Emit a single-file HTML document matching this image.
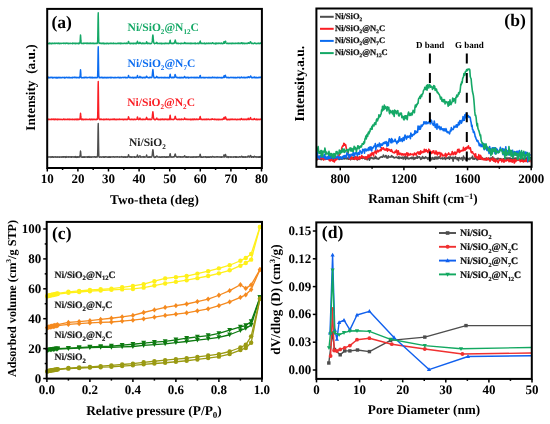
<!DOCTYPE html>
<html><head><meta charset="utf-8"><style>
html,body{margin:0;padding:0;background:#fff;}
svg{display:block;filter:blur(0.3px);}
text{font-family:'Liberation Serif','Times New Roman',serif;font-weight:bold;text-rendering:geometricPrecision}
</style></head><body>
<svg width="550" height="424" viewBox="0 0 550 424">
<rect width="550" height="424" fill="#fff"/>
<path d="M47.3 156.94 L47.45 156.87 L47.61 156.95 L47.76 157.21 L47.91 156.86 L48.07 156.93 L48.22 157.09 L48.37 156.91 L48.52 156.94 L48.68 156.95 L48.83 157 L48.98 156.91 L49.14 157.12 L49.29 157.03 L49.44 157.08 L49.6 156.9 L49.75 156.99 L49.9 157.05 L50.05 157.13 L50.21 157.04 L50.36 157 L50.51 157.04 L50.67 156.79 L50.82 156.84 L50.97 157.43 L51.13 157.3 L51.28 157.03 L51.43 157.07 L51.58 156.97 L51.74 156.97 L51.89 156.66 L52.04 157.18 L52.2 157.06 L52.35 156.67 L52.5 156.9 L52.66 156.89 L52.81 157.08 L52.96 157.26 L53.11 156.97 L53.27 156.98 L53.42 157.2 L53.57 157.11 L53.73 157.01 L53.88 157.15 L54.03 157.02 L54.19 156.98 L54.34 156.99 L54.49 157.08 L54.64 156.91 L54.8 156.86 L54.95 156.95 L55.1 157.13 L55.26 156.88 L55.41 157.08 L55.56 156.86 L55.72 157.17 L55.87 156.85 L56.02 157 L56.17 157.2 L56.33 157.05 L56.48 156.99 L56.63 156.96 L56.79 157.16 L56.94 157.18 L57.09 156.97 L57.25 157.07 L57.4 156.96 L57.55 156.88 L57.7 157.26 L57.86 156.96 L58.01 156.8 L58.16 157.05 L58.32 157.13 L58.47 156.88 L58.62 156.96 L58.78 156.86 L58.93 157.06 L59.08 157.24 L59.23 157.02 L59.39 157.07 L59.54 156.88 L59.69 156.97 L59.85 157.26 L60 157.19 L60.15 156.86 L60.31 156.89 L60.46 157.1 L60.61 157 L60.76 156.93 L60.92 156.93 L61.07 156.86 L61.22 156.96 L61.38 157.02 L61.53 157.04 L61.68 156.83 L61.84 157.36 L61.99 157.02 L62.14 156.99 L62.29 157.23 L62.45 156.95 L62.6 157.1 L62.75 156.86 L62.91 157.02 L63.06 156.89 L63.21 156.8 L63.37 156.94 L63.52 157.14 L63.67 157.24 L63.82 156.72 L63.98 157.02 L64.13 157.11 L64.28 156.98 L64.44 157.03 L64.59 156.86 L64.74 156.99 L64.9 157 L65.05 157.11 L65.2 156.92 L65.35 157.17 L65.51 156.89 L65.66 156.76 L65.81 157.24 L65.97 157.39 L66.12 156.9 L66.27 156.59 L66.43 157.16 L66.58 157.2 L66.73 156.91 L66.88 157.13 L67.04 157.08 L67.19 157.06 L67.34 156.91 L67.5 157.06 L67.65 156.96 L67.8 157.03 L67.96 157.14 L68.11 157.05 L68.26 157.15 L68.41 157 L68.57 157.18 L68.72 157.17 L68.87 156.77 L69.03 157.01 L69.18 157.01 L69.33 156.92 L69.49 157.07 L69.64 157.04 L69.79 156.93 L69.94 156.95 L70.1 157.19 L70.25 156.87 L70.4 157.09 L70.56 157.17 L70.71 157.14 L70.86 157.06 L71.02 156.74 L71.17 157.19 L71.32 156.97 L71.47 157.34 L71.63 157 L71.78 156.86 L71.93 157.04 L72.09 157.1 L72.24 156.96 L72.39 156.89 L72.55 156.89 L72.7 156.68 L72.85 156.97 L73 157.09 L73.16 157.02 L73.31 157.01 L73.46 156.98 L73.62 157 L73.77 156.97 L73.92 157.27 L74.08 156.87 L74.23 157.09 L74.38 157.19 L74.53 156.9 L74.69 156.79 L74.84 156.92 L74.99 156.97 L75.15 157.15 L75.3 156.54 L75.45 156.86 L75.61 157.18 L75.76 157.12 L75.91 156.99 L76.06 157.25 L76.22 156.97 L76.37 157.07 L76.52 156.8 L76.68 156.85 L76.83 157.43 L76.98 156.99 L77.14 157.26 L77.29 156.82 L77.44 156.97 L77.59 156.91 L77.75 157.17 L77.9 156.71 L78.05 156.68 L78.21 157.17 L78.36 156.94 L78.51 157.11 L78.67 157 L78.82 157.2 L78.97 156.7 L79.12 157.16 L79.28 157.05 L79.43 156.92 L79.58 157.1 L79.74 156.98 L79.89 156.81 L80.04 156 L80.2 154.59 L80.35 152.39 L80.5 151.07 L80.65 151.68 L80.81 153.57 L80.96 155.5 L81.11 156.39 L81.27 156.94 L81.42 157 L81.57 157.1 L81.73 157.08 L81.88 157.2 L82.03 156.92 L82.18 157.18 L82.34 157.12 L82.49 156.94 L82.64 156.94 L82.8 157.06 L82.95 157.32 L83.1 156.93 L83.26 156.96 L83.41 157.23 L83.56 156.88 L83.71 157.11 L83.87 157.18 L84.02 156.98 L84.17 157.03 L84.33 156.97 L84.48 157.26 L84.63 156.71 L84.79 157.1 L84.94 157.25 L85.09 156.9 L85.24 157.06 L85.4 156.95 L85.55 157.05 L85.7 157.01 L85.86 156.96 L86.01 157.12 L86.16 156.89 L86.32 157.08 L86.47 157.14 L86.62 156.99 L86.77 156.93 L86.93 157.04 L87.08 157.14 L87.23 156.9 L87.39 157.28 L87.54 157.16 L87.69 156.99 L87.85 157.22 L88 157 L88.15 157.01 L88.3 156.86 L88.46 157.15 L88.61 157.1 L88.76 156.95 L88.92 157.39 L89.07 156.5 L89.22 157.11 L89.38 157.12 L89.53 156.86 L89.68 157.01 L89.83 157.28 L89.99 156.9 L90.14 156.86 L90.29 157.07 L90.45 157.05 L90.6 156.92 L90.75 157.15 L90.91 156.93 L91.06 156.97 L91.21 157.11 L91.36 157.22 L91.52 157.04 L91.67 157.14 L91.82 156.84 L91.98 156.98 L92.13 156.87 L92.28 156.98 L92.44 156.96 L92.59 157.13 L92.74 156.89 L92.89 156.71 L93.05 157.05 L93.2 157.09 L93.35 157.03 L93.51 157.08 L93.66 157.11 L93.81 156.98 L93.97 157.05 L94.12 156.77 L94.27 157 L94.42 156.95 L94.58 156.85 L94.73 157.05 L94.88 156.77 L95.04 157.1 L95.19 157.13 L95.34 157.06 L95.5 157.02 L95.65 157.22 L95.8 157.01 L95.95 157.27 L96.11 156.78 L96.26 157.01 L96.41 157.1 L96.57 157.15 L96.72 157.06 L96.87 157.04 L97.03 157.17 L97.18 157.14 L97.33 156.93 L97.48 156.45 L97.64 154.05 L97.79 148.06 L97.94 137.59 L98.1 126.49 L98.25 123.45 L98.4 130.4 L98.56 142.29 L98.71 151.14 L98.86 155.14 L99.01 157.05 L99.17 156.91 L99.32 157.17 L99.47 156.9 L99.63 157.21 L99.78 157.08 L99.93 156.97 L100.09 156.9 L100.24 156.99 L100.39 157.13 L100.54 157.09 L100.7 156.86 L100.85 157 L101 157.27 L101.16 156.87 L101.31 156.93 L101.46 156.86 L101.62 157.05 L101.77 156.87 L101.92 157.17 L102.07 156.91 L102.23 157.08 L102.38 156.89 L102.53 156.84 L102.69 157.12 L102.84 157.01 L102.99 156.99 L103.15 156.81 L103.3 156.89 L103.45 157.2 L103.6 156.93 L103.76 156.88 L103.91 156.66 L104.06 157.27 L104.22 157.09 L104.37 156.79 L104.52 157.22 L104.68 157.19 L104.83 156.92 L104.98 156.84 L105.13 157.11 L105.29 156.91 L105.44 156.98 L105.59 156.76 L105.75 157 L105.9 156.84 L106.05 157.14 L106.21 157.03 L106.36 157.02 L106.51 156.82 L106.66 156.91 L106.82 157.12 L106.97 156.89 L107.12 156.88 L107.28 157.02 L107.43 157.04 L107.58 157.03 L107.74 157.27 L107.89 156.97 L108.04 156.96 L108.19 157.14 L108.35 156.88 L108.5 157.22 L108.65 157.09 L108.81 157.08 L108.96 156.68 L109.11 157.26 L109.27 156.91 L109.42 156.85 L109.57 156.94 L109.72 156.81 L109.88 157.16 L110.03 157.36 L110.18 156.88 L110.34 157.19 L110.49 157.05 L110.64 157.19 L110.8 156.83 L110.95 156.86 L111.1 157.12 L111.25 156.86 L111.41 156.98 L111.56 157.02 L111.71 156.99 L111.87 157.03 L112.02 156.9 L112.17 156.95 L112.33 157.06 L112.48 156.84 L112.63 157.1 L112.78 156.95 L112.94 156.93 L113.09 156.76 L113.24 157.08 L113.4 156.72 L113.55 156.97 L113.7 157.03 L113.86 157.11 L114.01 156.91 L114.16 156.99 L114.31 157.18 L114.47 157.18 L114.62 157.09 L114.77 157.11 L114.93 156.83 L115.08 156.78 L115.23 156.86 L115.39 156.94 L115.54 157.07 L115.69 156.99 L115.84 156.86 L116 156.66 L116.15 156.85 L116.3 157.04 L116.46 156.99 L116.61 157.08 L116.76 157.13 L116.92 157.03 L117.07 156.97 L117.22 156.71 L117.37 156.99 L117.53 156.78 L117.68 156.72 L117.83 156.99 L117.99 156.74 L118.14 156.89 L118.29 157.07 L118.45 156.96 L118.6 157 L118.75 157.04 L118.9 157.03 L119.06 156.98 L119.21 156.93 L119.36 157.14 L119.52 157 L119.67 157.24 L119.82 156.96 L119.98 156.9 L120.13 156.97 L120.28 156.95 L120.43 156.91 L120.59 157.11 L120.74 157.04 L120.89 156.92 L121.05 156.84 L121.2 156.94 L121.35 156.59 L121.51 157.01 L121.66 156.84 L121.81 156.8 L121.96 157.02 L122.12 157.13 L122.27 157.19 L122.42 156.97 L122.58 156.82 L122.73 156.96 L122.88 156.97 L123.04 157.06 L123.19 156.91 L123.34 157.34 L123.49 156.96 L123.65 157 L123.8 157.22 L123.95 156.65 L124.11 157.22 L124.26 157.17 L124.41 157.19 L124.57 156.82 L124.72 157.14 L124.87 156.89 L125.02 156.91 L125.18 156.96 L125.33 157.21 L125.48 157.1 L125.64 156.73 L125.79 157.21 L125.94 157.13 L126.1 157.03 L126.25 156.87 L126.4 156.96 L126.55 156.88 L126.71 157.17 L126.86 156.85 L127.01 156.91 L127.17 157.26 L127.32 156.75 L127.47 156.63 L127.63 157.12 L127.78 156.95 L127.93 156.58 L128.08 156.61 L128.24 155.92 L128.39 155.02 L128.54 154.66 L128.7 155.18 L128.85 155.84 L129 156.54 L129.16 157.08 L129.31 156.89 L129.46 156.7 L129.61 156.81 L129.77 156.84 L129.92 157 L130.07 156.84 L130.23 157.15 L130.38 156.88 L130.53 157.01 L130.69 156.82 L130.84 156.93 L130.99 157.17 L131.14 156.98 L131.3 156.81 L131.45 157.18 L131.6 157.09 L131.76 157.12 L131.91 157.24 L132.06 156.85 L132.22 156.79 L132.37 156.87 L132.52 156.96 L132.67 157.01 L132.83 156.96 L132.98 157.12 L133.13 156.86 L133.29 156.83 L133.44 156.85 L133.59 157.08 L133.75 156.99 L133.9 157.03 L134.05 156.71 L134.2 156.97 L134.36 157.3 L134.51 156.94 L134.66 156.7 L134.82 156.89 L134.97 156.86 L135.12 156.99 L135.28 157.32 L135.43 157.29 L135.58 157.2 L135.73 157.02 L135.89 156.95 L136.04 156.89 L136.19 157.05 L136.35 156.85 L136.5 157.04 L136.65 157.1 L136.81 156.79 L136.96 156.86 L137.11 156.65 L137.26 155.64 L137.42 154.9 L137.57 155.48 L137.72 155.68 L137.88 156.39 L138.03 157 L138.18 157.18 L138.34 157.06 L138.49 157.09 L138.64 156.8 L138.79 156.94 L138.95 157.25 L139.1 157.13 L139.25 156.86 L139.41 156.6 L139.56 156.62 L139.71 156.25 L139.87 155.61 L140.02 155.79 L140.17 156.1 L140.32 156.7 L140.48 156.87 L140.63 156.59 L140.78 157.22 L140.94 157 L141.09 157.23 L141.24 156.98 L141.4 156.86 L141.55 157.04 L141.7 156.88 L141.85 156.88 L142.01 156.93 L142.16 156.73 L142.31 156.88 L142.47 157.05 L142.62 157.11 L142.77 157.14 L142.93 156.92 L143.08 157.05 L143.23 156.56 L143.38 156.71 L143.54 157.03 L143.69 157.05 L143.84 156.73 L144 157.3 L144.15 157.07 L144.3 156.85 L144.46 157.15 L144.61 157.08 L144.76 157.06 L144.91 156.89 L145.07 156.98 L145.22 156.94 L145.37 156.9 L145.53 156.99 L145.68 156.82 L145.83 157.09 L145.99 157.11 L146.14 156.9 L146.29 156.34 L146.44 155.54 L146.6 155 L146.75 155.43 L146.9 156.18 L147.06 156.78 L147.21 156.97 L147.36 157.04 L147.52 157.09 L147.67 157.23 L147.82 157.08 L147.97 156.84 L148.13 157.35 L148.28 157.04 L148.43 157.34 L148.59 156.97 L148.74 157.12 L148.89 157.33 L149.05 156.98 L149.2 156.71 L149.35 156.98 L149.5 156.81 L149.66 157.01 L149.81 157.35 L149.96 156.92 L150.12 157.07 L150.27 157.23 L150.42 156.87 L150.58 156.95 L150.73 157.08 L150.88 156.86 L151.03 157.14 L151.19 156.9 L151.34 157.15 L151.49 156.9 L151.65 157.11 L151.8 156.56 L151.95 156.44 L152.11 155.59 L152.26 154.83 L152.41 153.22 L152.56 151.29 L152.72 150.47 L152.87 149.67 L153.02 149.87 L153.18 151.35 L153.33 152.99 L153.48 154.75 L153.64 155.73 L153.79 156.59 L153.94 157.02 L154.09 157.21 L154.25 157.07 L154.4 157.08 L154.55 157.1 L154.71 157.57 L154.86 157.32 L155.01 157.09 L155.17 156.95 L155.32 157.09 L155.47 157.14 L155.62 157.37 L155.78 156.68 L155.93 157.17 L156.08 156.71 L156.24 156.65 L156.39 156.64 L156.54 156.39 L156.7 155.88 L156.85 155.97 L157 156 L157.15 156.47 L157.31 156.71 L157.46 156.79 L157.61 156.71 L157.77 157.06 L157.92 156.83 L158.07 157.13 L158.23 157.14 L158.38 157.1 L158.53 157.16 L158.68 156.84 L158.84 156.85 L158.99 156.8 L159.14 157 L159.3 156.96 L159.45 157.09 L159.6 157.18 L159.76 156.93 L159.91 156.96 L160.06 157.18 L160.21 156.91 L160.37 157.28 L160.52 157.03 L160.67 157.1 L160.83 157.08 L160.98 157.17 L161.13 156.85 L161.29 156.91 L161.44 156.81 L161.59 156.98 L161.74 157.21 L161.9 157.06 L162.05 157.19 L162.2 156.93 L162.36 156.81 L162.51 156.95 L162.66 157.1 L162.82 157.06 L162.97 156.97 L163.12 157.23 L163.27 156.98 L163.43 156.97 L163.58 157.09 L163.73 157.07 L163.89 156.98 L164.04 157.13 L164.19 157.13 L164.35 156.88 L164.5 156.97 L164.65 156.73 L164.8 157.16 L164.96 157.29 L165.11 156.85 L165.26 156.85 L165.42 157.12 L165.57 157.24 L165.72 157.01 L165.88 157.28 L166.03 157.06 L166.18 157.35 L166.33 157.04 L166.49 157.34 L166.64 157.04 L166.79 156.76 L166.95 157.05 L167.1 156.88 L167.25 157.11 L167.41 157.15 L167.56 157.25 L167.71 156.84 L167.86 157.02 L168.02 156.75 L168.17 157.2 L168.32 157.04 L168.48 156.99 L168.63 156.78 L168.78 156.72 L168.94 157.11 L169.09 157.19 L169.24 157.27 L169.39 156.73 L169.55 156.72 L169.7 156.17 L169.85 154.92 L170.01 154.13 L170.16 153.64 L170.31 154 L170.47 155.36 L170.62 156.36 L170.77 157 L170.92 156.88 L171.08 156.72 L171.23 157.2 L171.38 157.01 L171.54 157.08 L171.69 156.95 L171.84 157.01 L172 157.03 L172.15 157.15 L172.3 157.01 L172.45 157.11 L172.61 157.03 L172.76 157.02 L172.91 156.9 L173.07 157.1 L173.22 157.06 L173.37 156.84 L173.53 157.04 L173.68 157.05 L173.83 156.86 L173.98 156.94 L174.14 156.91 L174.29 156.76 L174.44 156.73 L174.6 156.02 L174.75 155.25 L174.9 154.68 L175.06 154.47 L175.21 153.96 L175.36 154.37 L175.51 154.81 L175.67 155.44 L175.82 156.28 L175.97 156.32 L176.13 156.81 L176.28 156.8 L176.43 156.88 L176.59 156.78 L176.74 156.81 L176.89 157.24 L177.04 157 L177.2 157.35 L177.35 157.08 L177.5 156.89 L177.66 156.86 L177.81 156.8 L177.96 157.07 L178.12 156.95 L178.27 156.99 L178.42 156.8 L178.57 156.75 L178.73 157.06 L178.88 156.4 L179.03 157.01 L179.19 157.06 L179.34 156.91 L179.49 156.88 L179.65 156.92 L179.8 157.11 L179.95 156.77 L180.1 157 L180.26 156.76 L180.41 156.78 L180.56 157.21 L180.72 157.16 L180.87 157.16 L181.02 156.96 L181.18 156.99 L181.33 156.96 L181.48 157.13 L181.63 156.93 L181.79 156.78 L181.94 157.22 L182.09 157.03 L182.25 156.96 L182.4 157.02 L182.55 157.03 L182.71 156.72 L182.86 156.8 L183.01 156.87 L183.16 157.12 L183.32 156.64 L183.47 156.94 L183.62 157.09 L183.78 157.05 L183.93 157.04 L184.08 156.5 L184.24 156.52 L184.39 156.12 L184.54 156.16 L184.69 155.73 L184.85 156.39 L185 156.8 L185.15 156.77 L185.31 157.11 L185.46 156.86 L185.61 156.82 L185.77 157.29 L185.92 157.02 L186.07 157.25 L186.22 157.01 L186.38 156.86 L186.53 157.22 L186.68 156.71 L186.84 157.05 L186.99 157.19 L187.14 157.02 L187.3 156.88 L187.45 157.22 L187.6 157 L187.75 157.22 L187.91 156.81 L188.06 156.98 L188.21 157.07 L188.37 156.84 L188.52 157.21 L188.67 157.07 L188.83 156.71 L188.98 157.02 L189.13 156.79 L189.28 156.97 L189.44 157.12 L189.59 157.04 L189.74 156.99 L189.9 157.07 L190.05 157.14 L190.2 157.13 L190.36 157.24 L190.51 156.99 L190.66 156.94 L190.81 156.88 L190.97 157.29 L191.12 156.87 L191.27 157.01 L191.43 157.23 L191.58 156.99 L191.73 156.87 L191.89 156.92 L192.04 156.89 L192.19 156.85 L192.34 156.86 L192.5 157.01 L192.65 157.34 L192.8 157.12 L192.96 156.95 L193.11 157.08 L193.26 156.89 L193.42 156.88 L193.57 157 L193.72 156.7 L193.87 157.16 L194.03 156.85 L194.18 157.08 L194.33 157.13 L194.49 156.91 L194.64 157.1 L194.79 156.87 L194.95 157.19 L195.1 157 L195.25 157.14 L195.4 157.04 L195.56 157.06 L195.71 157.18 L195.86 156.9 L196.02 157.2 L196.17 157.16 L196.32 156.86 L196.48 156.85 L196.63 156.9 L196.78 156.95 L196.93 156.64 L197.09 157.2 L197.24 157.12 L197.39 157.16 L197.55 156.86 L197.7 156.96 L197.85 156.82 L198.01 156.85 L198.16 157.04 L198.31 157.13 L198.46 157.16 L198.62 156.65 L198.77 156.85 L198.92 156.91 L199.08 157.06 L199.23 157.03 L199.38 157.03 L199.54 156.92 L199.69 156.92 L199.84 155.82 L199.99 154.92 L200.15 154.22 L200.3 154.5 L200.45 155.29 L200.61 156.3 L200.76 156.65 L200.91 157.36 L201.07 157.17 L201.22 156.73 L201.37 157.2 L201.52 157.05 L201.68 156.89 L201.83 157.14 L201.98 156.89 L202.14 157.23 L202.29 157.31 L202.44 157.21 L202.6 157.27 L202.75 157.01 L202.9 157.05 L203.05 156.95 L203.21 157.17 L203.36 156.6 L203.51 157.02 L203.67 157.01 L203.82 156.93 L203.97 157.04 L204.13 157.1 L204.28 156.99 L204.43 156.86 L204.58 156.9 L204.74 156.85 L204.89 157.09 L205.04 157.13 L205.2 156.68 L205.35 157.04 L205.5 156.93 L205.66 156.88 L205.81 156.77 L205.96 157.22 L206.11 157.08 L206.27 157.07 L206.42 157.05 L206.57 157.39 L206.73 157.02 L206.88 157.46 L207.03 156.95 L207.19 156.92 L207.34 156.91 L207.49 157.19 L207.64 156.85 L207.8 157.14 L207.95 157.2 L208.1 157.16 L208.26 157.14 L208.41 156.97 L208.56 156.87 L208.72 157.34 L208.87 157.09 L209.02 156.86 L209.17 156.97 L209.33 156.92 L209.48 157.24 L209.63 156.85 L209.79 157.25 L209.94 156.97 L210.09 156.78 L210.25 156.7 L210.4 156.92 L210.55 156.86 L210.7 157.1 L210.86 157.08 L211.01 156.81 L211.16 157 L211.32 157.02 L211.47 157.23 L211.62 156.97 L211.78 156.89 L211.93 157.08 L212.08 156.92 L212.23 156.4 L212.39 156.42 L212.54 156.44 L212.69 156.7 L212.85 156.83 L213 156.94 L213.15 156.75 L213.31 157.09 L213.46 156.71 L213.61 157.15 L213.76 157.06 L213.92 156.87 L214.07 157.04 L214.22 157.13 L214.38 157.02 L214.53 156.93 L214.68 157.27 L214.84 157.04 L214.99 157.02 L215.14 157.06 L215.29 156.88 L215.45 157.09 L215.6 157.06 L215.75 156.99 L215.91 156.88 L216.06 157.04 L216.21 156.76 L216.37 157.15 L216.52 156.79 L216.67 157.14 L216.82 157.03 L216.98 156.94 L217.13 156.67 L217.28 156.86 L217.44 157.06 L217.59 156.79 L217.74 157.03 L217.9 157.13 L218.05 156.93 L218.2 156.98 L218.35 156.85 L218.51 157.09 L218.66 156.94 L218.81 156.9 L218.97 156.96 L219.12 157 L219.27 157.11 L219.43 156.86 L219.58 156.98 L219.73 156.92 L219.88 157.06 L220.04 157 L220.19 157.17 L220.34 156.99 L220.5 156.88 L220.65 156.99 L220.8 156.86 L220.96 156.95 L221.11 156.78 L221.26 157.03 L221.41 157.26 L221.57 156.93 L221.72 157.03 L221.87 157.16 L222.03 156.9 L222.18 156.96 L222.33 156.93 L222.49 157.05 L222.64 156.97 L222.79 156.96 L222.94 156.72 L223.1 157.1 L223.25 156.97 L223.4 156.79 L223.56 156.8 L223.71 156.21 L223.86 155.01 L224.02 155.46 L224.17 155.48 L224.32 156.33 L224.47 156.77 L224.63 157.05 L224.78 156.57 L224.93 155.64 L225.09 155.23 L225.24 154.52 L225.39 154.62 L225.55 154.56 L225.7 155.19 L225.85 155.33 L226 155.96 L226.16 156.65 L226.31 157.14 L226.46 156.73 L226.62 157.21 L226.77 157.08 L226.92 156.86 L227.08 156.82 L227.23 157.14 L227.38 157.01 L227.53 157.04 L227.69 156.81 L227.84 156.6 L227.99 157.29 L228.15 156.85 L228.3 157.46 L228.45 157 L228.61 157.18 L228.76 156.68 L228.91 156.97 L229.06 157.12 L229.22 157.08 L229.37 157.09 L229.52 156.97 L229.68 157.03 L229.83 156.9 L229.98 156.75 L230.14 156.89 L230.29 157.2 L230.44 157.26 L230.59 157.12 L230.75 156.83 L230.9 157.05 L231.05 157.11 L231.21 156.98 L231.36 157.23 L231.51 157.18 L231.67 156.92 L231.82 157.05 L231.97 157.07 L232.12 156.95 L232.28 157.09 L232.43 157.11 L232.58 157.07 L232.74 156.9 L232.89 156.99 L233.04 157.19 L233.2 157.05 L233.35 156.9 L233.5 156.7 L233.65 157.18 L233.81 156.95 L233.96 157.04 L234.11 156.87 L234.27 156.93 L234.42 156.76 L234.57 156.92 L234.73 157.09 L234.88 157.09 L235.03 156.94 L235.18 156.94 L235.34 156.62 L235.49 156.73 L235.64 157.19 L235.8 156.94 L235.95 157.21 L236.1 157.26 L236.26 156.88 L236.41 156.91 L236.56 157.17 L236.71 156.74 L236.87 157.16 L237.02 157.19 L237.17 156.9 L237.33 156.96 L237.48 157.03 L237.63 157.01 L237.79 156.96 L237.94 157.02 L238.09 157.03 L238.24 157.3 L238.4 157.21 L238.55 156.9 L238.7 157.11 L238.86 156.91 L239.01 156.8 L239.16 157.06 L239.32 156.95 L239.47 156.67 L239.62 156.89 L239.77 156.71 L239.93 156.75 L240.08 156.88 L240.23 157.02 L240.39 157.13 L240.54 157.18 L240.69 156.92 L240.85 156.9 L241 156.95 L241.15 156.64 L241.3 156.66 L241.46 156.23 L241.61 156.42 L241.76 156.61 L241.92 156.81 L242.07 156.95 L242.22 156.59 L242.38 157.26 L242.53 156.97 L242.68 156.8 L242.83 156.89 L242.99 157.05 L243.14 156.72 L243.29 157.17 L243.45 157.21 L243.6 156.91 L243.75 157.23 L243.91 157.38 L244.06 156.86 L244.21 156.88 L244.36 156.88 L244.52 157.08 L244.67 156.97 L244.82 157.15 L244.98 156.72 L245.13 156.87 L245.28 156.88 L245.44 157.31 L245.59 156.87 L245.74 156.76 L245.89 156.81 L246.05 156.87 L246.2 157 L246.35 157.05 L246.51 156.9 L246.66 156.94 L246.81 156.96 L246.97 157.05 L247.12 156.73 L247.27 157.19 L247.42 157 L247.58 157.05 L247.73 156.68 L247.88 156.37 L248.04 156.09 L248.19 155.97 L248.34 156.4 L248.5 156.14 L248.65 156.68 L248.8 156.94 L248.95 156.98 L249.11 157.05 L249.26 156.92 L249.41 156.91 L249.57 156.95 L249.72 157.18 L249.87 156.55 L250.03 156.15 L250.18 155.8 L250.33 155.63 L250.48 155.43 L250.64 155.44 L250.79 155.96 L250.94 155.99 L251.1 156.85 L251.25 156.97 L251.4 157.04 L251.56 157.35 L251.71 157.15 L251.86 156.8 L252.01 156.8 L252.17 156.98 L252.32 156.72 L252.47 156.96 L252.63 157.08 L252.78 156.96 L252.93 157.02 L253.09 156.88 L253.24 157.24 L253.39 156.84 L253.54 157.07 L253.7 156.84 L253.85 157.16 L254 156.84 L254.16 156.55 L254.31 156.26 L254.46 156.62 L254.62 156.34 L254.77 156.73 L254.92 157.02 L255.07 156.79 L255.23 156.98 L255.38 156.81 L255.53 156.63 L255.69 156.88 L255.84 157.08 L255.99 157.07 L256.15 156.91 L256.3 156.95 L256.45 157.13 L256.6 157.11 L256.76 156.89 L256.91 156.62 L257.06 157.42 L257.22 156.88 L257.37 157.03 L257.52 156.88 L257.68 156.86 L257.83 156.99 L257.98 157.16 L258.13 157.22 L258.29 157.3 L258.44 156.8 L258.59 157.03 L258.75 157.09 L258.9 157.04 L259.05 157.21 L259.21 156.95 L259.36 156.79 L259.51 156.82 L259.66 157.25 L259.82 156.78 L259.97 157.12 L260.12 157.31 L260.28 157.19 L260.43 157.14 L260.58 156.94 L260.74 156.98 L260.89 156.85 L261.04 156.47 L261.19 156.1 L261.35 156.68 L261.5 156.7" fill="none" stroke="#4e4e4e" stroke-width="1.4" stroke-linejoin="round" />
<path d="M47.3 119.37 L47.45 119.48 L47.61 119.47 L47.76 119.79 L47.91 119.11 L48.07 119.22 L48.22 119.45 L48.37 119.28 L48.52 119.36 L48.68 119.49 L48.83 119.24 L48.98 119.45 L49.14 119.45 L49.29 119.53 L49.44 119.33 L49.6 119.42 L49.75 119.31 L49.9 119.5 L50.05 119.38 L50.21 119.54 L50.36 119.27 L50.51 119.37 L50.67 119.35 L50.82 119.33 L50.97 119.56 L51.13 119.27 L51.28 119.07 L51.43 119.66 L51.58 119.68 L51.74 119.64 L51.89 119.27 L52.04 119.38 L52.2 119.23 L52.35 119.28 L52.5 119.37 L52.66 119.35 L52.81 119.43 L52.96 119.26 L53.11 119.58 L53.27 119.47 L53.42 119.36 L53.57 119.11 L53.73 119.52 L53.88 119.57 L54.03 119.49 L54.19 119.24 L54.34 119.44 L54.49 119.19 L54.64 119.7 L54.8 119.22 L54.95 119.23 L55.1 119.63 L55.26 119.38 L55.41 119.21 L55.56 119.39 L55.72 119.24 L55.87 119.02 L56.02 119.36 L56.17 119.44 L56.33 119.52 L56.48 119.3 L56.63 119.43 L56.79 119.43 L56.94 119.42 L57.09 119.3 L57.25 119.57 L57.4 119.64 L57.55 119.79 L57.7 119.21 L57.86 119.39 L58.01 119.16 L58.16 119.4 L58.32 119.52 L58.47 119.32 L58.62 119.41 L58.78 119.6 L58.93 119.54 L59.08 119.12 L59.23 119.34 L59.39 119.33 L59.54 119.44 L59.69 119.51 L59.85 119.26 L60 119.42 L60.15 119.52 L60.31 119.42 L60.46 119.54 L60.61 119.37 L60.76 119.22 L60.92 119.53 L61.07 119.17 L61.22 119.51 L61.38 119.38 L61.53 119.53 L61.68 119.44 L61.84 119.39 L61.99 119.47 L62.14 119.51 L62.29 119.51 L62.45 119.53 L62.6 119.65 L62.75 119.44 L62.91 119.34 L63.06 119.25 L63.21 119.3 L63.37 119.01 L63.52 119.35 L63.67 119.47 L63.82 119.1 L63.98 119.57 L64.13 119.25 L64.28 119.55 L64.44 119.34 L64.59 119.71 L64.74 119.26 L64.9 119.43 L65.05 119.55 L65.2 119.13 L65.35 119.28 L65.51 119.39 L65.66 119.52 L65.81 119.41 L65.97 119.43 L66.12 119.28 L66.27 119.27 L66.43 119.51 L66.58 119.49 L66.73 119.49 L66.88 119.62 L67.04 119.49 L67.19 119.41 L67.34 119.29 L67.5 119.19 L67.65 119.53 L67.8 119.31 L67.96 119.47 L68.11 119.07 L68.26 119.41 L68.41 119.32 L68.57 119.55 L68.72 119.53 L68.87 119.37 L69.03 119.46 L69.18 119.34 L69.33 119.65 L69.49 119.29 L69.64 119.54 L69.79 119.12 L69.94 119.45 L70.1 119.22 L70.25 119.62 L70.4 119.33 L70.56 119.54 L70.71 119.48 L70.86 119.4 L71.02 119.45 L71.17 119.36 L71.32 119.28 L71.47 119.3 L71.63 119.41 L71.78 119.62 L71.93 119.53 L72.09 119.43 L72.24 119.74 L72.39 119.28 L72.55 119.44 L72.7 119.44 L72.85 119.25 L73 119.29 L73.16 119.36 L73.31 119.56 L73.46 119.35 L73.62 119.34 L73.77 119.54 L73.92 119.23 L74.08 119.32 L74.23 119.72 L74.38 119.38 L74.53 119.6 L74.69 119.22 L74.84 119.27 L74.99 119.58 L75.15 119.54 L75.3 119.38 L75.45 119.44 L75.61 119.16 L75.76 119.28 L75.91 119.45 L76.06 119.31 L76.22 119.73 L76.37 119.35 L76.52 119.26 L76.68 119.43 L76.83 119.51 L76.98 119.31 L77.14 119.09 L77.29 119.37 L77.44 119.58 L77.59 119.17 L77.75 119.7 L77.9 119.32 L78.05 119.49 L78.21 119.25 L78.36 119.54 L78.51 119.19 L78.67 119.35 L78.82 119.68 L78.97 119.72 L79.12 119.45 L79.28 119.19 L79.43 119.38 L79.58 119.38 L79.74 119.38 L79.89 119 L80.04 118.32 L80.2 116.76 L80.35 114.88 L80.5 113.25 L80.65 113.81 L80.81 116.18 L80.96 117.49 L81.11 118.79 L81.27 119.37 L81.42 119.69 L81.57 119.29 L81.73 119.31 L81.88 119.5 L82.03 119.69 L82.18 119.22 L82.34 119.49 L82.49 119.48 L82.64 118.94 L82.8 119.06 L82.95 119.25 L83.1 119.47 L83.26 119.3 L83.41 119.77 L83.56 119.38 L83.71 119.52 L83.87 119.61 L84.02 119.65 L84.17 119.32 L84.33 119.39 L84.48 119.37 L84.63 119.27 L84.79 119.54 L84.94 119.6 L85.09 119.68 L85.24 119.45 L85.4 119.28 L85.55 119.42 L85.7 119.3 L85.86 119.59 L86.01 119.48 L86.16 119.52 L86.32 119.6 L86.47 119.1 L86.62 119.26 L86.77 119.52 L86.93 119.52 L87.08 119.41 L87.23 119.63 L87.39 119.33 L87.54 119.61 L87.69 119.46 L87.85 119.56 L88 119.48 L88.15 119.61 L88.3 119.65 L88.46 119.55 L88.61 119.51 L88.76 119.45 L88.92 119.39 L89.07 119.16 L89.22 119.27 L89.38 119.44 L89.53 119.28 L89.68 119.51 L89.83 119.17 L89.99 119.31 L90.14 119.62 L90.29 119.28 L90.45 119.27 L90.6 119.83 L90.75 119.52 L90.91 119.48 L91.06 119.71 L91.21 119.57 L91.36 119.55 L91.52 119.32 L91.67 119.35 L91.82 118.98 L91.98 119.46 L92.13 119.22 L92.28 119.39 L92.44 119.36 L92.59 119.59 L92.74 119.71 L92.89 119.52 L93.05 119.28 L93.2 119.15 L93.35 119.3 L93.51 119.32 L93.66 119.53 L93.81 119.15 L93.97 119.18 L94.12 119.48 L94.27 119.41 L94.42 119.56 L94.58 119.17 L94.73 119.33 L94.88 119.42 L95.04 119.33 L95.19 119.33 L95.34 119.47 L95.5 119.6 L95.65 119.61 L95.8 119.68 L95.95 119.33 L96.11 119.05 L96.26 119.67 L96.41 119.38 L96.57 119.33 L96.72 119.56 L96.87 119.37 L97.03 119.57 L97.18 119.2 L97.33 119.38 L97.48 118.68 L97.64 116.17 L97.79 109.68 L97.94 97.99 L98.1 85.47 L98.25 81.54 L98.4 89.79 L98.56 102.92 L98.71 113.11 L98.86 117.58 L99.01 118.93 L99.17 119.35 L99.32 119.09 L99.47 119.43 L99.63 119.57 L99.78 119.66 L99.93 119.22 L100.09 119.41 L100.24 119.24 L100.39 119.33 L100.54 119.14 L100.7 119.2 L100.85 119.46 L101 119.36 L101.16 119.23 L101.31 119.6 L101.46 119.17 L101.62 119.21 L101.77 119.24 L101.92 119.43 L102.07 119.35 L102.23 119.58 L102.38 119.39 L102.53 119.49 L102.69 119.39 L102.84 119.48 L102.99 119.35 L103.15 119.21 L103.3 119.61 L103.45 119.25 L103.6 119.72 L103.76 119.75 L103.91 119.42 L104.06 119.4 L104.22 119.33 L104.37 119.66 L104.52 119.41 L104.68 119.38 L104.83 119.2 L104.98 119.42 L105.13 119.32 L105.29 119.56 L105.44 119.43 L105.59 119.47 L105.75 119.29 L105.9 119.56 L106.05 119.53 L106.21 119.31 L106.36 119.11 L106.51 119.34 L106.66 119.35 L106.82 119.46 L106.97 119.23 L107.12 119.31 L107.28 119.12 L107.43 119.35 L107.58 119.55 L107.74 119.49 L107.89 119.56 L108.04 119.6 L108.19 119.2 L108.35 119.27 L108.5 119.6 L108.65 119.11 L108.81 119.36 L108.96 119.55 L109.11 119.34 L109.27 119.41 L109.42 119.52 L109.57 119.71 L109.72 119.39 L109.88 119.35 L110.03 119.81 L110.18 119.31 L110.34 119.3 L110.49 119.48 L110.64 119.38 L110.8 119.44 L110.95 119.53 L111.1 119.46 L111.25 119.18 L111.41 119.63 L111.56 119.36 L111.71 119.37 L111.87 119.51 L112.02 119.47 L112.17 119.62 L112.33 119.54 L112.48 119.4 L112.63 119.35 L112.78 119.54 L112.94 118.91 L113.09 119.49 L113.24 119.38 L113.4 119.44 L113.55 119.46 L113.7 119.19 L113.86 119.48 L114.01 119.19 L114.16 119.22 L114.31 119.57 L114.47 119.23 L114.62 119.5 L114.77 118.96 L114.93 119.46 L115.08 119.55 L115.23 119.71 L115.39 119.61 L115.54 119.49 L115.69 119.56 L115.84 119.6 L116 119.51 L116.15 119.43 L116.3 119.17 L116.46 119.67 L116.61 119.49 L116.76 119.55 L116.92 119.64 L117.07 119.6 L117.22 119.54 L117.37 119.29 L117.53 119.43 L117.68 119.49 L117.83 119.3 L117.99 119.36 L118.14 119.44 L118.29 119.34 L118.45 119.53 L118.6 119.3 L118.75 119.33 L118.9 119.47 L119.06 119.6 L119.21 119.16 L119.36 119.38 L119.52 118.91 L119.67 119.5 L119.82 119.26 L119.98 119.47 L120.13 119.36 L120.28 119.27 L120.43 119.53 L120.59 119.42 L120.74 119.37 L120.89 119.38 L121.05 119.3 L121.2 119.24 L121.35 119.27 L121.51 119.36 L121.66 119.46 L121.81 119.58 L121.96 119.52 L122.12 119.48 L122.27 119.29 L122.42 119.46 L122.58 119.6 L122.73 119.3 L122.88 119.53 L123.04 119.52 L123.19 119.44 L123.34 119.32 L123.49 119.79 L123.65 119.58 L123.8 119.37 L123.95 119.46 L124.11 119.54 L124.26 119.49 L124.41 119.18 L124.57 119.47 L124.72 119.29 L124.87 119.27 L125.02 119.47 L125.18 119.33 L125.33 119.47 L125.48 119.5 L125.64 119.58 L125.79 119.26 L125.94 119.46 L126.1 119.49 L126.25 119.58 L126.4 119.11 L126.55 119.28 L126.71 119.42 L126.86 119.51 L127.01 119.64 L127.17 119.35 L127.32 119.35 L127.47 119.62 L127.63 119.21 L127.78 119.23 L127.93 119.33 L128.08 118.78 L128.24 117.91 L128.39 116.93 L128.54 116.71 L128.7 117.53 L128.85 117.98 L129 118.88 L129.16 119.07 L129.31 119.17 L129.46 119.43 L129.61 119.34 L129.77 119.28 L129.92 119.28 L130.07 119.43 L130.23 119.5 L130.38 119.39 L130.53 119.53 L130.69 119.49 L130.84 119.72 L130.99 119.39 L131.14 119.56 L131.3 119.49 L131.45 119.41 L131.6 119.35 L131.76 119.1 L131.91 119.37 L132.06 119.63 L132.22 119.38 L132.37 119.5 L132.52 119.34 L132.67 119.51 L132.83 119.51 L132.98 119.48 L133.13 119.5 L133.29 119.69 L133.44 119.51 L133.59 119.4 L133.75 119.21 L133.9 119.45 L134.05 119.46 L134.2 119.31 L134.36 119.31 L134.51 119.14 L134.66 119.31 L134.82 119.4 L134.97 119.19 L135.12 119.16 L135.28 119.48 L135.43 119.37 L135.58 119.67 L135.73 119.46 L135.89 119.54 L136.04 119.43 L136.19 119.48 L136.35 119.43 L136.5 119.41 L136.65 119.31 L136.81 119.28 L136.96 119.17 L137.11 118.72 L137.26 117.5 L137.42 116.84 L137.57 117.22 L137.72 117.77 L137.88 118.9 L138.03 119.4 L138.18 119.38 L138.34 119.15 L138.49 119.57 L138.64 119.53 L138.79 119.14 L138.95 119.7 L139.1 119.29 L139.25 119.3 L139.41 119.32 L139.56 119.02 L139.71 118.2 L139.87 118.36 L140.02 118.09 L140.17 118.37 L140.32 118.92 L140.48 119.38 L140.63 119.08 L140.78 119.35 L140.94 119.68 L141.09 119.51 L141.24 119.34 L141.4 119.34 L141.55 119.63 L141.7 119.41 L141.85 119.36 L142.01 119.34 L142.16 119.34 L142.31 119.69 L142.47 119.1 L142.62 119.37 L142.77 119.11 L142.93 118.94 L143.08 119.43 L143.23 119.6 L143.38 119.26 L143.54 119.43 L143.69 119.47 L143.84 119.57 L144 119.13 L144.15 119.47 L144.3 119.62 L144.46 119.47 L144.61 119.59 L144.76 119.37 L144.91 119.47 L145.07 119.57 L145.22 119.3 L145.37 119.5 L145.53 119.28 L145.68 119.19 L145.83 119.43 L145.99 119.37 L146.14 118.94 L146.29 118.23 L146.44 117.67 L146.6 117.33 L146.75 117.68 L146.9 118.32 L147.06 118.87 L147.21 119.38 L147.36 119.45 L147.52 119.39 L147.67 119.51 L147.82 119.38 L147.97 119.31 L148.13 119.4 L148.28 119.5 L148.43 119.52 L148.59 119.12 L148.74 119.26 L148.89 119.58 L149.05 119.53 L149.2 119.1 L149.35 119.16 L149.5 119.38 L149.66 119.21 L149.81 119.64 L149.96 119.4 L150.12 119.28 L150.27 119.7 L150.42 119.53 L150.58 119.27 L150.73 119.22 L150.88 119.49 L151.03 119.35 L151.19 119.14 L151.34 119.46 L151.49 119.59 L151.65 119.34 L151.8 119.26 L151.95 118.67 L152.11 118.19 L152.26 117.23 L152.41 115.16 L152.56 113.9 L152.72 112.36 L152.87 111.79 L153.02 112.31 L153.18 113.79 L153.33 115.45 L153.48 117.11 L153.64 118.45 L153.79 118.91 L153.94 119.23 L154.09 119.36 L154.25 119.36 L154.4 119.5 L154.55 119.19 L154.71 119.15 L154.86 119.75 L155.01 119.4 L155.17 119.51 L155.32 119.82 L155.47 119.33 L155.62 119.5 L155.78 119.46 L155.93 119.5 L156.08 119.2 L156.24 119.09 L156.39 119 L156.54 118.51 L156.7 118.19 L156.85 118.02 L157 118.45 L157.15 118.8 L157.31 119.28 L157.46 119.28 L157.61 119.25 L157.77 119.35 L157.92 119.21 L158.07 118.97 L158.23 119.74 L158.38 119.4 L158.53 119.49 L158.68 119.47 L158.84 119.62 L158.99 119.39 L159.14 119.44 L159.3 119.5 L159.45 119.44 L159.6 119.49 L159.76 119.77 L159.91 119.23 L160.06 119.45 L160.21 119.55 L160.37 119.35 L160.52 119.51 L160.67 119.75 L160.83 119.26 L160.98 119.67 L161.13 119.43 L161.29 119.38 L161.44 119.18 L161.59 119.21 L161.74 119.37 L161.9 119.52 L162.05 119.47 L162.2 119.23 L162.36 119.11 L162.51 119.31 L162.66 119.5 L162.82 119.24 L162.97 119.46 L163.12 119.47 L163.27 119.44 L163.43 119.31 L163.58 119.36 L163.73 119.24 L163.89 119.19 L164.04 119.32 L164.19 119.77 L164.35 119.67 L164.5 119.37 L164.65 119.41 L164.8 119.05 L164.96 119.4 L165.11 119.42 L165.26 119.25 L165.42 119.23 L165.57 119.44 L165.72 119.32 L165.88 119.58 L166.03 119.55 L166.18 119.2 L166.33 119.63 L166.49 119.25 L166.64 119.29 L166.79 119.28 L166.95 119.25 L167.1 119.31 L167.25 119.74 L167.41 119.56 L167.56 119.5 L167.71 119.25 L167.86 119.58 L168.02 119.51 L168.17 119.46 L168.32 119.19 L168.48 119.63 L168.63 119.62 L168.78 119.3 L168.94 119.74 L169.09 119.35 L169.24 119.46 L169.39 119.58 L169.55 119.13 L169.7 118.5 L169.85 117.03 L170.01 115.67 L170.16 115.09 L170.31 116.2 L170.47 117.61 L170.62 118.79 L170.77 119.21 L170.92 119.19 L171.08 119.7 L171.23 119.29 L171.38 119.49 L171.54 119.39 L171.69 119.35 L171.84 119.26 L172 119.36 L172.15 119.46 L172.3 119.35 L172.45 119.4 L172.61 119.43 L172.76 119.37 L172.91 119.26 L173.07 119.38 L173.22 119.38 L173.37 119.61 L173.53 119.42 L173.68 119.7 L173.83 119.28 L173.98 119.52 L174.14 119.11 L174.29 118.71 L174.44 118.99 L174.6 118.27 L174.75 117.79 L174.9 117.26 L175.06 116.75 L175.21 116.31 L175.36 116.39 L175.51 117.11 L175.67 118.1 L175.82 118.65 L175.97 118.96 L176.13 118.97 L176.28 119.27 L176.43 119.32 L176.59 119.2 L176.74 119.43 L176.89 119.41 L177.04 119.43 L177.2 119.68 L177.35 119.33 L177.5 119.33 L177.66 119.24 L177.81 119.59 L177.96 119.53 L178.12 119.25 L178.27 119.35 L178.42 119.18 L178.57 119.54 L178.73 119.37 L178.88 119.51 L179.03 119.35 L179.19 119.48 L179.34 119.31 L179.49 119.23 L179.65 119.29 L179.8 119.69 L179.95 119.25 L180.1 119.33 L180.26 119.57 L180.41 119.54 L180.56 119.4 L180.72 119.31 L180.87 119.47 L181.02 119.66 L181.18 119.35 L181.33 119.37 L181.48 119.01 L181.63 119.61 L181.79 119 L181.94 119.12 L182.09 119.35 L182.25 119.13 L182.4 119.38 L182.55 119.24 L182.71 119.52 L182.86 119.39 L183.01 119.56 L183.16 119.65 L183.32 119.44 L183.47 119.51 L183.62 119.31 L183.78 119.19 L183.93 119.38 L184.08 119.21 L184.24 118.86 L184.39 118.69 L184.54 118.03 L184.69 118.11 L184.85 118.53 L185 119.15 L185.15 119.57 L185.31 119.4 L185.46 119.34 L185.61 119.18 L185.77 119.22 L185.92 119.17 L186.07 119.34 L186.22 119.22 L186.38 119.43 L186.53 119.3 L186.68 119.25 L186.84 118.97 L186.99 119.36 L187.14 119.6 L187.3 119.18 L187.45 119.53 L187.6 119.41 L187.75 119.45 L187.91 119.55 L188.06 119.19 L188.21 119.3 L188.37 119.5 L188.52 119.39 L188.67 119.47 L188.83 119.3 L188.98 119.46 L189.13 119.52 L189.28 119.5 L189.44 119.47 L189.59 119.35 L189.74 119.55 L189.9 119.41 L190.05 119.33 L190.2 119.03 L190.36 119.26 L190.51 119.88 L190.66 119.48 L190.81 119.46 L190.97 119.35 L191.12 119.15 L191.27 119.28 L191.43 119.77 L191.58 119.35 L191.73 119.38 L191.89 119.33 L192.04 119.18 L192.19 119.57 L192.34 119.22 L192.5 119.66 L192.65 119.39 L192.8 119.34 L192.96 119.03 L193.11 119.51 L193.26 119.67 L193.42 119.29 L193.57 119.51 L193.72 119.15 L193.87 119.51 L194.03 119.54 L194.18 119.2 L194.33 119.39 L194.49 119.24 L194.64 119.63 L194.79 119.14 L194.95 119.49 L195.1 119.27 L195.25 119.56 L195.4 119.65 L195.56 119.44 L195.71 119.37 L195.86 119.15 L196.02 119.34 L196.17 119.29 L196.32 119.29 L196.48 118.9 L196.63 119.53 L196.78 119.2 L196.93 119.42 L197.09 119.36 L197.24 119.49 L197.39 119.21 L197.55 119.6 L197.7 119.61 L197.85 119.43 L198.01 119.59 L198.16 119.29 L198.31 119.25 L198.46 119.52 L198.62 119.27 L198.77 119.51 L198.92 119.41 L199.08 119.4 L199.23 119.1 L199.38 119.37 L199.54 119.4 L199.69 119.02 L199.84 117.88 L199.99 117.27 L200.15 116.42 L200.3 116.71 L200.45 118.03 L200.61 118.68 L200.76 118.99 L200.91 119.31 L201.07 119.53 L201.22 119.29 L201.37 119.32 L201.52 119.08 L201.68 119.52 L201.83 119.46 L201.98 119.39 L202.14 119.42 L202.29 119.39 L202.44 119.42 L202.6 119.51 L202.75 119.66 L202.9 119.49 L203.05 119.62 L203.21 119.57 L203.36 119.49 L203.51 119.32 L203.67 119.26 L203.82 119.57 L203.97 119.35 L204.13 119.27 L204.28 119.41 L204.43 119.66 L204.58 119.75 L204.74 119.28 L204.89 119.26 L205.04 119.36 L205.2 119.57 L205.35 119.17 L205.5 119.21 L205.66 119.41 L205.81 119.44 L205.96 119.72 L206.11 119.28 L206.27 119.66 L206.42 119.3 L206.57 119.29 L206.73 119.39 L206.88 119.15 L207.03 119.46 L207.19 119.31 L207.34 119.28 L207.49 119.36 L207.64 119.47 L207.8 119.21 L207.95 119.34 L208.1 119.43 L208.26 119.43 L208.41 119.38 L208.56 119.04 L208.72 119.39 L208.87 119.44 L209.02 119.57 L209.17 119.6 L209.33 119.71 L209.48 119.37 L209.63 119.4 L209.79 119.57 L209.94 119.64 L210.09 119.46 L210.25 119.49 L210.4 119.62 L210.55 119.36 L210.7 119.38 L210.86 119.41 L211.01 119.28 L211.16 119.51 L211.32 119.19 L211.47 119.57 L211.62 119.32 L211.78 119.29 L211.93 119.39 L212.08 119.17 L212.23 119.22 L212.39 119.03 L212.54 118.76 L212.69 118.99 L212.85 119.01 L213 119.28 L213.15 119.27 L213.31 119.35 L213.46 119.37 L213.61 119.39 L213.76 119.46 L213.92 119.48 L214.07 119.08 L214.22 119.69 L214.38 119.44 L214.53 119.24 L214.68 119.34 L214.84 119.18 L214.99 119.32 L215.14 119.61 L215.29 119.46 L215.45 119.63 L215.6 119.25 L215.75 119.17 L215.91 119.48 L216.06 119.32 L216.21 119.47 L216.37 119.64 L216.52 119.48 L216.67 119.66 L216.82 119.5 L216.98 119.37 L217.13 119.29 L217.28 119.2 L217.44 119.46 L217.59 119.37 L217.74 119.34 L217.9 119.32 L218.05 119.86 L218.2 119.53 L218.35 119.28 L218.51 119.59 L218.66 119.37 L218.81 119.27 L218.97 119.71 L219.12 119.44 L219.27 119.37 L219.43 119.41 L219.58 119.65 L219.73 119.35 L219.88 119.5 L220.04 119.28 L220.19 119.34 L220.34 119.5 L220.5 119.38 L220.65 119.52 L220.8 119.52 L220.96 119.66 L221.11 119.45 L221.26 119.28 L221.41 119.39 L221.57 119.42 L221.72 119.51 L221.87 119.5 L222.03 119.29 L222.18 119.65 L222.33 119.08 L222.49 119.42 L222.64 119.07 L222.79 119.23 L222.94 119.48 L223.1 119.29 L223.25 119.34 L223.4 119.17 L223.56 118.76 L223.71 118.33 L223.86 117.68 L224.02 117.45 L224.17 118.04 L224.32 118.56 L224.47 118.99 L224.63 119.08 L224.78 118.75 L224.93 118.1 L225.09 117.07 L225.24 117.08 L225.39 116.88 L225.55 117.1 L225.7 117.17 L225.85 117.67 L226 118.29 L226.16 118.98 L226.31 119.13 L226.46 119.55 L226.62 119.41 L226.77 119.76 L226.92 119.15 L227.08 119.17 L227.23 119.52 L227.38 119.56 L227.53 119.76 L227.69 119.67 L227.84 119.4 L227.99 119.45 L228.15 119.66 L228.3 119.5 L228.45 119.53 L228.61 119.35 L228.76 119.31 L228.91 119.46 L229.06 119.41 L229.22 119.42 L229.37 119.76 L229.52 119.39 L229.68 119.43 L229.83 119.3 L229.98 119.72 L230.14 119.3 L230.29 119.53 L230.44 119.38 L230.59 119.23 L230.75 119.66 L230.9 119.63 L231.05 119.26 L231.21 119.61 L231.36 119.58 L231.51 119.33 L231.67 119.46 L231.82 119.3 L231.97 119.37 L232.12 119.43 L232.28 119.26 L232.43 119.07 L232.58 119.44 L232.74 119.19 L232.89 119.24 L233.04 119.4 L233.2 119.35 L233.35 119.57 L233.5 119.52 L233.65 119.38 L233.81 119.43 L233.96 119.21 L234.11 119.63 L234.27 119.47 L234.42 119.52 L234.57 119.45 L234.73 119.24 L234.88 119.61 L235.03 119.29 L235.18 119.52 L235.34 119.47 L235.49 119.26 L235.64 119.47 L235.8 119.31 L235.95 119.4 L236.1 119.45 L236.26 119.48 L236.41 119.7 L236.56 119.54 L236.71 119.39 L236.87 119.39 L237.02 119.66 L237.17 119.26 L237.33 119.33 L237.48 119.63 L237.63 119.59 L237.79 119.34 L237.94 119.7 L238.09 119.54 L238.24 119.43 L238.4 119.44 L238.55 119.43 L238.7 119.36 L238.86 119.55 L239.01 119.5 L239.16 119.09 L239.32 119.64 L239.47 119.49 L239.62 119.4 L239.77 119.52 L239.93 119.22 L240.08 119.41 L240.23 119.3 L240.39 119.84 L240.54 119.23 L240.69 119.23 L240.85 119.51 L241 119.12 L241.15 119.12 L241.3 118.78 L241.46 118.46 L241.61 118.76 L241.76 119.14 L241.92 119.21 L242.07 119.55 L242.22 119.53 L242.38 119.53 L242.53 119.53 L242.68 119.23 L242.83 119.28 L242.99 119.56 L243.14 119.23 L243.29 119.68 L243.45 119.52 L243.6 119.44 L243.75 119.22 L243.91 119.3 L244.06 119.34 L244.21 119.2 L244.36 119.3 L244.52 119.19 L244.67 119.54 L244.82 119.68 L244.98 119.48 L245.13 119.28 L245.28 119.37 L245.44 119.27 L245.59 119.3 L245.74 119.33 L245.89 119.28 L246.05 119.53 L246.2 119.24 L246.35 119.57 L246.51 119.43 L246.66 119.64 L246.81 119.33 L246.97 119.66 L247.12 119.19 L247.27 119.62 L247.42 119.36 L247.58 119.38 L247.73 119.38 L247.88 118.77 L248.04 118.68 L248.19 118.16 L248.34 118.66 L248.5 118.95 L248.65 119.47 L248.8 119.24 L248.95 119.24 L249.11 119.37 L249.26 119.42 L249.41 119.52 L249.57 118.93 L249.72 119.05 L249.87 119.25 L250.03 118.69 L250.18 118.71 L250.33 117.76 L250.48 117.59 L250.64 117.78 L250.79 118.3 L250.94 118.73 L251.1 119.18 L251.25 119.09 L251.4 119.42 L251.56 119.43 L251.71 119.5 L251.86 119.46 L252.01 119.26 L252.17 119.14 L252.32 119.38 L252.47 119.41 L252.63 119.59 L252.78 119.61 L252.93 119.58 L253.09 119.27 L253.24 119.37 L253.39 119.25 L253.54 119.34 L253.7 119.45 L253.85 119.52 L254 119.21 L254.16 119.15 L254.31 118.42 L254.46 118.72 L254.62 119.03 L254.77 118.88 L254.92 119.4 L255.07 119.3 L255.23 119.43 L255.38 119.35 L255.53 119.47 L255.69 119.33 L255.84 119.18 L255.99 119.61 L256.15 119.77 L256.3 119.19 L256.45 119.38 L256.6 119.27 L256.76 119.45 L256.91 119.16 L257.06 119.11 L257.22 119.6 L257.37 119.3 L257.52 119.51 L257.68 119.67 L257.83 119.46 L257.98 119.32 L258.13 119.63 L258.29 119.62 L258.44 119.21 L258.59 119.4 L258.75 119.34 L258.9 119.59 L259.05 119.52 L259.21 119.39 L259.36 119.38 L259.51 119.39 L259.66 119.16 L259.82 119.39 L259.97 119.66 L260.12 119.55 L260.28 119.42 L260.43 119.19 L260.58 119.45 L260.74 119.27 L260.89 118.98 L261.04 118.89 L261.19 118.89 L261.35 118.97 L261.5 119.01" fill="none" stroke="#fa1e24" stroke-width="1.4" stroke-linejoin="round" />
<path d="M47.3 77.27 L47.45 78.01 L47.61 77.53 L47.76 77.69 L47.91 77.67 L48.07 77.63 L48.22 77.92 L48.37 77.64 L48.52 77.74 L48.68 77.07 L48.83 77.56 L48.98 77.66 L49.14 77.65 L49.29 77.71 L49.44 77.77 L49.6 77.66 L49.75 77.52 L49.9 77.64 L50.05 77.45 L50.21 77.63 L50.36 77.6 L50.51 77.35 L50.67 77.51 L50.82 77.68 L50.97 77.63 L51.13 77.51 L51.28 77.29 L51.43 77.64 L51.58 77.64 L51.74 77.44 L51.89 77.74 L52.04 77.65 L52.2 77.46 L52.35 77.51 L52.5 77.59 L52.66 77.49 L52.81 78.05 L52.96 77.44 L53.11 77.75 L53.27 77.87 L53.42 77.56 L53.57 77.49 L53.73 77.67 L53.88 77.77 L54.03 77.6 L54.19 77.61 L54.34 77.38 L54.49 77.48 L54.64 77.57 L54.8 77.42 L54.95 77.63 L55.1 77.75 L55.26 77.51 L55.41 77.51 L55.56 77.63 L55.72 77.73 L55.87 77.56 L56.02 78 L56.17 77.49 L56.33 77.52 L56.48 77.86 L56.63 77.59 L56.79 77.75 L56.94 77.48 L57.09 77.93 L57.25 77.75 L57.4 77.49 L57.55 77.41 L57.7 77.95 L57.86 77.68 L58.01 77.55 L58.16 77.7 L58.32 77.35 L58.47 77.79 L58.62 77.54 L58.78 77.77 L58.93 77.38 L59.08 77.6 L59.23 77.66 L59.39 77.87 L59.54 77.33 L59.69 77.48 L59.85 77.48 L60 77.42 L60.15 77.54 L60.31 77.7 L60.46 77.73 L60.61 77.73 L60.76 77.38 L60.92 77.83 L61.07 77.7 L61.22 77.65 L61.38 77.56 L61.53 77.51 L61.68 77.8 L61.84 77.88 L61.99 77.6 L62.14 77.41 L62.29 77.48 L62.45 77.57 L62.6 77.65 L62.75 77.55 L62.91 77.64 L63.06 77.47 L63.21 77.73 L63.37 77.58 L63.52 77.62 L63.67 77.51 L63.82 77.56 L63.98 77.19 L64.13 77.36 L64.28 77.36 L64.44 77.93 L64.59 77.65 L64.74 77.7 L64.9 77.51 L65.05 77.96 L65.2 77.41 L65.35 77.43 L65.51 77.81 L65.66 77.76 L65.81 77.73 L65.97 77.59 L66.12 77.5 L66.27 77.27 L66.43 77.63 L66.58 77.48 L66.73 77.58 L66.88 77.32 L67.04 77.48 L67.19 77.38 L67.34 77.77 L67.5 77.63 L67.65 77.73 L67.8 77.36 L67.96 77.49 L68.11 77.65 L68.26 77.67 L68.41 77.52 L68.57 77.71 L68.72 77.75 L68.87 77.52 L69.03 77.21 L69.18 77.64 L69.33 77.69 L69.49 77.79 L69.64 77.81 L69.79 77.52 L69.94 77.46 L70.1 77.6 L70.25 77.55 L70.4 77.58 L70.56 77.58 L70.71 77.84 L70.86 77.67 L71.02 77.58 L71.17 77.73 L71.32 77.68 L71.47 77.73 L71.63 77.65 L71.78 77.46 L71.93 77.67 L72.09 77.62 L72.24 77.47 L72.39 77.5 L72.55 77.33 L72.7 77.93 L72.85 77.46 L73 77.68 L73.16 77.58 L73.31 77.47 L73.46 77.43 L73.62 77.43 L73.77 77.58 L73.92 77.34 L74.08 77.65 L74.23 77.62 L74.38 77.47 L74.53 77.69 L74.69 77.25 L74.84 77.44 L74.99 77.25 L75.15 77.6 L75.3 77.66 L75.45 77.57 L75.61 77.48 L75.76 77.69 L75.91 77.54 L76.06 77.6 L76.22 77.34 L76.37 77.71 L76.52 77.43 L76.68 77.7 L76.83 77.75 L76.98 77.71 L77.14 77.79 L77.29 77.58 L77.44 77.43 L77.59 77.57 L77.75 77.5 L77.9 77.34 L78.05 77.56 L78.21 77.57 L78.36 77.64 L78.51 77.86 L78.67 77.48 L78.82 77.88 L78.97 77.5 L79.12 77.6 L79.28 77.42 L79.43 77.61 L79.58 77.72 L79.74 77.47 L79.89 77.31 L80.04 76.27 L80.2 74.13 L80.35 71.39 L80.5 69.69 L80.65 70.57 L80.81 73.06 L80.96 75.88 L81.11 76.97 L81.27 77.64 L81.42 77.4 L81.57 77.39 L81.73 77.91 L81.88 77.58 L82.03 77.62 L82.18 77.77 L82.34 77.51 L82.49 77.67 L82.64 77.88 L82.8 77.64 L82.95 77.62 L83.1 77.58 L83.26 77.8 L83.41 77.5 L83.56 77.48 L83.71 77.78 L83.87 77.71 L84.02 77.61 L84.17 77.69 L84.33 77.32 L84.48 77.57 L84.63 77.76 L84.79 77.73 L84.94 77.61 L85.09 77.23 L85.24 77.63 L85.4 77.58 L85.55 77.52 L85.7 77.61 L85.86 77.24 L86.01 77.69 L86.16 77.48 L86.32 77.57 L86.47 77.5 L86.62 77.79 L86.77 77.32 L86.93 77.62 L87.08 77.59 L87.23 77.75 L87.39 77.72 L87.54 77.51 L87.69 77.44 L87.85 77.48 L88 77.41 L88.15 77.49 L88.3 77.6 L88.46 77.47 L88.61 77.51 L88.76 77.62 L88.92 77.48 L89.07 77.39 L89.22 77.56 L89.38 77.66 L89.53 77.49 L89.68 77.3 L89.83 77.63 L89.99 77.61 L90.14 77.62 L90.29 77.4 L90.45 77.89 L90.6 77.54 L90.75 77.41 L90.91 77.73 L91.06 77.36 L91.21 77.51 L91.36 77.69 L91.52 77.57 L91.67 77.85 L91.82 77.69 L91.98 77.31 L92.13 77.74 L92.28 77.3 L92.44 77.61 L92.59 77.44 L92.74 77.59 L92.89 77.96 L93.05 77.69 L93.2 77.57 L93.35 77.78 L93.51 77.82 L93.66 77.54 L93.81 77.7 L93.97 77.87 L94.12 77.71 L94.27 77.46 L94.42 77.68 L94.58 77.45 L94.73 77.36 L94.88 77.59 L95.04 77.78 L95.19 77.81 L95.34 77.6 L95.5 77.46 L95.65 77.56 L95.8 77.51 L95.95 77.67 L96.11 77.55 L96.26 77.68 L96.41 77.65 L96.57 77.81 L96.72 77.85 L96.87 77.68 L97.03 77.78 L97.18 77.74 L97.33 77.4 L97.48 77.04 L97.64 74.58 L97.79 69.47 L97.94 60 L98.1 49.72 L98.25 46.76 L98.4 53.55 L98.56 64.01 L98.71 72.45 L98.86 76.62 L99.01 77.18 L99.17 77.66 L99.32 77.36 L99.47 77.7 L99.63 77.79 L99.78 77.35 L99.93 77.77 L100.09 77.57 L100.24 77.37 L100.39 77.58 L100.54 77.61 L100.7 77.58 L100.85 77.47 L101 77.73 L101.16 77.5 L101.31 77.51 L101.46 77.23 L101.62 77.65 L101.77 77.75 L101.92 77.48 L102.07 77.66 L102.23 77.55 L102.38 77.58 L102.53 77.41 L102.69 77.71 L102.84 77.61 L102.99 78.01 L103.15 77.74 L103.3 77.35 L103.45 77.71 L103.6 77.71 L103.76 77.79 L103.91 77.51 L104.06 77.57 L104.22 77.79 L104.37 77.49 L104.52 77.56 L104.68 77.48 L104.83 77.7 L104.98 77.32 L105.13 77.53 L105.29 77.62 L105.44 77.68 L105.59 77.64 L105.75 77.46 L105.9 77.64 L106.05 77.43 L106.21 77.51 L106.36 77.38 L106.51 77.47 L106.66 77.61 L106.82 77.91 L106.97 77.55 L107.12 77.47 L107.28 77.57 L107.43 77.51 L107.58 77.68 L107.74 77.66 L107.89 77.75 L108.04 77.38 L108.19 77.57 L108.35 77.68 L108.5 77.81 L108.65 77.62 L108.81 77.37 L108.96 77.53 L109.11 77.72 L109.27 77.37 L109.42 77.37 L109.57 77.44 L109.72 77.47 L109.88 77.42 L110.03 77.51 L110.18 77.48 L110.34 77.72 L110.49 77.36 L110.64 77.56 L110.8 77.28 L110.95 77.93 L111.1 77.49 L111.25 77.44 L111.41 77.65 L111.56 77.53 L111.71 77.48 L111.87 77.51 L112.02 77.69 L112.17 77.62 L112.33 77.44 L112.48 77.4 L112.63 77.58 L112.78 77.59 L112.94 77.57 L113.09 77.43 L113.24 77.77 L113.4 77.81 L113.55 77.58 L113.7 77.78 L113.86 77.69 L114.01 77.59 L114.16 77.52 L114.31 77.77 L114.47 77.47 L114.62 77.88 L114.77 77.51 L114.93 77.85 L115.08 77.8 L115.23 77.5 L115.39 77.67 L115.54 77.73 L115.69 77.67 L115.84 77.53 L116 77.61 L116.15 77.6 L116.3 77.43 L116.46 77.71 L116.61 77.68 L116.76 77.68 L116.92 77.41 L117.07 77.44 L117.22 77.39 L117.37 77.61 L117.53 77.63 L117.68 77.46 L117.83 77.66 L117.99 77.47 L118.14 77.48 L118.29 77.71 L118.45 77.61 L118.6 77.62 L118.75 77.32 L118.9 77.19 L119.06 77.62 L119.21 77.6 L119.36 77.97 L119.52 77.57 L119.67 77.6 L119.82 77.77 L119.98 77.47 L120.13 77.85 L120.28 77.63 L120.43 77.58 L120.59 77.8 L120.74 77.46 L120.89 77.43 L121.05 77.82 L121.2 77.83 L121.35 77.5 L121.51 77.6 L121.66 77.79 L121.81 77.65 L121.96 77.62 L122.12 77.62 L122.27 77.47 L122.42 77.54 L122.58 77.32 L122.73 77.38 L122.88 77.49 L123.04 77.43 L123.19 77.39 L123.34 77.49 L123.49 77.8 L123.65 77.46 L123.8 77.59 L123.95 77.34 L124.11 77.59 L124.26 77.52 L124.41 77.55 L124.57 77.33 L124.72 77.57 L124.87 77.64 L125.02 77.55 L125.18 77.67 L125.33 77.57 L125.48 77.6 L125.64 77.56 L125.79 77.29 L125.94 77.66 L126.1 77.59 L126.25 77.63 L126.4 77.49 L126.55 77.79 L126.71 77.71 L126.86 77.61 L127.01 77.51 L127.17 77.61 L127.32 77.68 L127.47 77.74 L127.63 77.51 L127.78 77.33 L127.93 77.36 L128.08 76.99 L128.24 76.25 L128.39 75.75 L128.54 75.43 L128.7 75.9 L128.85 76.59 L129 77.23 L129.16 77.69 L129.31 77.4 L129.46 77.33 L129.61 77.64 L129.77 77.54 L129.92 77.56 L130.07 77.47 L130.23 77.84 L130.38 77.34 L130.53 77.67 L130.69 77.4 L130.84 77.59 L130.99 77.66 L131.14 77.62 L131.3 77.46 L131.45 77.74 L131.6 77.66 L131.76 77.68 L131.91 77.87 L132.06 77.39 L132.22 77.51 L132.37 77.6 L132.52 77.41 L132.67 77.75 L132.83 77.61 L132.98 77.32 L133.13 77.44 L133.29 77.96 L133.44 78.13 L133.59 77.77 L133.75 77.43 L133.9 77.68 L134.05 77.63 L134.2 77.5 L134.36 77.74 L134.51 77.57 L134.66 77.47 L134.82 77.53 L134.97 77.54 L135.12 77.7 L135.28 77.52 L135.43 77.67 L135.58 77.39 L135.73 77.19 L135.89 77.72 L136.04 77.95 L136.19 77.67 L136.35 77.54 L136.5 77.43 L136.65 77.41 L136.81 77.66 L136.96 77.46 L137.11 76.68 L137.26 76.38 L137.42 75.53 L137.57 75.8 L137.72 76.22 L137.88 76.88 L138.03 77.27 L138.18 77.42 L138.34 77.75 L138.49 77.55 L138.64 77.6 L138.79 77.55 L138.95 77.4 L139.1 77.64 L139.25 77.69 L139.41 77.62 L139.56 77.36 L139.71 76.84 L139.87 76.73 L140.02 76.31 L140.17 76.68 L140.32 77.15 L140.48 77.62 L140.63 77.51 L140.78 77.48 L140.94 77.88 L141.09 77.41 L141.24 77.34 L141.4 77.55 L141.55 77.52 L141.7 77.21 L141.85 77.4 L142.01 77.74 L142.16 77.6 L142.31 77.63 L142.47 77.62 L142.62 77.98 L142.77 77.48 L142.93 77.7 L143.08 77.57 L143.23 77.62 L143.38 77.46 L143.54 77.65 L143.69 77.73 L143.84 77.51 L144 77.38 L144.15 77.65 L144.3 77.38 L144.46 77.56 L144.61 77.69 L144.76 77.36 L144.91 77.73 L145.07 77.44 L145.22 77.68 L145.37 77.53 L145.53 77.8 L145.68 77.73 L145.83 77.41 L145.99 77.46 L146.14 77.24 L146.29 76.83 L146.44 76.12 L146.6 76.15 L146.75 76.37 L146.9 76.79 L147.06 77.38 L147.21 77.61 L147.36 77.59 L147.52 77.62 L147.67 77.64 L147.82 77.33 L147.97 77.44 L148.13 77.4 L148.28 77.6 L148.43 77.68 L148.59 77.83 L148.74 77.66 L148.89 77.93 L149.05 77.69 L149.2 77.48 L149.35 77.34 L149.5 77.45 L149.66 77.74 L149.81 77.52 L149.96 77.73 L150.12 77.47 L150.27 77.62 L150.42 77.46 L150.58 77.19 L150.73 77.45 L150.88 77.23 L151.03 77.57 L151.19 77.65 L151.34 77.38 L151.49 77.3 L151.65 77.62 L151.8 77.37 L151.95 77.27 L152.11 76.37 L152.26 75.01 L152.41 73.5 L152.56 71.74 L152.72 70.4 L152.87 69.54 L153.02 70.04 L153.18 71.55 L153.33 73.45 L153.48 75.35 L153.64 76.06 L153.79 77.05 L153.94 77.41 L154.09 77.41 L154.25 77.93 L154.4 77.61 L154.55 77.62 L154.71 77.54 L154.86 77.38 L155.01 77.52 L155.17 77.89 L155.32 77.65 L155.47 77.57 L155.62 77.58 L155.78 77.8 L155.93 77.86 L156.08 77.49 L156.24 77.45 L156.39 77.32 L156.54 77.24 L156.7 76.32 L156.85 76.96 L157 76.79 L157.15 76.78 L157.31 77.44 L157.46 77.51 L157.61 77.78 L157.77 77.38 L157.92 77.81 L158.07 77.56 L158.23 77.58 L158.38 77.77 L158.53 77.46 L158.68 77.83 L158.84 77.71 L158.99 77.6 L159.14 77.67 L159.3 77.53 L159.45 77.45 L159.6 77.65 L159.76 77.69 L159.91 77.68 L160.06 77.66 L160.21 77.47 L160.37 77.63 L160.52 77.53 L160.67 77.61 L160.83 77.74 L160.98 77.46 L161.13 77.77 L161.29 77.6 L161.44 77.36 L161.59 77.77 L161.74 77.61 L161.9 77.85 L162.05 77.68 L162.2 77.84 L162.36 77.66 L162.51 77.69 L162.66 77.58 L162.82 77.35 L162.97 77.55 L163.12 77.49 L163.27 77.61 L163.43 77.64 L163.58 77.73 L163.73 77.89 L163.89 77.59 L164.04 77.34 L164.19 77.52 L164.35 77.69 L164.5 77.34 L164.65 77.67 L164.8 77.7 L164.96 77.79 L165.11 77.75 L165.26 77.64 L165.42 77.28 L165.57 77.63 L165.72 77.77 L165.88 77.7 L166.03 77.64 L166.18 77.87 L166.33 77.58 L166.49 77.49 L166.64 77.55 L166.79 77.5 L166.95 77.81 L167.1 77.87 L167.25 77.39 L167.41 77.42 L167.56 77.85 L167.71 77.57 L167.86 77.6 L168.02 77.51 L168.17 77.57 L168.32 77.68 L168.48 77.57 L168.63 77.57 L168.78 77.61 L168.94 77.9 L169.09 78.08 L169.24 77.72 L169.39 77.8 L169.55 77.28 L169.7 76.62 L169.85 75.65 L170.01 74.66 L170.16 74.26 L170.31 74.8 L170.47 76.27 L170.62 76.88 L170.77 77.33 L170.92 77.53 L171.08 77.36 L171.23 77.71 L171.38 77.45 L171.54 77.75 L171.69 77.72 L171.84 77.77 L172 77.53 L172.15 77.75 L172.3 77.59 L172.45 77.78 L172.61 77.43 L172.76 77.31 L172.91 77.56 L173.07 77.34 L173.22 77.51 L173.37 77.25 L173.53 77.58 L173.68 77.85 L173.83 77.35 L173.98 77.59 L174.14 77.68 L174.29 77.48 L174.44 77.36 L174.6 76.65 L174.75 76.13 L174.9 74.98 L175.06 74.52 L175.21 74.67 L175.36 74.87 L175.51 75.31 L175.67 76.26 L175.82 76.64 L175.97 77.1 L176.13 77.5 L176.28 77.6 L176.43 77.49 L176.59 77.36 L176.74 77.36 L176.89 77.59 L177.04 77.46 L177.2 77.72 L177.35 77.53 L177.5 77.75 L177.66 77.48 L177.81 77.8 L177.96 77.75 L178.12 77.6 L178.27 77.51 L178.42 77.83 L178.57 77.69 L178.73 77.58 L178.88 77.56 L179.03 77.73 L179.19 77.58 L179.34 77.64 L179.49 77.38 L179.65 77.51 L179.8 77.81 L179.95 77.95 L180.1 77.58 L180.26 77.41 L180.41 77.57 L180.56 77.46 L180.72 77.68 L180.87 77.82 L181.02 77.48 L181.18 77.58 L181.33 77.49 L181.48 77.82 L181.63 77.57 L181.79 77.7 L181.94 77.47 L182.09 77.69 L182.25 77.7 L182.4 77.69 L182.55 77.4 L182.71 77.6 L182.86 77.72 L183.01 77.76 L183.16 77.77 L183.32 77.37 L183.47 77.89 L183.62 77.74 L183.78 77.49 L183.93 77.37 L184.08 77.47 L184.24 77.06 L184.39 76.68 L184.54 76.36 L184.69 76.54 L184.85 76.62 L185 77.22 L185.15 77.23 L185.31 77.74 L185.46 77.44 L185.61 77.8 L185.77 77.84 L185.92 77.52 L186.07 77.73 L186.22 77.52 L186.38 77.77 L186.53 77.34 L186.68 77.59 L186.84 77.78 L186.99 77.57 L187.14 77.45 L187.3 77.72 L187.45 77.51 L187.6 77.27 L187.75 77.45 L187.91 77.59 L188.06 77.68 L188.21 77.5 L188.37 77.83 L188.52 78.08 L188.67 77.7 L188.83 77.76 L188.98 77.31 L189.13 77.57 L189.28 77.75 L189.44 77.78 L189.59 77.51 L189.74 77.72 L189.9 77.68 L190.05 77.6 L190.2 77.58 L190.36 77.57 L190.51 77.57 L190.66 77.38 L190.81 77.32 L190.97 77.85 L191.12 77.18 L191.27 77.57 L191.43 77.39 L191.58 77.71 L191.73 77.54 L191.89 77.55 L192.04 77.57 L192.19 77.45 L192.34 77.49 L192.5 77.75 L192.65 77.61 L192.8 77.47 L192.96 77.48 L193.11 77.64 L193.26 77.63 L193.42 77.61 L193.57 77.76 L193.72 77.79 L193.87 77.34 L194.03 77.65 L194.18 77.57 L194.33 77.71 L194.49 77.38 L194.64 77.31 L194.79 77.62 L194.95 77.51 L195.1 77.71 L195.25 77.31 L195.4 77.44 L195.56 77.72 L195.71 77.39 L195.86 77.53 L196.02 77.52 L196.17 77.53 L196.32 77.7 L196.48 77.67 L196.63 77.49 L196.78 77.6 L196.93 77.74 L197.09 77.26 L197.24 77.62 L197.39 77.68 L197.55 77.7 L197.7 77.48 L197.85 77.43 L198.01 77.55 L198.16 77.45 L198.31 77.83 L198.46 77.65 L198.62 77.66 L198.77 77.59 L198.92 77.51 L199.08 77.92 L199.23 77.09 L199.38 77.71 L199.54 77.42 L199.69 77.03 L199.84 76.37 L199.99 75.59 L200.15 75.56 L200.3 75.52 L200.45 76.04 L200.61 77.09 L200.76 77.55 L200.91 77.92 L201.07 77.39 L201.22 77.51 L201.37 77.74 L201.52 77.61 L201.68 77.61 L201.83 77.77 L201.98 77.64 L202.14 77.55 L202.29 77.51 L202.44 77.39 L202.6 77.59 L202.75 77.67 L202.9 77.53 L203.05 77.7 L203.21 77.8 L203.36 77.41 L203.51 77.66 L203.67 77.58 L203.82 77.49 L203.97 77.77 L204.13 77.49 L204.28 77.52 L204.43 77.61 L204.58 77.53 L204.74 77.72 L204.89 77.95 L205.04 77.64 L205.2 77.74 L205.35 77.46 L205.5 77.55 L205.66 77.68 L205.81 77.59 L205.96 77.38 L206.11 77.42 L206.27 77.54 L206.42 77.53 L206.57 77.64 L206.73 77.62 L206.88 77.5 L207.03 77.62 L207.19 77.55 L207.34 77.78 L207.49 77.86 L207.64 77.87 L207.8 77.67 L207.95 77.38 L208.1 77.41 L208.26 77.76 L208.41 77.85 L208.56 77.47 L208.72 77.52 L208.87 77.82 L209.02 77.43 L209.17 77.57 L209.33 77.39 L209.48 77.54 L209.63 77.46 L209.79 77.55 L209.94 77.75 L210.09 77.63 L210.25 77.71 L210.4 77.46 L210.55 77.76 L210.7 77.84 L210.86 77.49 L211.01 77.41 L211.16 77.37 L211.32 77.42 L211.47 77.84 L211.62 77.71 L211.78 77.68 L211.93 77.56 L212.08 77.8 L212.23 77.28 L212.39 77.05 L212.54 77.2 L212.69 77.14 L212.85 77.17 L213 77.5 L213.15 77.4 L213.31 77.43 L213.46 77.53 L213.61 77.54 L213.76 77.66 L213.92 77.4 L214.07 77.67 L214.22 77.71 L214.38 77.49 L214.53 77.71 L214.68 77.53 L214.84 77.43 L214.99 77.59 L215.14 77.58 L215.29 77.45 L215.45 77.48 L215.6 77.84 L215.75 77.81 L215.91 77.38 L216.06 77.54 L216.21 77.93 L216.37 77.81 L216.52 77.59 L216.67 77.75 L216.82 77.52 L216.98 77.58 L217.13 77.52 L217.28 77.78 L217.44 77.5 L217.59 77.28 L217.74 77.72 L217.9 77.39 L218.05 77.44 L218.2 77.49 L218.35 77.61 L218.51 77.78 L218.66 77.74 L218.81 77.47 L218.97 77.44 L219.12 77.4 L219.27 77.44 L219.43 77.45 L219.58 77.67 L219.73 77.79 L219.88 77.56 L220.04 77.52 L220.19 77.58 L220.34 77.84 L220.5 77.68 L220.65 77.83 L220.8 77.57 L220.96 77.76 L221.11 77.62 L221.26 77.54 L221.41 77.57 L221.57 77.38 L221.72 77.77 L221.87 77.95 L222.03 77.44 L222.18 77.37 L222.33 77.37 L222.49 77.55 L222.64 77.51 L222.79 77.58 L222.94 77.8 L223.1 77.68 L223.25 77.48 L223.4 77.55 L223.56 76.86 L223.71 76.89 L223.86 76.17 L224.02 75.76 L224.17 76.39 L224.32 77.05 L224.47 77.49 L224.63 77.47 L224.78 76.83 L224.93 76.4 L225.09 75.7 L225.24 75.5 L225.39 75.33 L225.55 75.65 L225.7 76.02 L225.85 76.33 L226 76.75 L226.16 77.05 L226.31 77.49 L226.46 77.49 L226.62 77.27 L226.77 77.72 L226.92 77.79 L227.08 77.44 L227.23 77.52 L227.38 77.61 L227.53 77.55 L227.69 77.65 L227.84 77.51 L227.99 77.65 L228.15 77.47 L228.3 77.78 L228.45 77.73 L228.61 77.58 L228.76 77.67 L228.91 77.48 L229.06 77.6 L229.22 77.68 L229.37 77.56 L229.52 77.68 L229.68 77.84 L229.83 77.78 L229.98 77.72 L230.14 77.67 L230.29 77.58 L230.44 77.45 L230.59 77.51 L230.75 77.31 L230.9 77.39 L231.05 77.62 L231.21 77.33 L231.36 77.4 L231.51 77.67 L231.67 77.54 L231.82 77.42 L231.97 77.55 L232.12 77.43 L232.28 77.53 L232.43 77.48 L232.58 77.64 L232.74 77.53 L232.89 77.65 L233.04 77.48 L233.2 77.86 L233.35 77.54 L233.5 77.39 L233.65 77.5 L233.81 77.6 L233.96 77.51 L234.11 77.73 L234.27 77.73 L234.42 77.65 L234.57 77.62 L234.73 77.44 L234.88 77.74 L235.03 77.43 L235.18 77.84 L235.34 77.72 L235.49 77.6 L235.64 77.41 L235.8 77.69 L235.95 77.94 L236.1 77.53 L236.26 77.6 L236.41 77.77 L236.56 77.76 L236.71 77.7 L236.87 77.58 L237.02 77.49 L237.17 77.83 L237.33 77.23 L237.48 77.6 L237.63 77.65 L237.79 77.49 L237.94 77.58 L238.09 77.22 L238.24 77.42 L238.4 77.65 L238.55 77.66 L238.7 77.67 L238.86 77.65 L239.01 77.49 L239.16 77.7 L239.32 77.33 L239.47 77.61 L239.62 77.62 L239.77 77.44 L239.93 77.91 L240.08 77.74 L240.23 77.5 L240.39 77.59 L240.54 77.59 L240.69 77.53 L240.85 77.67 L241 77.55 L241.15 77.61 L241.3 77.5 L241.46 76.85 L241.61 77.22 L241.76 77.35 L241.92 77.2 L242.07 77.36 L242.22 77.66 L242.38 77.68 L242.53 77.61 L242.68 77.75 L242.83 77.51 L242.99 77.57 L243.14 77.57 L243.29 77.47 L243.45 77.48 L243.6 77.3 L243.75 77.35 L243.91 77.87 L244.06 77.45 L244.21 77.77 L244.36 77.82 L244.52 77.48 L244.67 77.71 L244.82 77.64 L244.98 77.42 L245.13 77.7 L245.28 77.74 L245.44 77.54 L245.59 77.4 L245.74 77.51 L245.89 77.84 L246.05 77.7 L246.2 77.62 L246.35 77.29 L246.51 77.45 L246.66 77.46 L246.81 77.4 L246.97 77.64 L247.12 77.52 L247.27 77.51 L247.42 77.74 L247.58 77.56 L247.73 77.36 L247.88 77.4 L248.04 76.81 L248.19 76.64 L248.34 76.68 L248.5 77.24 L248.65 77.36 L248.8 77.29 L248.95 77.45 L249.11 77.71 L249.26 77.54 L249.41 77.32 L249.57 77.49 L249.72 77.28 L249.87 76.69 L250.03 76.78 L250.18 76.42 L250.33 76.27 L250.48 76.1 L250.64 75.87 L250.79 76.43 L250.94 76.96 L251.1 77.25 L251.25 77.34 L251.4 77.36 L251.56 77.67 L251.71 77.47 L251.86 77.67 L252.01 77.54 L252.17 77.51 L252.32 77.5 L252.47 77.67 L252.63 77.62 L252.78 77.52 L252.93 77.8 L253.09 77.57 L253.24 77.52 L253.39 77.43 L253.54 77.6 L253.7 77.61 L253.85 77.5 L254 77.51 L254.16 77.23 L254.31 76.99 L254.46 77.03 L254.62 77.41 L254.77 77.48 L254.92 77.88 L255.07 77.46 L255.23 77.68 L255.38 77.56 L255.53 77.78 L255.69 77.61 L255.84 77.53 L255.99 77.44 L256.15 77.82 L256.3 77.47 L256.45 77.63 L256.6 77.73 L256.76 77.53 L256.91 77.65 L257.06 77.65 L257.22 77.72 L257.37 77.57 L257.52 77.6 L257.68 77.63 L257.83 77.76 L257.98 77.68 L258.13 77.54 L258.29 77.4 L258.44 77.61 L258.59 77.38 L258.75 77.6 L258.9 77.78 L259.05 77.5 L259.21 77.76 L259.36 77.54 L259.51 77.43 L259.66 77.65 L259.82 77.62 L259.97 77.21 L260.12 77.56 L260.28 77.56 L260.43 77.46 L260.58 77.56 L260.74 77.44 L260.89 77.18 L261.04 77.46 L261.19 76.83 L261.35 77.38 L261.5 77.57" fill="none" stroke="#0b6cf0" stroke-width="1.4" stroke-linejoin="round" />
<path d="M47.3 43.5 L47.45 43.43 L47.61 43.13 L47.76 43.29 L47.91 43.66 L48.07 43.4 L48.22 43.5 L48.37 43.38 L48.52 43.66 L48.68 43.36 L48.83 43.36 L48.98 43.15 L49.14 43.35 L49.29 43.32 L49.44 43.64 L49.6 43.04 L49.75 43.71 L49.9 43.22 L50.05 43.45 L50.21 43.54 L50.36 43.51 L50.51 43.51 L50.67 43.34 L50.82 43.42 L50.97 43.16 L51.13 43.69 L51.28 43.4 L51.43 43.54 L51.58 43.28 L51.74 43.74 L51.89 43.45 L52.04 43.37 L52.2 43.64 L52.35 43.24 L52.5 43.37 L52.66 43.24 L52.81 43.25 L52.96 43.56 L53.11 43.53 L53.27 43.43 L53.42 43.28 L53.57 43.26 L53.73 43.51 L53.88 43.5 L54.03 43.53 L54.19 43.49 L54.34 43.44 L54.49 43.42 L54.64 43.07 L54.8 43.48 L54.95 43.45 L55.1 43.33 L55.26 43.55 L55.41 43.46 L55.56 43.4 L55.72 43.28 L55.87 43.61 L56.02 43.18 L56.17 43.46 L56.33 43.37 L56.48 43.26 L56.63 43.29 L56.79 43.23 L56.94 43.37 L57.09 43.4 L57.25 43.35 L57.4 43.56 L57.55 43.21 L57.7 43.52 L57.86 43.6 L58.01 43.07 L58.16 43.42 L58.32 43.59 L58.47 43.1 L58.62 43.45 L58.78 43.23 L58.93 43.53 L59.08 43.44 L59.23 43.67 L59.39 43.71 L59.54 43.56 L59.69 43.41 L59.85 43.27 L60 43.01 L60.15 43.57 L60.31 43.24 L60.46 43.5 L60.61 43.42 L60.76 43.64 L60.92 43.64 L61.07 43.52 L61.22 43.59 L61.38 43.4 L61.53 43.51 L61.68 43.2 L61.84 43.38 L61.99 43.37 L62.14 43.22 L62.29 43.32 L62.45 43.41 L62.6 43.41 L62.75 43.42 L62.91 43.23 L63.06 43.27 L63.21 43.34 L63.37 43.27 L63.52 43.49 L63.67 43.32 L63.82 43.63 L63.98 43.18 L64.13 43.39 L64.28 43.37 L64.44 43.3 L64.59 43.4 L64.74 43.44 L64.9 43.21 L65.05 43.38 L65.2 43.55 L65.35 43.33 L65.51 43.67 L65.66 43.14 L65.81 43.43 L65.97 43.39 L66.12 43.04 L66.27 43.06 L66.43 43.38 L66.58 43.3 L66.73 43.23 L66.88 43.13 L67.04 43.42 L67.19 43.38 L67.34 43.2 L67.5 43.36 L67.65 43.28 L67.8 43.3 L67.96 43.58 L68.11 43.54 L68.26 43.82 L68.41 43.44 L68.57 43.19 L68.72 43.58 L68.87 43.2 L69.03 43.24 L69.18 43.41 L69.33 43.4 L69.49 43.39 L69.64 43.54 L69.79 43.45 L69.94 43.41 L70.1 43.3 L70.25 43.27 L70.4 43.52 L70.56 43.27 L70.71 43.52 L70.86 43.43 L71.02 43.34 L71.17 43.4 L71.32 43.42 L71.47 43.36 L71.63 43.49 L71.78 43.5 L71.93 43.43 L72.09 43.25 L72.24 43.42 L72.39 43.1 L72.55 43.37 L72.7 43.88 L72.85 43.47 L73 43.13 L73.16 43.4 L73.31 43.47 L73.46 43.54 L73.62 43.19 L73.77 43.24 L73.92 43.29 L74.08 43.33 L74.23 43.17 L74.38 43.27 L74.53 43.6 L74.69 43.28 L74.84 43.37 L74.99 43.42 L75.15 43.28 L75.3 43.4 L75.45 43.87 L75.61 43.15 L75.76 43.23 L75.91 43.42 L76.06 43.46 L76.22 43.36 L76.37 43.61 L76.52 43.35 L76.68 43.44 L76.83 43.46 L76.98 43.55 L77.14 43.51 L77.29 43.22 L77.44 43.19 L77.59 43.32 L77.75 43.41 L77.9 43.54 L78.05 43.29 L78.21 43.14 L78.36 43.66 L78.51 43.21 L78.67 43.75 L78.82 43.45 L78.97 43.34 L79.12 43.62 L79.28 43.64 L79.43 43.37 L79.58 43.25 L79.74 43.4 L79.89 42.78 L80.04 42.08 L80.2 39.44 L80.35 36.76 L80.5 34.92 L80.65 35.69 L80.81 38.5 L80.96 40.92 L81.11 42.35 L81.27 43.15 L81.42 43.4 L81.57 43.59 L81.73 43.52 L81.88 43.4 L82.03 43.42 L82.18 43.41 L82.34 43.4 L82.49 43.32 L82.64 43.62 L82.8 43.56 L82.95 43.22 L83.1 43.27 L83.26 43.49 L83.41 43.19 L83.56 43.51 L83.71 43.44 L83.87 43.69 L84.02 43.26 L84.17 43.4 L84.33 43.23 L84.48 43.29 L84.63 43.38 L84.79 43.37 L84.94 43.21 L85.09 43.42 L85.24 43.42 L85.4 43.39 L85.55 43.27 L85.7 43.25 L85.86 43.09 L86.01 43.41 L86.16 43.19 L86.32 43.5 L86.47 43.3 L86.62 43.37 L86.77 43.12 L86.93 43.3 L87.08 43.47 L87.23 43.3 L87.39 43.34 L87.54 43.44 L87.69 43.44 L87.85 43.54 L88 42.95 L88.15 43.37 L88.3 43.24 L88.46 43.58 L88.61 43.57 L88.76 43.42 L88.92 43.42 L89.07 43.26 L89.22 43.55 L89.38 43.31 L89.53 43.15 L89.68 43.54 L89.83 43.25 L89.99 43.55 L90.14 43.34 L90.29 43.33 L90.45 43.11 L90.6 43.5 L90.75 43.36 L90.91 43.22 L91.06 43.58 L91.21 43.39 L91.36 43.53 L91.52 43.5 L91.67 43.28 L91.82 43.28 L91.98 42.98 L92.13 43.17 L92.28 43.19 L92.44 43.42 L92.59 43.44 L92.74 43.37 L92.89 43.76 L93.05 43.13 L93.2 43.5 L93.35 43.56 L93.51 43.47 L93.66 43.25 L93.81 43.19 L93.97 43.45 L94.12 43.32 L94.27 43.4 L94.42 43.55 L94.58 43.37 L94.73 43.39 L94.88 43.64 L95.04 43.22 L95.19 43.65 L95.34 43.36 L95.5 43.56 L95.65 43.53 L95.8 43.51 L95.95 43.28 L96.11 43.6 L96.26 43.43 L96.41 43.15 L96.57 43.51 L96.72 43.4 L96.87 43.29 L97.03 43.49 L97.18 43.31 L97.33 43.41 L97.48 42.71 L97.64 40.84 L97.79 35.56 L97.94 25.47 L98.1 15.66 L98.25 12.66 L98.4 19.38 L98.56 30.05 L98.71 38.14 L98.86 41.9 L99.01 42.93 L99.17 43.57 L99.32 43.45 L99.47 43.21 L99.63 43.37 L99.78 43.33 L99.93 43.14 L100.09 43.34 L100.24 43.32 L100.39 43.4 L100.54 43.12 L100.7 43.23 L100.85 43.51 L101 43.31 L101.16 43.58 L101.31 43.22 L101.46 43.29 L101.62 43.42 L101.77 43.46 L101.92 43.69 L102.07 43.28 L102.23 43.42 L102.38 43.45 L102.53 43.28 L102.69 43.51 L102.84 43.49 L102.99 43.51 L103.15 43.62 L103.3 43.01 L103.45 43.43 L103.6 43.46 L103.76 43.26 L103.91 43.9 L104.06 43.41 L104.22 43.4 L104.37 43.56 L104.52 43.33 L104.68 43.73 L104.83 43.4 L104.98 43.26 L105.13 43.76 L105.29 43.64 L105.44 43.43 L105.59 43.41 L105.75 43.52 L105.9 43.36 L106.05 43.38 L106.21 43.63 L106.36 43.44 L106.51 43.63 L106.66 43.75 L106.82 43.81 L106.97 43.26 L107.12 43.45 L107.28 43.11 L107.43 43.66 L107.58 43.48 L107.74 43.37 L107.89 43.45 L108.04 43.35 L108.19 43.4 L108.35 43.53 L108.5 43.8 L108.65 43.58 L108.81 43.15 L108.96 43.3 L109.11 43.2 L109.27 43.52 L109.42 43.45 L109.57 43.56 L109.72 43.36 L109.88 43.41 L110.03 43.35 L110.18 43.14 L110.34 43.55 L110.49 43.3 L110.64 43.64 L110.8 43.24 L110.95 43.49 L111.1 43.43 L111.25 43.4 L111.41 43.16 L111.56 43.42 L111.71 43.5 L111.87 43.61 L112.02 43.38 L112.17 43.56 L112.33 43.5 L112.48 43.42 L112.63 43.31 L112.78 43.53 L112.94 43.31 L113.09 43.14 L113.24 43.66 L113.4 43.2 L113.55 43.07 L113.7 43.51 L113.86 43.32 L114.01 43.64 L114.16 43.36 L114.31 43.47 L114.47 43.37 L114.62 43.57 L114.77 43.55 L114.93 43.49 L115.08 43.53 L115.23 43.52 L115.39 43.45 L115.54 43.6 L115.69 43.45 L115.84 43.35 L116 43.79 L116.15 43.39 L116.3 43.54 L116.46 43.6 L116.61 43.64 L116.76 43.56 L116.92 43.54 L117.07 43.37 L117.22 43.63 L117.37 43.26 L117.53 43.56 L117.68 43.32 L117.83 43.25 L117.99 43.62 L118.14 43.25 L118.29 43.07 L118.45 43.49 L118.6 43.33 L118.75 43.44 L118.9 43.4 L119.06 43.44 L119.21 43.49 L119.36 43.3 L119.52 43.27 L119.67 43.41 L119.82 43.17 L119.98 43.23 L120.13 43.29 L120.28 43.52 L120.43 43.1 L120.59 43.19 L120.74 43.75 L120.89 43.58 L121.05 43.48 L121.2 43.25 L121.35 43.2 L121.51 43.45 L121.66 43.36 L121.81 43.29 L121.96 43.61 L122.12 43.31 L122.27 43.45 L122.42 43.37 L122.58 43.41 L122.73 43.59 L122.88 43.56 L123.04 43.39 L123.19 43.38 L123.34 43.44 L123.49 43.23 L123.65 43.46 L123.8 43.59 L123.95 43.46 L124.11 43.43 L124.26 43.42 L124.41 43.21 L124.57 43.32 L124.72 43.23 L124.87 43.3 L125.02 43.43 L125.18 43.23 L125.33 43.44 L125.48 43.36 L125.64 43.56 L125.79 43.38 L125.94 43.45 L126.1 43.34 L126.25 43.11 L126.4 43.02 L126.55 43.24 L126.71 43.4 L126.86 43.27 L127.01 43.36 L127.17 43.5 L127.32 43.41 L127.47 43.44 L127.63 43.49 L127.78 43.14 L127.93 43.3 L128.08 42.9 L128.24 42.01 L128.39 41.51 L128.54 41.37 L128.7 41.79 L128.85 42.36 L129 42.96 L129.16 43.24 L129.31 43.45 L129.46 43.54 L129.61 43.25 L129.77 43.63 L129.92 43.43 L130.07 43.61 L130.23 43.46 L130.38 43.42 L130.53 43.2 L130.69 43.86 L130.84 43.18 L130.99 43.54 L131.14 43.35 L131.3 43.27 L131.45 43.52 L131.6 43.41 L131.76 43.32 L131.91 43.42 L132.06 43.51 L132.22 43.37 L132.37 43.38 L132.52 43.64 L132.67 43.18 L132.83 43.36 L132.98 43.78 L133.13 43.53 L133.29 43.12 L133.44 43.14 L133.59 43.35 L133.75 43.66 L133.9 43.43 L134.05 43.22 L134.2 43.33 L134.36 43.45 L134.51 43.51 L134.66 43.26 L134.82 43.43 L134.97 43.34 L135.12 43.31 L135.28 43.13 L135.43 43.36 L135.58 43.35 L135.73 43.68 L135.89 43.22 L136.04 43.25 L136.19 43.4 L136.35 43.76 L136.5 43.48 L136.65 43.37 L136.81 42.99 L136.96 43.03 L137.11 42.55 L137.26 41.87 L137.42 41.28 L137.57 41.74 L137.72 42.28 L137.88 42.98 L138.03 43.23 L138.18 43.4 L138.34 43.37 L138.49 43.56 L138.64 43.38 L138.79 43.53 L138.95 43.06 L139.1 43.48 L139.25 42.97 L139.41 43.04 L139.56 43.3 L139.71 42.6 L139.87 42.3 L140.02 42.53 L140.17 42.43 L140.32 42.93 L140.48 43.15 L140.63 43.48 L140.78 43.39 L140.94 43.33 L141.09 43.42 L141.24 43.49 L141.4 43.42 L141.55 43.55 L141.7 43.34 L141.85 43.81 L142.01 43.15 L142.16 43.39 L142.31 43.32 L142.47 43.26 L142.62 43.59 L142.77 43.03 L142.93 43.58 L143.08 43.32 L143.23 43.34 L143.38 43.19 L143.54 43.4 L143.69 43.62 L143.84 43.34 L144 43.79 L144.15 43.43 L144.3 43.47 L144.46 43.15 L144.61 43.44 L144.76 43.47 L144.91 43.52 L145.07 43.53 L145.22 43.49 L145.37 43.3 L145.53 43.61 L145.68 43.43 L145.83 43.61 L145.99 43.32 L146.14 43.02 L146.29 42.76 L146.44 42.08 L146.6 41.71 L146.75 41.87 L146.9 42.41 L147.06 43.06 L147.21 43.45 L147.36 43.64 L147.52 43.27 L147.67 43.18 L147.82 43.34 L147.97 43.15 L148.13 43.47 L148.28 43.46 L148.43 43.15 L148.59 43.56 L148.74 43.3 L148.89 43.34 L149.05 43.38 L149.2 43.12 L149.35 43.54 L149.5 43.47 L149.66 43.74 L149.81 43.57 L149.96 43.48 L150.12 43.46 L150.27 43.43 L150.42 43.35 L150.58 43.51 L150.73 43.72 L150.88 43.38 L151.03 43.33 L151.19 43.59 L151.34 43.52 L151.49 43.1 L151.65 43.16 L151.8 43 L151.95 42.7 L152.11 42.04 L152.26 40.88 L152.41 38.94 L152.56 37.11 L152.72 35.58 L152.87 34.9 L153.02 35.52 L153.18 36.93 L153.33 39.19 L153.48 40.4 L153.64 42.22 L153.79 42.88 L153.94 43.02 L154.09 43.46 L154.25 43.46 L154.4 43.39 L154.55 43.88 L154.71 43.48 L154.86 43.56 L155.01 43.44 L155.17 43.32 L155.32 43.3 L155.47 43.16 L155.62 43.17 L155.78 43.23 L155.93 43.4 L156.08 43.21 L156.24 43.47 L156.39 43.13 L156.54 42.53 L156.7 42.27 L156.85 42.52 L157 42.63 L157.15 42.77 L157.31 43.11 L157.46 43.17 L157.61 43.67 L157.77 43.6 L157.92 43.44 L158.07 43.56 L158.23 43.4 L158.38 43.4 L158.53 43.34 L158.68 43.42 L158.84 43.31 L158.99 43.27 L159.14 43.37 L159.3 43.59 L159.45 43.19 L159.6 43.36 L159.76 43.33 L159.91 43.37 L160.06 43.66 L160.21 43.3 L160.37 43.5 L160.52 43.59 L160.67 43.19 L160.83 43.45 L160.98 43.35 L161.13 43.25 L161.29 43.14 L161.44 43.69 L161.59 43.52 L161.74 43.29 L161.9 43.5 L162.05 43.92 L162.2 43.37 L162.36 43.36 L162.51 43.27 L162.66 43.36 L162.82 43.47 L162.97 43.36 L163.12 43.4 L163.27 43.48 L163.43 43.36 L163.58 43.34 L163.73 43.56 L163.89 43.23 L164.04 43.26 L164.19 43.27 L164.35 43.84 L164.5 43.38 L164.65 43.42 L164.8 43.56 L164.96 43.3 L165.11 43.64 L165.26 43.2 L165.42 43.34 L165.57 43.48 L165.72 43.17 L165.88 43.32 L166.03 43.34 L166.18 43.61 L166.33 43.31 L166.49 43.17 L166.64 43.22 L166.79 43.61 L166.95 43.17 L167.1 43.14 L167.25 43.26 L167.41 43.46 L167.56 43.64 L167.71 43.55 L167.86 43.49 L168.02 43.36 L168.17 43.31 L168.32 43.52 L168.48 43.66 L168.63 43.47 L168.78 43.62 L168.94 43.19 L169.09 43.6 L169.24 43.32 L169.39 43.21 L169.55 43.29 L169.7 42.38 L169.85 41.52 L170.01 40.54 L170.16 40.23 L170.31 40.78 L170.47 41.78 L170.62 43.14 L170.77 43.15 L170.92 43.4 L171.08 43.53 L171.23 43.42 L171.38 43.41 L171.54 43.42 L171.69 43.28 L171.84 43.55 L172 43.09 L172.15 43.26 L172.3 43.5 L172.45 43.72 L172.61 43.41 L172.76 43.47 L172.91 43.29 L173.07 43.29 L173.22 43.1 L173.37 43.43 L173.53 43.28 L173.68 43.47 L173.83 43.46 L173.98 43.13 L174.14 43.33 L174.29 43.18 L174.44 42.92 L174.6 42.31 L174.75 41.56 L174.9 40.89 L175.06 40.43 L175.21 39.95 L175.36 40.38 L175.51 40.93 L175.67 41.62 L175.82 42.32 L175.97 43.24 L176.13 42.89 L176.28 43.18 L176.43 43.06 L176.59 42.98 L176.74 43.55 L176.89 43.49 L177.04 43.36 L177.2 43.25 L177.35 43.48 L177.5 43.45 L177.66 43.23 L177.81 43.55 L177.96 43.37 L178.12 43.23 L178.27 43.45 L178.42 43.28 L178.57 43.42 L178.73 43.66 L178.88 43.49 L179.03 43.44 L179.19 43.46 L179.34 43.4 L179.49 43.35 L179.65 43.36 L179.8 43.38 L179.95 43.48 L180.1 43.45 L180.26 43.47 L180.41 43.51 L180.56 43.19 L180.72 43.72 L180.87 43.38 L181.02 43.68 L181.18 43.51 L181.33 43.29 L181.48 43.47 L181.63 43.2 L181.79 43.57 L181.94 43.47 L182.09 43.52 L182.25 43.42 L182.4 43.48 L182.55 43.49 L182.71 43.41 L182.86 43.25 L183.01 43.4 L183.16 43.42 L183.32 43.48 L183.47 43.55 L183.62 43.66 L183.78 43.6 L183.93 43.39 L184.08 43.59 L184.24 42.92 L184.39 42.71 L184.54 42.5 L184.69 42.48 L184.85 42.62 L185 43.03 L185.15 43.28 L185.31 43.12 L185.46 43.05 L185.61 43.64 L185.77 43.29 L185.92 43.55 L186.07 43.65 L186.22 43.51 L186.38 43.26 L186.53 43.47 L186.68 43.49 L186.84 43.19 L186.99 43.33 L187.14 43.42 L187.3 43.12 L187.45 43.33 L187.6 43.52 L187.75 43.58 L187.91 43.47 L188.06 43.37 L188.21 43.25 L188.37 43.26 L188.52 43.38 L188.67 43.59 L188.83 43.25 L188.98 43.38 L189.13 43.57 L189.28 43.6 L189.44 43.36 L189.59 43.35 L189.74 43.27 L189.9 43.6 L190.05 43.09 L190.2 43.7 L190.36 43.41 L190.51 43.19 L190.66 43.24 L190.81 43.56 L190.97 43.31 L191.12 43.21 L191.27 43.29 L191.43 43.56 L191.58 43.14 L191.73 43.67 L191.89 43.4 L192.04 43.58 L192.19 43.48 L192.34 43.46 L192.5 43.33 L192.65 43.61 L192.8 43.37 L192.96 43.2 L193.11 43.4 L193.26 43.32 L193.42 43.34 L193.57 43.53 L193.72 43.47 L193.87 43.4 L194.03 43.33 L194.18 43.08 L194.33 43.15 L194.49 43.49 L194.64 43.48 L194.79 43.57 L194.95 43.78 L195.1 43.2 L195.25 43.33 L195.4 43.73 L195.56 43.41 L195.71 43.03 L195.86 43.33 L196.02 43.33 L196.17 43.38 L196.32 43.53 L196.48 43.6 L196.63 43.54 L196.78 43.39 L196.93 43.45 L197.09 43.3 L197.24 43.12 L197.39 43.31 L197.55 43.27 L197.7 43.46 L197.85 43.62 L198.01 43.06 L198.16 43.29 L198.31 43.21 L198.46 43.47 L198.62 43.68 L198.77 43.19 L198.92 43.75 L199.08 43.43 L199.23 43.49 L199.38 43.35 L199.54 43.16 L199.69 42.85 L199.84 42.66 L199.99 41.29 L200.15 41.22 L200.3 41.05 L200.45 42.04 L200.61 42.94 L200.76 43.29 L200.91 43.57 L201.07 43.4 L201.22 43.25 L201.37 43.28 L201.52 43.4 L201.68 43.23 L201.83 43.32 L201.98 43.05 L202.14 43.32 L202.29 43.5 L202.44 43.45 L202.6 43.53 L202.75 43.45 L202.9 43.43 L203.05 43.29 L203.21 43.28 L203.36 43.4 L203.51 43.34 L203.67 43.53 L203.82 43.49 L203.97 43.81 L204.13 43.53 L204.28 43.49 L204.43 42.99 L204.58 43.63 L204.74 43.39 L204.89 43.46 L205.04 43.66 L205.2 43.36 L205.35 43.4 L205.5 43.64 L205.66 43.78 L205.81 43.42 L205.96 43.64 L206.11 43.3 L206.27 43.45 L206.42 43.32 L206.57 43.45 L206.73 43.15 L206.88 43.29 L207.03 43.16 L207.19 43.38 L207.34 43.57 L207.49 43.63 L207.64 43.48 L207.8 43.35 L207.95 43.5 L208.1 43 L208.26 43.41 L208.41 43.33 L208.56 43.39 L208.72 43.6 L208.87 43.23 L209.02 43.29 L209.17 43.26 L209.33 43.55 L209.48 43.39 L209.63 43.4 L209.79 43.21 L209.94 43.62 L210.09 43.29 L210.25 43.19 L210.4 43.46 L210.55 43.53 L210.7 43.18 L210.86 43.35 L211.01 43.21 L211.16 43.27 L211.32 43.22 L211.47 43.42 L211.62 43.74 L211.78 43.28 L211.93 43.46 L212.08 43.15 L212.23 43.16 L212.39 42.63 L212.54 42.88 L212.69 42.82 L212.85 42.97 L213 43.31 L213.15 43.31 L213.31 43.39 L213.46 43.54 L213.61 43.15 L213.76 43.54 L213.92 43.65 L214.07 43.47 L214.22 43.37 L214.38 43.38 L214.53 43.45 L214.68 43.47 L214.84 43.74 L214.99 43.29 L215.14 43.11 L215.29 43.51 L215.45 43.69 L215.6 43.27 L215.75 43.42 L215.91 44.05 L216.06 43.52 L216.21 43.63 L216.37 43.59 L216.52 43.07 L216.67 43.23 L216.82 43.42 L216.98 43.39 L217.13 43.13 L217.28 43.57 L217.44 43.27 L217.59 43.5 L217.74 43.25 L217.9 43.35 L218.05 43.51 L218.2 43.22 L218.35 43.3 L218.51 43.09 L218.66 43.46 L218.81 43.37 L218.97 43.5 L219.12 43.19 L219.27 43.52 L219.43 43.39 L219.58 43.18 L219.73 43.3 L219.88 43.34 L220.04 43.35 L220.19 43.34 L220.34 43.28 L220.5 43.44 L220.65 43.72 L220.8 43.17 L220.96 43.57 L221.11 43.09 L221.26 43.34 L221.41 42.87 L221.57 43.2 L221.72 43.32 L221.87 43.24 L222.03 43.62 L222.18 43.36 L222.33 43.45 L222.49 43.39 L222.64 43.73 L222.79 43.76 L222.94 43.28 L223.1 43.38 L223.25 43.44 L223.4 43.27 L223.56 43.07 L223.71 42.52 L223.86 41.79 L224.02 41.77 L224.17 41.98 L224.32 42.79 L224.47 43.38 L224.63 43.27 L224.78 42.9 L224.93 42.46 L225.09 41.65 L225.24 41.31 L225.39 41.12 L225.55 41.33 L225.7 41.5 L225.85 42.19 L226 42.53 L226.16 42.83 L226.31 43.26 L226.46 43.39 L226.62 43.53 L226.77 43.26 L226.92 43.37 L227.08 43.24 L227.23 43.43 L227.38 43.06 L227.53 43.41 L227.69 43.61 L227.84 43.37 L227.99 43.32 L228.15 43.19 L228.3 43.48 L228.45 43.49 L228.61 43.45 L228.76 43.47 L228.91 43.75 L229.06 43.28 L229.22 43.19 L229.37 43.53 L229.52 43.57 L229.68 43.43 L229.83 43.54 L229.98 43.27 L230.14 43.5 L230.29 43.3 L230.44 43.61 L230.59 43.64 L230.75 43.66 L230.9 43.64 L231.05 43.33 L231.21 43.26 L231.36 43.38 L231.51 43.37 L231.67 43.77 L231.82 43.22 L231.97 43.6 L232.12 43.18 L232.28 43 L232.43 43.39 L232.58 43.3 L232.74 43.3 L232.89 43.62 L233.04 43.59 L233.2 43.51 L233.35 43.37 L233.5 43.26 L233.65 43.38 L233.81 43.22 L233.96 43.48 L234.11 43.63 L234.27 43.4 L234.42 43.41 L234.57 43.63 L234.73 43.23 L234.88 43.56 L235.03 43.52 L235.18 43.36 L235.34 43.58 L235.49 43.3 L235.64 43.34 L235.8 43.32 L235.95 43.4 L236.1 43.48 L236.26 43.52 L236.41 43.35 L236.56 43.17 L236.71 43.27 L236.87 43.34 L237.02 43.23 L237.17 43.18 L237.33 43.6 L237.48 43.4 L237.63 43.19 L237.79 43.5 L237.94 43.47 L238.09 43.29 L238.24 43.43 L238.4 43.2 L238.55 43.45 L238.7 43.3 L238.86 42.98 L239.01 43.2 L239.16 43.62 L239.32 43.56 L239.47 43.56 L239.62 43.4 L239.77 43.62 L239.93 43.3 L240.08 43.11 L240.23 43.14 L240.39 43.52 L240.54 43.44 L240.69 43.44 L240.85 43.51 L241 43.04 L241.15 43.3 L241.3 43.18 L241.46 42.79 L241.61 42.82 L241.76 42.79 L241.92 42.97 L242.07 43.37 L242.22 43.73 L242.38 43.28 L242.53 43.26 L242.68 43.1 L242.83 43.66 L242.99 43.59 L243.14 43.14 L243.29 43.13 L243.45 43.19 L243.6 43.4 L243.75 43.19 L243.91 43.49 L244.06 43.6 L244.21 43.41 L244.36 43.38 L244.52 43.27 L244.67 43.22 L244.82 43.69 L244.98 43.36 L245.13 43.32 L245.28 43.61 L245.44 43.45 L245.59 43.39 L245.74 43.33 L245.89 43.55 L246.05 43.5 L246.2 43.59 L246.35 43.35 L246.51 43.46 L246.66 43.5 L246.81 43.3 L246.97 43.43 L247.12 43.6 L247.27 43.22 L247.42 43.24 L247.58 43.29 L247.73 43.43 L247.88 42.86 L248.04 42.85 L248.19 42.88 L248.34 42.68 L248.5 42.63 L248.65 43.26 L248.8 43.24 L248.95 43.17 L249.11 43.37 L249.26 43.44 L249.41 43.36 L249.57 43.19 L249.72 43.22 L249.87 42.83 L250.03 42.44 L250.18 42.2 L250.33 41.71 L250.48 41.62 L250.64 41.88 L250.79 42.17 L250.94 42.51 L251.1 42.91 L251.25 43.17 L251.4 43.45 L251.56 43.34 L251.71 43.27 L251.86 43.3 L252.01 43.54 L252.17 43.32 L252.32 43.31 L252.47 43.55 L252.63 43.32 L252.78 43.43 L252.93 43.47 L253.09 43.37 L253.24 43.44 L253.39 43.76 L253.54 43.37 L253.7 43.57 L253.85 43.35 L254 43.09 L254.16 43.05 L254.31 42.94 L254.46 42.86 L254.62 42.97 L254.77 43.37 L254.92 43.45 L255.07 43.31 L255.23 43.15 L255.38 43.41 L255.53 43.27 L255.69 43.53 L255.84 43.41 L255.99 43.4 L256.15 43.61 L256.3 43.41 L256.45 43.44 L256.6 43.82 L256.76 43.42 L256.91 43.36 L257.06 43.37 L257.22 43.36 L257.37 43.59 L257.52 43.53 L257.68 43.44 L257.83 43.55 L257.98 43.49 L258.13 43.22 L258.29 43.55 L258.44 43.47 L258.59 43.12 L258.75 43.43 L258.9 43.57 L259.05 43.37 L259.21 43.38 L259.36 43.39 L259.51 43.67 L259.66 43.36 L259.82 43.35 L259.97 43.08 L260.12 43.3 L260.28 43.47 L260.43 43.34 L260.58 43.24 L260.74 43.25 L260.89 43.05 L261.04 42.66 L261.19 42.78 L261.35 42.92 L261.5 43.35" fill="none" stroke="#14a866" stroke-width="1.4" stroke-linejoin="round" />
<rect x="47.2" y="8.9" width="214.7" height="159.1" fill="none" stroke="#000" stroke-width="2"/>
<line x1="47.3" y1="168" x2="47.3" y2="171.5" stroke="#000" stroke-width="1.5" />
<line x1="62.6" y1="168" x2="62.6" y2="170" stroke="#000" stroke-width="1.5" />
<line x1="77.9" y1="168" x2="77.9" y2="171.5" stroke="#000" stroke-width="1.5" />
<line x1="93.2" y1="168" x2="93.2" y2="170" stroke="#000" stroke-width="1.5" />
<line x1="108.5" y1="168" x2="108.5" y2="171.5" stroke="#000" stroke-width="1.5" />
<line x1="123.8" y1="168" x2="123.8" y2="170" stroke="#000" stroke-width="1.5" />
<line x1="139.1" y1="168" x2="139.1" y2="171.5" stroke="#000" stroke-width="1.5" />
<line x1="154.4" y1="168" x2="154.4" y2="170" stroke="#000" stroke-width="1.5" />
<line x1="169.7" y1="168" x2="169.7" y2="171.5" stroke="#000" stroke-width="1.5" />
<line x1="185" y1="168" x2="185" y2="170" stroke="#000" stroke-width="1.5" />
<line x1="200.3" y1="168" x2="200.3" y2="171.5" stroke="#000" stroke-width="1.5" />
<line x1="215.6" y1="168" x2="215.6" y2="170" stroke="#000" stroke-width="1.5" />
<line x1="230.9" y1="168" x2="230.9" y2="171.5" stroke="#000" stroke-width="1.5" />
<line x1="246.2" y1="168" x2="246.2" y2="170" stroke="#000" stroke-width="1.5" />
<line x1="261.5" y1="168" x2="261.5" y2="171.5" stroke="#000" stroke-width="1.5" />
<text x="47.3" y="183.4" font-size="13" text-anchor="middle" fill="#000" >10</text>
<text x="77.9" y="183.4" font-size="13" text-anchor="middle" fill="#000" >20</text>
<text x="108.5" y="183.4" font-size="13" text-anchor="middle" fill="#000" >30</text>
<text x="139.1" y="183.4" font-size="13" text-anchor="middle" fill="#000" >40</text>
<text x="169.7" y="183.4" font-size="13" text-anchor="middle" fill="#000" >50</text>
<text x="200.3" y="183.4" font-size="13" text-anchor="middle" fill="#000" >60</text>
<text x="230.9" y="183.4" font-size="13" text-anchor="middle" fill="#000" >70</text>
<text x="261.5" y="183.4" font-size="13" text-anchor="middle" fill="#000" >80</text>
<text x="154.5" y="204" font-size="13.2" text-anchor="middle" fill="#000" >Two-theta (deg)</text>
<text transform="translate(34.6,87.5) rotate(-90)" font-size="13.3" text-anchor="middle" xml:space="preserve">Intensity  (a.u.)</text>
<text x="51.4" y="28.4" font-size="17.6" text-anchor="start" fill="#000" >(a)</text>
<text x="127.6" y="30.7" font-size="11.5" text-anchor="start" fill="#14a866" ><tspan>Ni/SiO</tspan><tspan dy="3.2" font-size="62%">2</tspan><tspan dy="-3.2">@N</tspan><tspan dy="3.2" font-size="62%">12</tspan><tspan dy="-3.2">C</tspan></text>
<text x="127.6" y="66.7" font-size="11.5" text-anchor="start" fill="#0b6cf0" ><tspan>Ni/SiO</tspan><tspan dy="3.2" font-size="62%">2</tspan><tspan dy="-3.2">@N</tspan><tspan dy="3.2" font-size="62%">7</tspan><tspan dy="-3.2">C</tspan></text>
<text x="127.3" y="105.7" font-size="11.5" text-anchor="start" fill="#fa1e24" ><tspan>Ni/SiO</tspan><tspan dy="3.2" font-size="62%">2</tspan><tspan dy="-3.2">@N</tspan><tspan dy="3.2" font-size="62%">2</tspan><tspan dy="-3.2">C</tspan></text>
<text x="129" y="146.2" font-size="11.5" text-anchor="start" fill="#222" ><tspan>Ni/SiO</tspan><tspan dy="3.2" font-size="62%">2</tspan></text>
<path d="M316.8 158.63 L317.25 159.69 L317.7 159.57 L318.15 158.18 L318.6 158.35 L319.05 158.16 L319.5 159.03 L319.95 158.53 L320.4 159.17 L320.85 157.09 L321.3 159.81 L321.75 158.48 L322.2 159.09 L322.65 158.44 L323.1 158.24 L323.55 158.91 L324 159.19 L324.45 158.37 L324.9 158.4 L325.35 159.07 L325.8 157.82 L326.25 157.3 L326.7 158.82 L327.15 157.97 L327.6 156.96 L328.05 157.84 L328.5 158.12 L328.95 157.53 L329.4 157.29 L329.85 158.51 L330.3 159.19 L330.75 158.28 L331.2 157.87 L331.65 158.77 L332.1 159.03 L332.55 158.21 L333 158.88 L333.45 159.28 L333.9 158.27 L334.35 157.78 L334.8 158.71 L335.25 158.62 L335.7 159.3 L336.15 157.39 L336.6 157.88 L337.05 157.74 L337.5 157.02 L337.95 158.5 L338.4 158.82 L338.85 157.8 L339.3 159.5 L339.75 159.04 L340.2 158.88 L340.65 158.7 L341.1 159.14 L341.55 157.3 L342 158.85 L342.45 158.84 L342.9 156.94 L343.35 158.63 L343.8 158.14 L344.25 158.97 L344.7 157.98 L345.15 158.32 L345.6 158.6 L346.05 157.62 L346.5 158.8 L346.95 158.23 L347.4 158.7 L347.85 157.89 L348.3 159.17 L348.75 158.78 L349.2 158.15 L349.65 158.79 L350.1 159.29 L350.55 159.71 L351 157.02 L351.45 158.98 L351.9 158.64 L352.35 158.19 L352.8 157.45 L353.25 159.26 L353.7 157.24 L354.15 158.7 L354.6 159.28 L355.05 156.96 L355.5 157.99 L355.95 157.18 L356.4 158.42 L356.85 159.43 L357.3 159.84 L357.75 156.79 L358.2 157.75 L358.65 158.77 L359.1 159.46 L359.55 158.53 L360 157.59 L360.45 158.42 L360.9 158.17 L361.35 158.01 L361.8 157.59 L362.25 158.48 L362.7 158.41 L363.15 158.09 L363.6 157.98 L364.05 157.12 L364.5 157.76 L364.95 159.11 L365.4 157.99 L365.85 156.98 L366.3 159.2 L366.75 158.55 L367.2 159.81 L367.65 158.17 L368.1 157.74 L368.55 156.95 L369 159.16 L369.45 160.16 L369.9 157.44 L370.35 157.57 L370.8 158.56 L371.25 157.42 L371.7 157.86 L372.15 157.79 L372.6 158.22 L373.05 158.94 L373.5 158.08 L373.95 158.79 L374.4 157.72 L374.85 158.31 L375.3 156.33 L375.75 156.88 L376.2 158.67 L376.65 157.56 L377.1 158.49 L377.55 158.46 L378 159.08 L378.45 158.66 L378.9 158.82 L379.35 157.92 L379.8 157.44 L380.25 157.31 L380.7 157.33 L381.15 156.64 L381.6 156.92 L382.05 157.11 L382.5 157.2 L382.95 156.55 L383.4 155.1 L383.85 156.4 L384.3 156.46 L384.75 156.97 L385.2 156.49 L385.65 155.57 L386.1 155.57 L386.55 157.82 L387 156.87 L387.45 157.79 L387.9 158.09 L388.35 155.79 L388.8 156.81 L389.25 156.93 L389.7 157.07 L390.15 157.12 L390.6 156.91 L391.05 156.95 L391.5 155.66 L391.95 156.79 L392.4 156.39 L392.85 157.15 L393.3 156.73 L393.75 157.66 L394.2 157.88 L394.65 157.53 L395.1 157.6 L395.55 157.48 L396 157.11 L396.45 157.4 L396.9 157.19 L397.35 157.96 L397.8 157.72 L398.25 158.23 L398.7 156.76 L399.15 158.6 L399.6 157.34 L400.05 157.41 L400.5 157.84 L400.95 157.55 L401.4 158.23 L401.85 157.54 L402.3 157.14 L402.75 157.32 L403.2 159.05 L403.65 158.04 L404.1 157.07 L404.55 158.01 L405 156.76 L405.45 159.43 L405.9 156.78 L406.35 158.38 L406.8 158.43 L407.25 156.84 L407.7 158.24 L408.15 158.8 L408.6 158.37 L409.05 158.21 L409.5 158.76 L409.95 158.13 L410.4 158.27 L410.85 157.9 L411.3 158.51 L411.75 157.25 L412.2 158.63 L412.65 157.6 L413.1 157.13 L413.55 158.29 L414 159.35 L414.45 158.77 L414.9 157.59 L415.35 158.56 L415.8 157.64 L416.25 157.9 L416.7 158.07 L417.15 156.15 L417.6 158.15 L418.05 157.18 L418.5 157.44 L418.95 156.82 L419.4 156.79 L419.85 157.25 L420.3 158.66 L420.75 159.33 L421.2 157.98 L421.65 158.87 L422.1 157.79 L422.55 156.47 L423 158.12 L423.45 158.36 L423.9 157.66 L424.35 158.24 L424.8 158.46 L425.25 157.31 L425.7 156.82 L426.15 157.82 L426.6 157.83 L427.05 157.72 L427.5 158.79 L427.95 159.38 L428.4 157.67 L428.85 158.56 L429.3 158.75 L429.75 158.57 L430.2 158.84 L430.65 157.7 L431.1 158.6 L431.55 159.64 L432 158.66 L432.45 157.53 L432.9 158.52 L433.35 159.04 L433.8 158.33 L434.25 157.59 L434.7 159.28 L435.15 157.05 L435.6 158.46 L436.05 158.05 L436.5 157.11 L436.95 159.05 L437.4 158.35 L437.85 157.15 L438.3 158.56 L438.75 157.74 L439.2 156.57 L439.65 157.55 L440.1 158.31 L440.55 158.61 L441 158.24 L441.45 158.15 L441.9 158.49 L442.35 157.95 L442.8 159.07 L443.25 158.25 L443.7 158.37 L444.15 158.57 L444.6 157.3 L445.05 157.58 L445.5 159.38 L445.95 158.43 L446.4 157.94 L446.85 158.44 L447.3 157.79 L447.75 158.4 L448.2 157.65 L448.65 158.41 L449.1 156.93 L449.55 159.26 L450 157.79 L450.45 156.94 L450.9 158.03 L451.35 157.92 L451.8 158.34 L452.25 157.31 L452.7 158.54 L453.15 161.13 L453.6 157.21 L454.05 158.51 L454.5 158 L454.95 158.4 L455.4 156.8 L455.85 157.34 L456.3 158.63 L456.75 158.24 L457.2 159.58 L457.65 157.71 L458.1 158.42 L458.55 160.62 L459 157.68 L459.45 157.57 L459.9 158.27 L460.35 158.27 L460.8 158.98 L461.25 158.42 L461.7 157.71 L462.15 158.49 L462.6 160.44 L463.05 159.35 L463.5 156.11 L463.95 158.23 L464.4 157.64 L464.85 158.85 L465.3 158.21 L465.75 159.9 L466.2 159.11 L466.65 159.08 L467.1 158.52 L467.55 158.34 L468 158.65 L468.45 159.42 L468.9 158.82 L469.35 158.11 L469.8 159.42 L470.25 158.56 L470.7 158.34 L471.15 157.78 L471.6 157.96 L472.05 157.91 L472.5 156.19 L472.95 159.24 L473.4 158.89 L473.85 158.27 L474.3 159.28 L474.75 158.8 L475.2 158.75 L475.65 156.48 L476.1 158.27 L476.55 158.89 L477 159.76 L477.45 159.95 L477.9 159.62 L478.35 157.55 L478.8 156.73 L479.25 158.95 L479.7 158.52 L480.15 159.27 L480.6 158.41 L481.05 158.7 L481.5 157.33 L481.95 158.9 L482.4 158.2 L482.85 158.84 L483.3 158.94 L483.75 158.49 L484.2 158.84 L484.65 158.59 L485.1 159.22 L485.55 159.02 L486 158.19 L486.45 158.17 L486.9 160.05 L487.35 158.58 L487.8 159.46 L488.25 158.99 L488.7 158.24 L489.15 158.1 L489.6 158.81 L490.05 158.92 L490.5 159.22 L490.95 157.72 L491.4 158.27 L491.85 158.68 L492.3 160.05 L492.75 156.89 L493.2 159.14 L493.65 158.37 L494.1 159.15 L494.55 158.42 L495 159.12 L495.45 160.09 L495.9 159.13 L496.35 159.2 L496.8 159.16 L497.25 158.28 L497.7 159.32 L498.15 158.73 L498.6 158.26 L499.05 158.88 L499.5 158.74 L499.95 159.54 L500.4 158.91 L500.85 158.53 L501.3 160.13 L501.75 159.76 L502.2 160 L502.65 159.48 L503.1 158.92 L503.55 158.68 L504 158.8 L504.45 159.79 L504.9 159.13 L505.35 157.87 L505.8 159.03 L506.25 157.94 L506.7 159.21 L507.15 158.13 L507.6 158.09 L508.05 159.21 L508.5 159.06 L508.95 157.8 L509.4 159.74 L509.85 160.88 L510.3 157.97 L510.75 160.63 L511.2 158.63 L511.65 158.79 L512.1 159.06 L512.55 158.05 L513 160.26 L513.45 159.62 L513.9 158.64 L514.35 159.03 L514.8 158.04 L515.25 158.99 L515.7 160.03 L516.15 157.92 L516.6 158.95 L517.05 159.42 L517.5 160.16 L517.95 160.41 L518.4 158.97 L518.85 158.75 L519.3 159.72 L519.75 159.08 L520.2 159.13 L520.65 160.25 L521.1 160.75 L521.55 159.62 L522 159.26 L522.45 159.88 L522.9 157.92 L523.35 159.43 L523.8 158.61 L524.25 161.38 L524.7 160.05 L525.15 159.6 L525.6 159.34 L526.05 157.49 L526.5 160.08 L526.95 160.83 L527.4 158.95 L527.85 160.09 L528.3 160.13 L528.75 158.32 L529.2 160.32 L529.65 160.67 L530.1 159.77 L530.55 159.55" fill="none" stroke="#4e4e4e" stroke-width="1.6" stroke-linejoin="round" />
<path d="M316.8 156.99 L317.25 158.09 L317.7 157.87 L318.15 157.94 L318.6 158.92 L319.05 156.18 L319.5 156.84 L319.95 156.23 L320.4 157.53 L320.85 158.72 L321.3 157.78 L321.75 158.39 L322.2 156.06 L322.65 158.21 L323.1 157.24 L323.55 160 L324 159.2 L324.45 159.35 L324.9 158.42 L325.35 159.22 L325.8 159.41 L326.25 158.55 L326.7 158.53 L327.15 159.06 L327.6 158.71 L328.05 158.86 L328.5 159.31 L328.95 159.01 L329.4 160.64 L329.85 158.42 L330.3 160.98 L330.75 159.67 L331.2 159.89 L331.65 159.23 L332.1 160.57 L332.55 160.61 L333 161.19 L333.45 160.2 L333.9 160.55 L334.35 162.01 L334.8 160.33 L335.25 159.08 L335.7 160.33 L336.15 158.98 L336.6 159.43 L337.05 159.18 L337.5 157.91 L337.95 156.1 L338.4 156.69 L338.85 156.51 L339.3 154.5 L339.75 154.24 L340.2 153.7 L340.65 150.86 L341.1 150.83 L341.55 149.42 L342 147.08 L342.45 146.39 L342.9 145.55 L343.35 145.94 L343.8 143.27 L344.25 143.86 L344.7 145.23 L345.15 144.49 L345.6 144.75 L346.05 146.77 L346.5 149.37 L346.95 150.82 L347.4 150.16 L347.85 151.52 L348.3 154.88 L348.75 156.81 L349.2 157.97 L349.65 158.72 L350.1 159.31 L350.55 158.34 L351 158.76 L351.45 157.08 L351.9 157.03 L352.35 158.48 L352.8 158.94 L353.25 159.03 L353.7 158.93 L354.15 159.15 L354.6 159.21 L355.05 156.68 L355.5 157.73 L355.95 158.95 L356.4 159.04 L356.85 156.87 L357.3 159.5 L357.75 157.82 L358.2 157.97 L358.65 158.41 L359.1 158.83 L359.55 156.58 L360 158.94 L360.45 157.97 L360.9 157.06 L361.35 157.5 L361.8 155.52 L362.25 157 L362.7 157.77 L363.15 156.82 L363.6 157.14 L364.05 157.26 L364.5 157.39 L364.95 158.3 L365.4 157.19 L365.85 156.9 L366.3 157.63 L366.75 159.11 L367.2 156.54 L367.65 157.15 L368.1 154.8 L368.55 157.47 L369 156.53 L369.45 156.95 L369.9 155.31 L370.35 154.07 L370.8 155.75 L371.25 155.36 L371.7 153.49 L372.15 152.63 L372.6 154.3 L373.05 153.43 L373.5 155.96 L373.95 152.48 L374.4 152.31 L374.85 152.47 L375.3 150.71 L375.75 151.3 L376.2 153.64 L376.65 151.68 L377.1 151.01 L377.55 150.16 L378 151.83 L378.45 151.72 L378.9 151.13 L379.35 150.29 L379.8 150.8 L380.25 150.69 L380.7 149.44 L381.15 150.55 L381.6 147.63 L382.05 148.27 L382.5 149.06 L382.95 149.07 L383.4 147.83 L383.85 149.13 L384.3 149.82 L384.75 149.37 L385.2 149.29 L385.65 150.04 L386.1 149.77 L386.55 148.37 L387 149.46 L387.45 151.11 L387.9 148.83 L388.35 150.18 L388.8 149.88 L389.25 149.52 L389.7 149.56 L390.15 150.82 L390.6 151.18 L391.05 151.32 L391.5 149.69 L391.95 150.97 L392.4 151.73 L392.85 152.45 L393.3 152.3 L393.75 152.59 L394.2 152.97 L394.65 152.82 L395.1 151.31 L395.55 152.3 L396 151.66 L396.45 150.11 L396.9 150.94 L397.35 154.83 L397.8 151.75 L398.25 150.74 L398.7 152.5 L399.15 154.71 L399.6 153.25 L400.05 153.8 L400.5 153.22 L400.95 153.51 L401.4 154.96 L401.85 154.59 L402.3 153.81 L402.75 154.89 L403.2 155.17 L403.65 153.98 L404.1 154.57 L404.55 154.65 L405 153.83 L405.45 155.64 L405.9 154.32 L406.35 153.86 L406.8 152.8 L407.25 153.2 L407.7 155.99 L408.15 153.32 L408.6 154.88 L409.05 154.08 L409.5 154.95 L409.95 155.04 L410.4 153.65 L410.85 154.13 L411.3 154.51 L411.75 154.52 L412.2 154.37 L412.65 154.02 L413.1 154.83 L413.55 155.39 L414 154.49 L414.45 153.08 L414.9 154.09 L415.35 153.63 L415.8 153.91 L416.25 155.16 L416.7 152.98 L417.15 153.05 L417.6 152.05 L418.05 152.52 L418.5 152.12 L418.95 154.17 L419.4 152.78 L419.85 151.81 L420.3 154.22 L420.75 150.87 L421.2 152.97 L421.65 153.03 L422.1 152.5 L422.55 151.57 L423 151.61 L423.45 151.31 L423.9 152.37 L424.35 149.21 L424.8 150.98 L425.25 151.6 L425.7 150.82 L426.15 149.54 L426.6 151.07 L427.05 150.52 L427.5 152.03 L427.95 152.58 L428.4 151.21 L428.85 149.16 L429.3 150.85 L429.75 150.08 L430.2 151.79 L430.65 152.93 L431.1 151.68 L431.55 153.52 L432 153.13 L432.45 152.43 L432.9 151 L433.35 152.19 L433.8 150.77 L434.25 153.39 L434.7 152.6 L435.15 153.98 L435.6 153.03 L436.05 150.93 L436.5 153.65 L436.95 154.06 L437.4 154.92 L437.85 152.4 L438.3 152.57 L438.75 153.68 L439.2 152.68 L439.65 152.47 L440.1 152.87 L440.55 156.68 L441 153.57 L441.45 153.3 L441.9 153.97 L442.35 154.54 L442.8 155.94 L443.25 155.72 L443.7 155.68 L444.15 155.05 L444.6 155.24 L445.05 154.35 L445.5 153.4 L445.95 156.85 L446.4 154.26 L446.85 155.64 L447.3 154.22 L447.75 154.36 L448.2 154.2 L448.65 152.89 L449.1 154.1 L449.55 154.47 L450 154.82 L450.45 154.4 L450.9 154.83 L451.35 154.02 L451.8 153.62 L452.25 151.54 L452.7 152.83 L453.15 154.78 L453.6 153.21 L454.05 153.74 L454.5 152.59 L454.95 151.99 L455.4 154.57 L455.85 152.74 L456.3 153.74 L456.75 152.63 L457.2 151.66 L457.65 149.57 L458.1 151.77 L458.55 149.97 L459 149.17 L459.45 152.5 L459.9 151.84 L460.35 151.58 L460.8 150.81 L461.25 150.54 L461.7 150.82 L462.15 150.38 L462.6 150.11 L463.05 150.6 L463.5 147.22 L463.95 150.39 L464.4 148.68 L464.85 149.99 L465.3 150.06 L465.75 147.75 L466.2 149.09 L466.65 148.79 L467.1 147 L467.55 146.94 L468 147.87 L468.45 145.81 L468.9 147.87 L469.35 148.79 L469.8 148.44 L470.25 147.76 L470.7 149.6 L471.15 152.14 L471.6 152.58 L472.05 151.76 L472.5 151.7 L472.95 153.12 L473.4 153.78 L473.85 153.72 L474.3 154.69 L474.75 156.28 L475.2 157.02 L475.65 153.82 L476.1 157.42 L476.55 156.76 L477 157.96 L477.45 156.96 L477.9 157.6 L478.35 158.99 L478.8 154.55 L479.25 159.3 L479.7 158.07 L480.15 156.21 L480.6 155.46 L481.05 158.54 L481.5 157.29 L481.95 159.42 L482.4 158.73 L482.85 158.48 L483.3 159.7 L483.75 159 L484.2 159.64 L484.65 159.83 L485.1 159.41 L485.55 159.98 L486 160.07 L486.45 158.01 L486.9 159.2 L487.35 159.45 L487.8 159.24 L488.25 158.07 L488.7 159.12 L489.15 160.06 L489.6 159.95 L490.05 161.31 L490.5 159.21 L490.95 159.42 L491.4 159.31 L491.85 159.6 L492.3 159.34 L492.75 158.11 L493.2 160.36 L493.65 161.03 L494.1 161.2 L494.55 159.02 L495 159.95 L495.45 162.02 L495.9 160.1 L496.35 160.59 L496.8 160.12 L497.25 161.31 L497.7 161.3 L498.15 162.7 L498.6 160.9 L499.05 160.88 L499.5 159.25 L499.95 160.09 L500.4 159.8 L500.85 160.19 L501.3 159.21 L501.75 161.75 L502.2 159.48 L502.65 160.82 L503.1 159.29 L503.55 160.91 L504 162.22 L504.45 159.75 L504.9 160.95 L505.35 160.52 L505.8 160.88 L506.25 161.02 L506.7 159.97 L507.15 160.44 L507.6 160.04 L508.05 159.81 L508.5 159.41 L508.95 161.61 L509.4 159.92 L509.85 161.33 L510.3 161.22 L510.75 159.68 L511.2 161.73 L511.65 159.83 L512.1 161.33 L512.55 162.16 L513 160 L513.45 159.79 L513.9 159.79 L514.35 163.03 L514.8 160.37 L515.25 159.48 L515.7 161.57 L516.15 160.59 L516.6 160.74 L517.05 159.78 L517.5 158.56 L517.95 160.06 L518.4 159.75 L518.85 159.18 L519.3 159.72 L519.75 159.87 L520.2 161.63 L520.65 161.53 L521.1 161.35 L521.55 160.31 L522 159.59 L522.45 161.15 L522.9 161.32 L523.35 161.87 L523.8 160.85 L524.25 160.76 L524.7 161.2 L525.15 159.97 L525.6 160.1 L526.05 161.56 L526.5 159.66 L526.95 160.85 L527.4 161.72 L527.85 161.18 L528.3 161.39 L528.75 159.86 L529.2 160.85 L529.65 160.71 L530.1 161.59 L530.55 161.42" fill="none" stroke="#fa1e24" stroke-width="1.6" stroke-linejoin="round" />
<path d="M316.8 158.37 L317.25 152.02 L317.7 157.3 L318.15 156.18 L318.6 157.84 L319.05 156.66 L319.5 158.57 L319.95 156.27 L320.4 155.59 L320.85 157.05 L321.3 156.89 L321.75 155.9 L322.2 156.08 L322.65 157.37 L323.1 157.38 L323.55 155.86 L324 156.06 L324.45 154.22 L324.9 158.79 L325.35 156.35 L325.8 158.42 L326.25 157.25 L326.7 159.27 L327.15 158.78 L327.6 157.23 L328.05 158.77 L328.5 155.65 L328.95 158.56 L329.4 155.03 L329.85 157.43 L330.3 158.38 L330.75 157.29 L331.2 156.52 L331.65 155.95 L332.1 156.55 L332.55 158.37 L333 158.16 L333.45 156.66 L333.9 155.38 L334.35 157.88 L334.8 155.12 L335.25 156.31 L335.7 156.04 L336.15 157.97 L336.6 157.31 L337.05 157.6 L337.5 157.35 L337.95 156.12 L338.4 157.7 L338.85 158.84 L339.3 156.95 L339.75 157.82 L340.2 156.84 L340.65 158.34 L341.1 157.85 L341.55 158.04 L342 157.28 L342.45 158.88 L342.9 156.19 L343.35 156.15 L343.8 155.74 L344.25 157.22 L344.7 155.54 L345.15 155.43 L345.6 157.13 L346.05 157.62 L346.5 156.77 L346.95 152.46 L347.4 154.63 L347.85 154.39 L348.3 154.14 L348.75 155.1 L349.2 157.91 L349.65 155.07 L350.1 154.43 L350.55 156.22 L351 155.32 L351.45 155.31 L351.9 154.18 L352.35 154.99 L352.8 155.48 L353.25 152.35 L353.7 152.66 L354.15 156.05 L354.6 155.56 L355.05 153.62 L355.5 152.77 L355.95 153.68 L356.4 152.19 L356.85 153.12 L357.3 155.53 L357.75 153.37 L358.2 154.54 L358.65 152.55 L359.1 153.14 L359.55 154.28 L360 150.56 L360.45 151.67 L360.9 151.74 L361.35 152.13 L361.8 153.6 L362.25 152.29 L362.7 149.27 L363.15 150.69 L363.6 149.7 L364.05 149.49 L364.5 153.13 L364.95 148.94 L365.4 150.45 L365.85 149.03 L366.3 150.9 L366.75 150.06 L367.2 149.59 L367.65 149.16 L368.1 150.57 L368.55 147.71 L369 147.8 L369.45 147.13 L369.9 150.15 L370.35 147.86 L370.8 146.73 L371.25 147.36 L371.7 150.99 L372.15 147.43 L372.6 148.51 L373.05 147.84 L373.5 147.05 L373.95 145.99 L374.4 146.29 L374.85 146.1 L375.3 143.52 L375.75 149.59 L376.2 147.25 L376.65 146.03 L377.1 145.45 L377.55 144.52 L378 146.61 L378.45 144.97 L378.9 145.67 L379.35 143.07 L379.8 145.2 L380.25 147.14 L380.7 143.99 L381.15 145.24 L381.6 144.08 L382.05 145.3 L382.5 145.09 L382.95 143.61 L383.4 142.63 L383.85 143.57 L384.3 143.11 L384.75 142.15 L385.2 143.44 L385.65 143.3 L386.1 141.48 L386.55 142.39 L387 146.23 L387.45 143.39 L387.9 142.35 L388.35 145.38 L388.8 141.42 L389.25 138.69 L389.7 139.32 L390.15 139.72 L390.6 141.93 L391.05 142.76 L391.5 138.58 L391.95 142.76 L392.4 139.62 L392.85 141.45 L393.3 141.63 L393.75 141.5 L394.2 140.85 L394.65 140.97 L395.1 139.18 L395.55 140.93 L396 141.75 L396.45 141.58 L396.9 143.68 L397.35 141.6 L397.8 141.05 L398.25 142.17 L398.7 140.22 L399.15 138.13 L399.6 136.8 L400.05 141.27 L400.5 140.25 L400.95 140.51 L401.4 138.87 L401.85 139.65 L402.3 141.55 L402.75 139.44 L403.2 137.45 L403.65 138.24 L404.1 140.5 L404.55 137.19 L405 135.15 L405.45 135.42 L405.9 136.56 L406.35 139.24 L406.8 138.22 L407.25 136.89 L407.7 135.98 L408.15 137.28 L408.6 136.99 L409.05 136.24 L409.5 136.43 L409.95 135.53 L410.4 138.64 L410.85 133 L411.3 136.01 L411.75 134.31 L412.2 136.32 L412.65 134.72 L413.1 135 L413.55 134.72 L414 133.8 L414.45 134.32 L414.9 130.73 L415.35 133.28 L415.8 131.26 L416.25 131.54 L416.7 132.57 L417.15 131.51 L417.6 132.13 L418.05 126.13 L418.5 127.4 L418.95 129.5 L419.4 126.37 L419.85 127.2 L420.3 129.26 L420.75 127.78 L421.2 124.99 L421.65 126.43 L422.1 126.28 L422.55 125.12 L423 124.51 L423.45 124.42 L423.9 121.88 L424.35 123.6 L424.8 121.98 L425.25 123.66 L425.7 123.61 L426.15 121.8 L426.6 123.66 L427.05 123.23 L427.5 122.62 L427.95 123.53 L428.4 122.08 L428.85 122.03 L429.3 122.4 L429.75 122.13 L430.2 123.9 L430.65 119.58 L431.1 122.51 L431.55 120.54 L432 122.72 L432.45 123.95 L432.9 123.87 L433.35 125.37 L433.8 124.76 L434.25 121.05 L434.7 123.46 L435.15 127.23 L435.6 127.53 L436.05 125.92 L436.5 124.07 L436.95 129.2 L437.4 123.94 L437.85 127.36 L438.3 127.19 L438.75 127.83 L439.2 126.24 L439.65 127.49 L440.1 129.66 L440.55 127.88 L441 126.97 L441.45 129 L441.9 129.39 L442.35 129.35 L442.8 128.75 L443.25 130.67 L443.7 129.96 L444.15 128.74 L444.6 130.71 L445.05 130.53 L445.5 130.91 L445.95 128.65 L446.4 130.02 L446.85 131.77 L447.3 132.54 L447.75 131.93 L448.2 131.84 L448.65 132.74 L449.1 133.12 L449.55 133.81 L450 131.79 L450.45 130.11 L450.9 131.14 L451.35 127.64 L451.8 129.93 L452.25 128.94 L452.7 129.16 L453.15 129.48 L453.6 128.52 L454.05 126.17 L454.5 127.21 L454.95 126.24 L455.4 126.87 L455.85 126.98 L456.3 124.87 L456.75 126.69 L457.2 127.04 L457.65 124.6 L458.1 125.51 L458.55 122.23 L459 123.03 L459.45 124.57 L459.9 120.6 L460.35 121.81 L460.8 120.89 L461.25 123.13 L461.7 122.7 L462.15 119.98 L462.6 120.53 L463.05 116.54 L463.5 120.57 L463.95 119.44 L464.4 120.22 L464.85 114.91 L465.3 117.99 L465.75 116.6 L466.2 113.18 L466.65 115.2 L467.1 115.51 L467.55 116.29 L468 116.01 L468.45 115.58 L468.9 117.34 L469.35 117.12 L469.8 116.92 L470.25 117.61 L470.7 120.83 L471.15 122.55 L471.6 126.44 L472.05 125.16 L472.5 129.54 L472.95 129.61 L473.4 132.39 L473.85 131.19 L474.3 132.36 L474.75 134.22 L475.2 136.91 L475.65 137.1 L476.1 138.98 L476.55 139.49 L477 141.14 L477.45 140.78 L477.9 140.56 L478.35 142.64 L478.8 142.81 L479.25 145.69 L479.7 143.93 L480.15 144.66 L480.6 144.39 L481.05 146.57 L481.5 146.47 L481.95 146.46 L482.4 143.64 L482.85 143.43 L483.3 146.91 L483.75 148.01 L484.2 149.65 L484.65 144.03 L485.1 147.23 L485.55 144.77 L486 146.36 L486.45 147.96 L486.9 150.37 L487.35 147.96 L487.8 147.74 L488.25 148.51 L488.7 151.41 L489.15 153.55 L489.6 146.48 L490.05 148.81 L490.5 148.59 L490.95 151.52 L491.4 150.25 L491.85 152.3 L492.3 147.75 L492.75 149.65 L493.2 148.86 L493.65 147.76 L494.1 149.51 L494.55 147.71 L495 153.81 L495.45 150.71 L495.9 148.18 L496.35 148.97 L496.8 153.23 L497.25 149.31 L497.7 151.47 L498.15 151.33 L498.6 152.3 L499.05 151.53 L499.5 150.06 L499.95 149.43 L500.4 147.35 L500.85 150.52 L501.3 150.91 L501.75 150.07 L502.2 150.52 L502.65 148.65 L503.1 154.8 L503.55 150.04 L504 149.14 L504.45 149.98 L504.9 150.81 L505.35 152.5 L505.8 146.86 L506.25 152.21 L506.7 150.23 L507.15 151.07 L507.6 153.28 L508.05 152.89 L508.5 150.34 L508.95 151.45 L509.4 155.05 L509.85 154.18 L510.3 153.35 L510.75 151.86 L511.2 153.64 L511.65 152.68 L512.1 151.03 L512.55 150.29 L513 153.11 L513.45 152.93 L513.9 154.49 L514.35 151.52 L514.8 154.99 L515.25 151.88 L515.7 154.87 L516.15 153.66 L516.6 151.72 L517.05 151.12 L517.5 152.68 L517.95 152.5 L518.4 154.74 L518.85 151.87 L519.3 150.53 L519.75 153.23 L520.2 156.8 L520.65 156.36 L521.1 152.36 L521.55 153.06 L522 154.2 L522.45 152.51 L522.9 153.33 L523.35 153.35 L523.8 152.03 L524.25 152.88 L524.7 153.19 L525.15 154.56 L525.6 152.08 L526.05 154.47 L526.5 152.59 L526.95 152.97 L527.4 152.48 L527.85 161.8 L528.3 156.91 L528.75 157.14 L529.2 156.26 L529.65 154.44 L530.1 155.06 L530.55 155.53" fill="none" stroke="#0b6cf0" stroke-width="1.6" stroke-linejoin="round" />
<path d="M316.8 152.11 L317.25 149.5 L317.7 148.66 L318.15 146.61 L318.6 150.83 L319.05 153.51 L319.5 151.68 L319.95 152.56 L320.4 153.49 L320.85 150.55 L321.3 156.21 L321.75 150.5 L322.2 152.45 L322.65 156.18 L323.1 151.55 L323.55 151.86 L324 150.81 L324.45 152.1 L324.9 148.11 L325.35 150.68 L325.8 154.71 L326.25 152.62 L326.7 152.18 L327.15 153.44 L327.6 153.79 L328.05 153.65 L328.5 154.61 L328.95 151.31 L329.4 155.15 L329.85 153.35 L330.3 155.91 L330.75 154.84 L331.2 153.5 L331.65 155.21 L332.1 153.94 L332.55 157.4 L333 155.95 L333.45 156.97 L333.9 153.43 L334.35 157.41 L334.8 153.94 L335.25 156.22 L335.7 155 L336.15 151.48 L336.6 153.37 L337.05 151.62 L337.5 153.03 L337.95 154.55 L338.4 153.25 L338.85 153.75 L339.3 150.05 L339.75 152.14 L340.2 152.27 L340.65 153.33 L341.1 150.5 L341.55 152.34 L342 152.06 L342.45 148.88 L342.9 149.6 L343.35 151.92 L343.8 149.27 L344.25 149.13 L344.7 152.47 L345.15 151.42 L345.6 150.47 L346.05 150.91 L346.5 149.98 L346.95 149.65 L347.4 149.66 L347.85 150.91 L348.3 152.29 L348.75 149.31 L349.2 149.87 L349.65 149.57 L350.1 147.85 L350.55 150.21 L351 151.14 L351.45 148.34 L351.9 150.97 L352.35 148.67 L352.8 151.37 L353.25 151.45 L353.7 148.89 L354.15 146.3 L354.6 148.94 L355.05 147.27 L355.5 147.4 L355.95 149.1 L356.4 151.68 L356.85 149.15 L357.3 148.69 L357.75 145.82 L358.2 147.56 L358.65 146.04 L359.1 148.85 L359.55 146.91 L360 147.43 L360.45 146.8 L360.9 145.85 L361.35 147 L361.8 145.58 L362.25 143.61 L362.7 143.7 L363.15 143.64 L363.6 144.22 L364.05 141.5 L364.5 142.88 L364.95 138.88 L365.4 138.73 L365.85 135.99 L366.3 138.95 L366.75 135.25 L367.2 134.43 L367.65 136.48 L368.1 133.33 L368.55 132.02 L369 133.8 L369.45 131.03 L369.9 131.85 L370.35 128.78 L370.8 129.64 L371.25 129.25 L371.7 126.92 L372.15 129.2 L372.6 125.21 L373.05 125.04 L373.5 125.03 L373.95 126.04 L374.4 123.5 L374.85 122.79 L375.3 123.43 L375.75 124.52 L376.2 121.17 L376.65 119.11 L377.1 120.26 L377.55 120.78 L378 118.23 L378.45 118.61 L378.9 114.73 L379.35 117.07 L379.8 116.52 L380.25 116.22 L380.7 114.47 L381.15 113.95 L381.6 109.87 L382.05 111.27 L382.5 106.32 L382.95 107.38 L383.4 110 L383.85 109.48 L384.3 105.05 L384.75 108.85 L385.2 107.11 L385.65 106.49 L386.1 108.41 L386.55 108.64 L387 111.01 L387.45 106.81 L387.9 108.78 L388.35 109.58 L388.8 107.21 L389.25 112.38 L389.7 113.66 L390.15 110.19 L390.6 112.15 L391.05 111.45 L391.5 112.49 L391.95 111.07 L392.4 113.57 L392.85 110.46 L393.3 114.6 L393.75 113.07 L394.2 116.47 L394.65 110.04 L395.1 112.62 L395.55 110.8 L396 112.72 L396.45 113.73 L396.9 111.65 L397.35 110.92 L397.8 110.53 L398.25 113.74 L398.7 115.74 L399.15 115.91 L399.6 114.43 L400.05 113.17 L400.5 114.47 L400.95 112.97 L401.4 113.2 L401.85 117.77 L402.3 115.95 L402.75 117.24 L403.2 116.64 L403.65 119.53 L404.1 119.8 L404.55 116.04 L405 116.47 L405.45 115.76 L405.9 118.73 L406.35 118.39 L406.8 115.71 L407.25 119.63 L407.7 115.78 L408.15 113.57 L408.6 112.04 L409.05 114.84 L409.5 115.36 L409.95 113.51 L410.4 114.58 L410.85 115.46 L411.3 113 L411.75 114 L412.2 114.86 L412.65 112.55 L413.1 110.37 L413.55 111.54 L414 111.07 L414.45 112.74 L414.9 107.74 L415.35 105.07 L415.8 107.15 L416.25 106.31 L416.7 104.23 L417.15 104.66 L417.6 103.13 L418.05 103.41 L418.5 99 L418.95 98.07 L419.4 98.02 L419.85 96.38 L420.3 98.45 L420.75 96.56 L421.2 94.82 L421.65 96.52 L422.1 94.1 L422.55 94.11 L423 93.02 L423.45 90.72 L423.9 89.95 L424.35 89.6 L424.8 87.32 L425.25 87.99 L425.7 89.38 L426.15 87.99 L426.6 85.46 L427.05 90.27 L427.5 84.7 L427.95 87.21 L428.4 87.23 L428.85 87.98 L429.3 84.42 L429.75 85.7 L430.2 85.22 L430.65 87.26 L431.1 86.26 L431.55 86.53 L432 86.94 L432.45 89.43 L432.9 87.59 L433.35 88.14 L433.8 85.46 L434.25 88.55 L434.7 86.17 L435.15 90.4 L435.6 89.85 L436.05 88.92 L436.5 89.22 L436.95 91.63 L437.4 92.69 L437.85 92.32 L438.3 93.41 L438.75 94.06 L439.2 94.3 L439.65 95.43 L440.1 96.76 L440.55 98.99 L441 98.53 L441.45 97.2 L441.9 101.28 L442.35 101.18 L442.8 99.47 L443.25 101.92 L443.7 99.7 L444.15 99.6 L444.6 99.91 L445.05 103.91 L445.5 101.81 L445.95 102.35 L446.4 102.21 L446.85 101.72 L447.3 103.39 L447.75 103.96 L448.2 106.27 L448.65 101.7 L449.1 105.33 L449.55 103.77 L450 99.76 L450.45 103.9 L450.9 104.74 L451.35 103.73 L451.8 102.19 L452.25 101.81 L452.7 98.09 L453.15 101.47 L453.6 100.95 L454.05 98.87 L454.5 100.37 L454.95 98.7 L455.4 103.06 L455.85 97.2 L456.3 97.4 L456.75 95.08 L457.2 96.81 L457.65 96.45 L458.1 95.1 L458.55 92.89 L459 94.14 L459.45 91.95 L459.9 92.29 L460.35 88.55 L460.8 84.12 L461.25 84.89 L461.7 81.7 L462.15 82.83 L462.6 78.74 L463.05 77.59 L463.5 76.9 L463.95 73.44 L464.4 74.19 L464.85 75.15 L465.3 71.79 L465.75 71.38 L466.2 71.18 L466.65 69.51 L467.1 69.8 L467.55 70.64 L468 69.01 L468.45 69.38 L468.9 69.11 L469.35 68.98 L469.8 69.91 L470.25 76.46 L470.7 77.83 L471.15 79.03 L471.6 84.34 L472.05 88.21 L472.5 91.78 L472.95 93.46 L473.4 95.55 L473.85 99.62 L474.3 105.05 L474.75 111.38 L475.2 115.52 L475.65 115.06 L476.1 117.32 L476.55 122.18 L477 125.96 L477.45 123.61 L477.9 128.25 L478.35 129.54 L478.8 130.44 L479.25 132.08 L479.7 133.69 L480.15 135.85 L480.6 135.04 L481.05 139.13 L481.5 141.62 L481.95 142.3 L482.4 143.67 L482.85 143.34 L483.3 143.76 L483.75 148.5 L484.2 144.36 L484.65 145.87 L485.1 149.01 L485.55 146.6 L486 143.91 L486.45 145.97 L486.9 146.6 L487.35 147.6 L487.8 147.28 L488.25 150.95 L488.7 150.66 L489.15 150.51 L489.6 148.84 L490.05 152.47 L490.5 152.75 L490.95 155.58 L491.4 149.25 L491.85 150.47 L492.3 153.96 L492.75 148.4 L493.2 151.56 L493.65 151.53 L494.1 151.23 L494.55 149.02 L495 151.35 L495.45 147.93 L495.9 154.14 L496.35 150.37 L496.8 151.92 L497.25 151.6 L497.7 152.13 L498.15 152.06 L498.6 152.82 L499.05 151.09 L499.5 152.06 L499.95 149.53 L500.4 149.73 L500.85 150.23 L501.3 149.91 L501.75 149.14 L502.2 150.89 L502.65 153.82 L503.1 153.38 L503.55 151.54 L504 153.27 L504.45 153.45 L504.9 158.78 L505.35 149.09 L505.8 153.35 L506.25 149.84 L506.7 155.77 L507.15 152.47 L507.6 154.03 L508.05 153.54 L508.5 154.73 L508.95 146.53 L509.4 150.62 L509.85 153.5 L510.3 150.34 L510.75 154.69 L511.2 156.3 L511.65 150.58 L512.1 152.62 L512.55 155.12 L513 157.9 L513.45 156.14 L513.9 155.57 L514.35 151.99 L514.8 154.13 L515.25 154.43 L515.7 152.83 L516.15 155.23 L516.6 153.65 L517.05 153.43 L517.5 159.37 L517.95 154.2 L518.4 158.94 L518.85 153.85 L519.3 154.63 L519.75 152.03 L520.2 153.63 L520.65 158.64 L521.1 155.12 L521.55 150.59 L522 158.48 L522.45 153.26 L522.9 154.4 L523.35 155.34 L523.8 151.2 L524.25 159.1 L524.7 158.59 L525.15 154.96 L525.6 156.6 L526.05 155.21 L526.5 154.57 L526.95 155.48 L527.4 152.79 L527.85 155.23 L528.3 154.95 L528.75 160.68 L529.2 153.03 L529.65 159.35 L530.1 158.17 L530.55 156.94" fill="none" stroke="#14a866" stroke-width="1.6" stroke-linejoin="round" />
<line x1="429.9" y1="53.5" x2="429.9" y2="166.8" stroke="#000" stroke-width="2" stroke-dasharray="10 9.6"/>
<line x1="466.8" y1="53.5" x2="466.8" y2="166.8" stroke="#000" stroke-width="2" stroke-dasharray="10 9.6"/>
<rect x="316.4" y="8.5" width="215.2" height="158.3" fill="none" stroke="#000" stroke-width="2"/>
<line x1="340.27" y1="166.8" x2="340.27" y2="170.3" stroke="#000" stroke-width="1.5" />
<line x1="372.09" y1="166.8" x2="372.09" y2="168.8" stroke="#000" stroke-width="1.5" />
<line x1="403.91" y1="166.8" x2="403.91" y2="170.3" stroke="#000" stroke-width="1.5" />
<line x1="435.73" y1="166.8" x2="435.73" y2="168.8" stroke="#000" stroke-width="1.5" />
<line x1="467.56" y1="166.8" x2="467.56" y2="170.3" stroke="#000" stroke-width="1.5" />
<line x1="499.38" y1="166.8" x2="499.38" y2="168.8" stroke="#000" stroke-width="1.5" />
<line x1="531.2" y1="166.8" x2="531.2" y2="170.3" stroke="#000" stroke-width="1.5" />
<text x="340.27" y="182.5" font-size="13" text-anchor="middle" fill="#000" >800</text>
<text x="403.91" y="182.5" font-size="13" text-anchor="middle" fill="#000" >1200</text>
<text x="467.56" y="182.5" font-size="13" text-anchor="middle" fill="#000" >1600</text>
<text x="531.2" y="182.5" font-size="13" text-anchor="middle" fill="#000" >2000</text>
<text x="423" y="202.6" font-size="13.2" text-anchor="middle" fill="#000" >Raman Shift (cm<tspan dy="-4" font-size="8.5">−1</tspan><tspan dy="4">)</tspan></text>
<text transform="translate(303.9,83.6) rotate(-90)" font-size="13.7" text-anchor="middle">Intensity.a.u.</text>
<text x="525.8" y="25.5" font-size="17.6" text-anchor="end" fill="#000" >(b)</text>
<text x="430.2" y="48.4" font-size="9" text-anchor="middle" fill="#000" >D band</text>
<text x="469.5" y="48.4" font-size="9" text-anchor="middle" fill="#000" >G band</text>
<line x1="320" y1="16.8" x2="333.7" y2="16.8" stroke="#4e4e4e" stroke-width="2" />
<text x="335" y="18.7" font-size="8.5" text-anchor="start" fill="#111" stroke="#111" stroke-width="0.25"><tspan>Ni/SiO</tspan><tspan dy="2.4" font-size="62%">2</tspan></text>
<line x1="320" y1="28.8" x2="333.7" y2="28.8" stroke="#fa1e24" stroke-width="2" />
<text x="335" y="30.7" font-size="8.5" text-anchor="start" fill="#111" stroke="#111" stroke-width="0.25"><tspan>Ni/SiO</tspan><tspan dy="2.4" font-size="62%">2</tspan><tspan dy="-2.4">@N</tspan><tspan dy="2.4" font-size="62%">2</tspan><tspan dy="-2.4">C</tspan></text>
<line x1="320" y1="40.9" x2="333.7" y2="40.9" stroke="#0b6cf0" stroke-width="2" />
<text x="335" y="42.8" font-size="8.5" text-anchor="start" fill="#111" stroke="#111" stroke-width="0.25"><tspan>Ni/SiO</tspan><tspan dy="2.4" font-size="62%">2</tspan><tspan dy="-2.4">@N</tspan><tspan dy="2.4" font-size="62%">7</tspan><tspan dy="-2.4">C</tspan></text>
<line x1="320" y1="53.1" x2="333.7" y2="53.1" stroke="#14a866" stroke-width="2" />
<text x="335" y="55" font-size="8.5" text-anchor="start" fill="#111" stroke="#111" stroke-width="0.25"><tspan>Ni/SiO</tspan><tspan dy="2.4" font-size="62%">2</tspan><tspan dy="-2.4">@N</tspan><tspan dy="2.4" font-size="62%">12</tspan><tspan dy="-2.4">C</tspan></text>
<path d="M47.33 296.42 L48.8 295.91 L50.28 295.57 L51.75 295.26 L53.23 294.96 L54.7 294.65 L56.18 294.34 L57.65 294.03 L68.4 292.84 L79.15 292.01 L89.9 291.19 L100.65 290.52 L111.4 289.85 L122.15 289.4 L132.9 288.95 L143.65 287.63 L154.4 285.54 L165.15 283.47 L175.9 281.85 L186.65 280.23 L197.4 278.13 L208.15 276 L218.9 273.33 L229.65 270.32 L240.4 265.71 L245.78 263.04 L251.15 259.65 L259.96 227.06" fill="none" stroke="#fff01a" stroke-width="1.3" stroke-linejoin="round" />
<circle cx="47.33" cy="296.42" r="2.2" fill="#fff01a"/>
<circle cx="48.8" cy="295.91" r="2.2" fill="#fff01a"/>
<circle cx="50.28" cy="295.57" r="2.2" fill="#fff01a"/>
<circle cx="51.75" cy="295.26" r="2.2" fill="#fff01a"/>
<circle cx="53.23" cy="294.96" r="2.2" fill="#fff01a"/>
<circle cx="54.7" cy="294.65" r="2.2" fill="#fff01a"/>
<circle cx="56.18" cy="294.34" r="2.2" fill="#fff01a"/>
<circle cx="57.65" cy="294.03" r="2.2" fill="#fff01a"/>
<circle cx="68.4" cy="292.84" r="2.2" fill="#fff01a"/>
<circle cx="79.15" cy="292.01" r="2.2" fill="#fff01a"/>
<circle cx="89.9" cy="291.19" r="2.2" fill="#fff01a"/>
<circle cx="100.65" cy="290.52" r="2.2" fill="#fff01a"/>
<circle cx="111.4" cy="289.85" r="2.2" fill="#fff01a"/>
<circle cx="122.15" cy="289.4" r="2.2" fill="#fff01a"/>
<circle cx="132.9" cy="288.95" r="2.2" fill="#fff01a"/>
<circle cx="143.65" cy="287.63" r="2.2" fill="#fff01a"/>
<circle cx="154.4" cy="285.54" r="2.2" fill="#fff01a"/>
<circle cx="165.15" cy="283.47" r="2.2" fill="#fff01a"/>
<circle cx="175.9" cy="281.85" r="2.2" fill="#fff01a"/>
<circle cx="186.65" cy="280.23" r="2.2" fill="#fff01a"/>
<circle cx="197.4" cy="278.13" r="2.2" fill="#fff01a"/>
<circle cx="208.15" cy="276" r="2.2" fill="#fff01a"/>
<circle cx="218.9" cy="273.33" r="2.2" fill="#fff01a"/>
<circle cx="229.65" cy="270.32" r="2.2" fill="#fff01a"/>
<circle cx="240.4" cy="265.71" r="2.2" fill="#fff01a"/>
<circle cx="245.78" cy="263.04" r="2.2" fill="#fff01a"/>
<circle cx="251.15" cy="259.65" r="2.2" fill="#fff01a"/>
<circle cx="259.96" cy="227.06" r="2.2" fill="#fff01a"/>
<path d="M47.33 295.86 L48.8 295.45 L50.28 295.1 L51.75 294.77 L53.23 294.43 L54.7 294.1 L56.18 293.77 L57.65 293.43 L68.4 291.79 L79.15 290.89 L89.9 290 L100.65 289.32 L111.4 288.65 L122.15 287.31 L132.9 285.96 L143.65 284.18 L154.4 281.24 L165.15 278.41 L175.9 277.21 L186.65 276.01 L197.4 273.64 L208.15 271.19 L218.9 268.34 L229.65 265.24 L240.4 260.77 L245.78 257.93 L251.15 253.94 L259.96 227.06" fill="none" stroke="#fff01a" stroke-width="1.3" stroke-linejoin="round" />
<circle cx="47.33" cy="295.86" r="2.2" fill="#fff01a"/>
<circle cx="48.8" cy="295.45" r="2.2" fill="#fff01a"/>
<circle cx="50.28" cy="295.1" r="2.2" fill="#fff01a"/>
<circle cx="51.75" cy="294.77" r="2.2" fill="#fff01a"/>
<circle cx="53.23" cy="294.43" r="2.2" fill="#fff01a"/>
<circle cx="54.7" cy="294.1" r="2.2" fill="#fff01a"/>
<circle cx="56.18" cy="293.77" r="2.2" fill="#fff01a"/>
<circle cx="57.65" cy="293.43" r="2.2" fill="#fff01a"/>
<circle cx="68.4" cy="291.79" r="2.2" fill="#fff01a"/>
<circle cx="79.15" cy="290.89" r="2.2" fill="#fff01a"/>
<circle cx="89.9" cy="290" r="2.2" fill="#fff01a"/>
<circle cx="100.65" cy="289.32" r="2.2" fill="#fff01a"/>
<circle cx="111.4" cy="288.65" r="2.2" fill="#fff01a"/>
<circle cx="122.15" cy="287.31" r="2.2" fill="#fff01a"/>
<circle cx="132.9" cy="285.96" r="2.2" fill="#fff01a"/>
<circle cx="143.65" cy="284.18" r="2.2" fill="#fff01a"/>
<circle cx="154.4" cy="281.24" r="2.2" fill="#fff01a"/>
<circle cx="165.15" cy="278.41" r="2.2" fill="#fff01a"/>
<circle cx="175.9" cy="277.21" r="2.2" fill="#fff01a"/>
<circle cx="186.65" cy="276.01" r="2.2" fill="#fff01a"/>
<circle cx="197.4" cy="273.64" r="2.2" fill="#fff01a"/>
<circle cx="208.15" cy="271.19" r="2.2" fill="#fff01a"/>
<circle cx="218.9" cy="268.34" r="2.2" fill="#fff01a"/>
<circle cx="229.65" cy="265.24" r="2.2" fill="#fff01a"/>
<circle cx="240.4" cy="260.77" r="2.2" fill="#fff01a"/>
<circle cx="245.78" cy="257.93" r="2.2" fill="#fff01a"/>
<circle cx="251.15" cy="253.94" r="2.2" fill="#fff01a"/>
<circle cx="259.96" cy="227.06" r="2.2" fill="#fff01a"/>
<path d="M47.33 327.82 L48.8 327.31 L50.28 327.01 L51.75 326.75 L53.23 326.5 L54.7 326.24 L56.18 325.98 L57.65 325.73 L68.4 324.38 L79.15 323.63 L89.9 322.89 L100.65 322.44 L111.4 321.99 L122.15 321.09 L132.9 320.19 L143.65 318.81 L154.4 317.14 L165.15 315.48 L175.9 314.14 L186.65 312.8 L197.4 310.84 L208.15 308.84 L218.9 305.71 L229.65 301.88 L240.4 297.32 L245.78 294.83 L251.15 289.58 L259.96 269.66" fill="none" stroke="#f58a1f" stroke-width="1.3" stroke-linejoin="round" />
<path d="M47.33 325.18 L49.53 327.82 L47.33 330.46 L45.13 327.82Z" fill="#f58a1f"/>
<path d="M48.8 324.67 L51 327.31 L48.8 329.95 L46.6 327.31Z" fill="#f58a1f"/>
<path d="M50.28 324.37 L52.48 327.01 L50.28 329.65 L48.08 327.01Z" fill="#f58a1f"/>
<path d="M51.75 324.11 L53.95 326.75 L51.75 329.39 L49.55 326.75Z" fill="#f58a1f"/>
<path d="M53.23 323.86 L55.43 326.5 L53.23 329.14 L51.03 326.5Z" fill="#f58a1f"/>
<path d="M54.7 323.6 L56.9 326.24 L54.7 328.88 L52.5 326.24Z" fill="#f58a1f"/>
<path d="M56.18 323.34 L58.38 325.98 L56.18 328.62 L53.98 325.98Z" fill="#f58a1f"/>
<path d="M57.65 323.09 L59.85 325.73 L57.65 328.37 L55.45 325.73Z" fill="#f58a1f"/>
<path d="M68.4 321.74 L70.6 324.38 L68.4 327.02 L66.2 324.38Z" fill="#f58a1f"/>
<path d="M79.15 320.99 L81.35 323.63 L79.15 326.27 L76.95 323.63Z" fill="#f58a1f"/>
<path d="M89.9 320.25 L92.1 322.89 L89.9 325.53 L87.7 322.89Z" fill="#f58a1f"/>
<path d="M100.65 319.8 L102.85 322.44 L100.65 325.08 L98.45 322.44Z" fill="#f58a1f"/>
<path d="M111.4 319.35 L113.6 321.99 L111.4 324.63 L109.2 321.99Z" fill="#f58a1f"/>
<path d="M122.15 318.45 L124.35 321.09 L122.15 323.73 L119.95 321.09Z" fill="#f58a1f"/>
<path d="M132.9 317.56 L135.1 320.19 L132.9 322.83 L130.7 320.19Z" fill="#f58a1f"/>
<path d="M143.65 316.17 L145.85 318.81 L143.65 321.45 L141.45 318.81Z" fill="#f58a1f"/>
<path d="M154.4 314.5 L156.6 317.14 L154.4 319.78 L152.2 317.14Z" fill="#f58a1f"/>
<path d="M165.15 312.84 L167.35 315.48 L165.15 318.12 L162.95 315.48Z" fill="#f58a1f"/>
<path d="M175.9 311.5 L178.1 314.14 L175.9 316.78 L173.7 314.14Z" fill="#f58a1f"/>
<path d="M186.65 310.16 L188.85 312.8 L186.65 315.44 L184.45 312.8Z" fill="#f58a1f"/>
<path d="M197.4 308.2 L199.6 310.84 L197.4 313.48 L195.2 310.84Z" fill="#f58a1f"/>
<path d="M208.15 306.2 L210.35 308.84 L208.15 311.48 L205.95 308.84Z" fill="#f58a1f"/>
<path d="M218.9 303.07 L221.1 305.71 L218.9 308.35 L216.7 305.71Z" fill="#f58a1f"/>
<path d="M229.65 299.24 L231.85 301.88 L229.65 304.52 L227.45 301.88Z" fill="#f58a1f"/>
<path d="M240.4 294.68 L242.6 297.32 L240.4 299.96 L238.2 297.32Z" fill="#f58a1f"/>
<path d="M245.78 292.19 L247.97 294.83 L245.78 297.47 L243.58 294.83Z" fill="#f58a1f"/>
<path d="M251.15 286.94 L253.35 289.58 L251.15 292.22 L248.95 289.58Z" fill="#f58a1f"/>
<path d="M259.96 267.02 L262.16 269.66 L259.96 272.3 L257.76 269.66Z" fill="#f58a1f"/>
<path d="M47.33 327.49 L48.8 326.88 L50.28 326.47 L51.75 326.12 L53.23 325.76 L54.7 325.4 L56.18 325.04 L57.65 324.68 L68.4 322.44 L79.15 321.54 L89.9 320.64 L100.65 319.45 L111.4 318.25 L122.15 316.83 L132.9 315.41 L143.65 312.5 L154.4 309.92 L165.15 307.39 L175.9 305.69 L186.65 304 L197.4 301.54 L208.15 299.02 L218.9 295.24 L229.65 290.69 L240.4 284.76 L245.78 288.39 L251.15 284.85 L259.96 269.66" fill="none" stroke="#f58a1f" stroke-width="1.3" stroke-linejoin="round" />
<path d="M47.33 324.85 L49.53 327.49 L47.33 330.13 L45.13 327.49Z" fill="#f58a1f"/>
<path d="M48.8 324.24 L51 326.88 L48.8 329.52 L46.6 326.88Z" fill="#f58a1f"/>
<path d="M50.28 323.83 L52.48 326.47 L50.28 329.11 L48.08 326.47Z" fill="#f58a1f"/>
<path d="M51.75 323.48 L53.95 326.12 L51.75 328.76 L49.55 326.12Z" fill="#f58a1f"/>
<path d="M53.23 323.12 L55.43 325.76 L53.23 328.4 L51.03 325.76Z" fill="#f58a1f"/>
<path d="M54.7 322.76 L56.9 325.4 L54.7 328.04 L52.5 325.4Z" fill="#f58a1f"/>
<path d="M56.18 322.4 L58.38 325.04 L56.18 327.68 L53.98 325.04Z" fill="#f58a1f"/>
<path d="M57.65 322.04 L59.85 324.68 L57.65 327.32 L55.45 324.68Z" fill="#f58a1f"/>
<path d="M68.4 319.8 L70.6 322.44 L68.4 325.08 L66.2 322.44Z" fill="#f58a1f"/>
<path d="M79.15 318.9 L81.35 321.54 L79.15 324.18 L76.95 321.54Z" fill="#f58a1f"/>
<path d="M89.9 318 L92.1 320.64 L89.9 323.28 L87.7 320.64Z" fill="#f58a1f"/>
<path d="M100.65 316.81 L102.85 319.45 L100.65 322.09 L98.45 319.45Z" fill="#f58a1f"/>
<path d="M111.4 315.61 L113.6 318.25 L111.4 320.89 L109.2 318.25Z" fill="#f58a1f"/>
<path d="M122.15 314.19 L124.35 316.83 L122.15 319.47 L119.95 316.83Z" fill="#f58a1f"/>
<path d="M132.9 312.77 L135.1 315.41 L132.9 318.05 L130.7 315.41Z" fill="#f58a1f"/>
<path d="M143.65 309.86 L145.85 312.5 L143.65 315.14 L141.45 312.5Z" fill="#f58a1f"/>
<path d="M154.4 307.28 L156.6 309.92 L154.4 312.56 L152.2 309.92Z" fill="#f58a1f"/>
<path d="M165.15 304.75 L167.35 307.39 L165.15 310.03 L162.95 307.39Z" fill="#f58a1f"/>
<path d="M175.9 303.05 L178.1 305.69 L175.9 308.33 L173.7 305.69Z" fill="#f58a1f"/>
<path d="M186.65 301.36 L188.85 304 L186.65 306.64 L184.45 304Z" fill="#f58a1f"/>
<path d="M197.4 298.9 L199.6 301.54 L197.4 304.18 L195.2 301.54Z" fill="#f58a1f"/>
<path d="M208.15 296.38 L210.35 299.02 L208.15 301.66 L205.95 299.02Z" fill="#f58a1f"/>
<path d="M218.9 292.6 L221.1 295.24 L218.9 297.88 L216.7 295.24Z" fill="#f58a1f"/>
<path d="M229.65 288.05 L231.85 290.69 L229.65 293.33 L227.45 290.69Z" fill="#f58a1f"/>
<path d="M240.4 282.12 L242.6 284.76 L240.4 287.4 L238.2 284.76Z" fill="#f58a1f"/>
<path d="M245.78 285.75 L247.97 288.39 L245.78 291.03 L243.58 288.39Z" fill="#f58a1f"/>
<path d="M251.15 282.21 L253.35 284.85 L251.15 287.49 L248.95 284.85Z" fill="#f58a1f"/>
<path d="M259.96 267.02 L262.16 269.66 L259.96 272.3 L257.76 269.66Z" fill="#f58a1f"/>
<path d="M47.33 350.57 L48.8 350.16 L50.28 349.95 L51.75 349.77 L53.23 349.59 L54.7 349.41 L56.18 349.23 L57.65 349.05 L68.4 348.6 L79.15 348.08 L89.9 347.55 L100.65 347.4 L111.4 347.25 L122.15 346.88 L132.9 346.51 L143.65 345.46 L154.4 344.69 L165.15 343.89 L175.9 342.69 L186.65 341.5 L197.4 340.14 L208.15 338.77 L218.9 337.38 L229.65 334.75 L240.4 330.49 L245.78 328.35 L251.15 325.13 L259.96 297.47" fill="none" stroke="#0d7a10" stroke-width="1.3" stroke-linejoin="round" />
<path d="M44.91 348.37 L49.75 348.37 L47.33 352.99Z" fill="#0d7a10"/>
<path d="M46.38 347.96 L51.22 347.96 L48.8 352.58Z" fill="#0d7a10"/>
<path d="M47.86 347.75 L52.7 347.75 L50.28 352.37Z" fill="#0d7a10"/>
<path d="M49.33 347.57 L54.17 347.57 L51.75 352.19Z" fill="#0d7a10"/>
<path d="M50.81 347.39 L55.65 347.39 L53.23 352.01Z" fill="#0d7a10"/>
<path d="M52.28 347.21 L57.12 347.21 L54.7 351.83Z" fill="#0d7a10"/>
<path d="M53.76 347.03 L58.6 347.03 L56.18 351.65Z" fill="#0d7a10"/>
<path d="M55.23 346.85 L60.07 346.85 L57.65 351.47Z" fill="#0d7a10"/>
<path d="M65.98 346.4 L70.82 346.4 L68.4 351.02Z" fill="#0d7a10"/>
<path d="M76.73 345.88 L81.57 345.88 L79.15 350.5Z" fill="#0d7a10"/>
<path d="M87.48 345.35 L92.32 345.35 L89.9 349.97Z" fill="#0d7a10"/>
<path d="M98.23 345.2 L103.07 345.2 L100.65 349.82Z" fill="#0d7a10"/>
<path d="M108.98 345.05 L113.82 345.05 L111.4 349.67Z" fill="#0d7a10"/>
<path d="M119.73 344.68 L124.57 344.68 L122.15 349.3Z" fill="#0d7a10"/>
<path d="M130.48 344.31 L135.32 344.31 L132.9 348.93Z" fill="#0d7a10"/>
<path d="M141.23 343.26 L146.07 343.26 L143.65 347.88Z" fill="#0d7a10"/>
<path d="M151.98 342.49 L156.82 342.49 L154.4 347.11Z" fill="#0d7a10"/>
<path d="M162.73 341.69 L167.57 341.69 L165.15 346.31Z" fill="#0d7a10"/>
<path d="M173.48 340.49 L178.32 340.49 L175.9 345.11Z" fill="#0d7a10"/>
<path d="M184.23 339.3 L189.07 339.3 L186.65 343.92Z" fill="#0d7a10"/>
<path d="M194.98 337.94 L199.82 337.94 L197.4 342.56Z" fill="#0d7a10"/>
<path d="M205.73 336.57 L210.57 336.57 L208.15 341.19Z" fill="#0d7a10"/>
<path d="M216.48 335.18 L221.32 335.18 L218.9 339.8Z" fill="#0d7a10"/>
<path d="M227.23 332.55 L232.07 332.55 L229.65 337.17Z" fill="#0d7a10"/>
<path d="M237.98 328.29 L242.82 328.29 L240.4 332.91Z" fill="#0d7a10"/>
<path d="M243.36 326.15 L248.19 326.15 L245.78 330.77Z" fill="#0d7a10"/>
<path d="M248.73 322.93 L253.57 322.93 L251.15 327.55Z" fill="#0d7a10"/>
<path d="M257.54 295.27 L262.38 295.27 L259.96 299.89Z" fill="#0d7a10"/>
<path d="M47.33 350.27 L48.8 349.86 L50.28 349.63 L51.75 349.42 L53.23 349.22 L54.7 349.01 L56.18 348.81 L57.65 348.6 L68.4 348.15 L79.15 347.55 L89.9 346.96 L100.65 346.51 L111.4 346.06 L122.15 345.16 L132.9 344.26 L143.65 343.05 L154.4 342.21 L165.15 341.33 L175.9 339.78 L186.65 338.23 L197.4 336.93 L208.15 335.57 L218.9 333.42 L229.65 330.13 L240.4 326.96 L245.78 325.57 L251.15 321.39 L259.96 297.47" fill="none" stroke="#0d7a10" stroke-width="1.3" stroke-linejoin="round" />
<path d="M44.91 348.07 L49.75 348.07 L47.33 352.69Z" fill="#0d7a10"/>
<path d="M46.38 347.66 L51.22 347.66 L48.8 352.28Z" fill="#0d7a10"/>
<path d="M47.86 347.43 L52.7 347.43 L50.28 352.05Z" fill="#0d7a10"/>
<path d="M49.33 347.22 L54.17 347.22 L51.75 351.84Z" fill="#0d7a10"/>
<path d="M50.81 347.02 L55.65 347.02 L53.23 351.64Z" fill="#0d7a10"/>
<path d="M52.28 346.81 L57.12 346.81 L54.7 351.43Z" fill="#0d7a10"/>
<path d="M53.76 346.61 L58.6 346.61 L56.18 351.23Z" fill="#0d7a10"/>
<path d="M55.23 346.4 L60.07 346.4 L57.65 351.02Z" fill="#0d7a10"/>
<path d="M65.98 345.95 L70.82 345.95 L68.4 350.57Z" fill="#0d7a10"/>
<path d="M76.73 345.35 L81.57 345.35 L79.15 349.97Z" fill="#0d7a10"/>
<path d="M87.48 344.76 L92.32 344.76 L89.9 349.38Z" fill="#0d7a10"/>
<path d="M98.23 344.31 L103.07 344.31 L100.65 348.93Z" fill="#0d7a10"/>
<path d="M108.98 343.86 L113.82 343.86 L111.4 348.48Z" fill="#0d7a10"/>
<path d="M119.73 342.96 L124.57 342.96 L122.15 347.58Z" fill="#0d7a10"/>
<path d="M130.48 342.06 L135.32 342.06 L132.9 346.68Z" fill="#0d7a10"/>
<path d="M141.23 340.85 L146.07 340.85 L143.65 345.47Z" fill="#0d7a10"/>
<path d="M151.98 340.01 L156.82 340.01 L154.4 344.63Z" fill="#0d7a10"/>
<path d="M162.73 339.13 L167.57 339.13 L165.15 343.75Z" fill="#0d7a10"/>
<path d="M173.48 337.58 L178.32 337.58 L175.9 342.2Z" fill="#0d7a10"/>
<path d="M184.23 336.03 L189.07 336.03 L186.65 340.65Z" fill="#0d7a10"/>
<path d="M194.98 334.73 L199.82 334.73 L197.4 339.35Z" fill="#0d7a10"/>
<path d="M205.73 333.37 L210.57 333.37 L208.15 337.99Z" fill="#0d7a10"/>
<path d="M216.48 331.22 L221.32 331.22 L218.9 335.84Z" fill="#0d7a10"/>
<path d="M227.23 327.93 L232.07 327.93 L229.65 332.55Z" fill="#0d7a10"/>
<path d="M237.98 324.76 L242.82 324.76 L240.4 329.38Z" fill="#0d7a10"/>
<path d="M243.36 323.37 L248.19 323.37 L245.78 327.99Z" fill="#0d7a10"/>
<path d="M248.73 319.19 L253.57 319.19 L251.15 323.81Z" fill="#0d7a10"/>
<path d="M257.54 295.27 L262.38 295.27 L259.96 299.89Z" fill="#0d7a10"/>
<path d="M47.33 371.62 L48.8 371.11 L50.28 370.81 L51.75 370.56 L53.23 370.3 L54.7 370.04 L56.18 369.79 L57.65 369.53 L68.4 368.63 L79.15 368.11 L89.9 367.59 L100.65 367.21 L111.4 366.84 L122.15 366.09 L132.9 365.34 L143.65 364.29 L154.4 363.52 L165.15 362.74 L175.9 361.76 L186.65 360.77 L197.4 359.43 L208.15 358.06 L218.9 356.66 L229.65 354.04 L240.4 350.07 L245.78 347.94 L251.15 342.77 L259.96 298.82" fill="none" stroke="#9a9a12" stroke-width="1.3" stroke-linejoin="round" />
<circle cx="47.33" cy="371.62" r="2.2" fill="#9a9a12"/>
<circle cx="48.8" cy="371.11" r="2.2" fill="#9a9a12"/>
<circle cx="50.28" cy="370.81" r="2.2" fill="#9a9a12"/>
<circle cx="51.75" cy="370.56" r="2.2" fill="#9a9a12"/>
<circle cx="53.23" cy="370.3" r="2.2" fill="#9a9a12"/>
<circle cx="54.7" cy="370.04" r="2.2" fill="#9a9a12"/>
<circle cx="56.18" cy="369.79" r="2.2" fill="#9a9a12"/>
<circle cx="57.65" cy="369.53" r="2.2" fill="#9a9a12"/>
<circle cx="68.4" cy="368.63" r="2.2" fill="#9a9a12"/>
<circle cx="79.15" cy="368.11" r="2.2" fill="#9a9a12"/>
<circle cx="89.9" cy="367.59" r="2.2" fill="#9a9a12"/>
<circle cx="100.65" cy="367.21" r="2.2" fill="#9a9a12"/>
<circle cx="111.4" cy="366.84" r="2.2" fill="#9a9a12"/>
<circle cx="122.15" cy="366.09" r="2.2" fill="#9a9a12"/>
<circle cx="132.9" cy="365.34" r="2.2" fill="#9a9a12"/>
<circle cx="143.65" cy="364.29" r="2.2" fill="#9a9a12"/>
<circle cx="154.4" cy="363.52" r="2.2" fill="#9a9a12"/>
<circle cx="165.15" cy="362.74" r="2.2" fill="#9a9a12"/>
<circle cx="175.9" cy="361.76" r="2.2" fill="#9a9a12"/>
<circle cx="186.65" cy="360.77" r="2.2" fill="#9a9a12"/>
<circle cx="197.4" cy="359.43" r="2.2" fill="#9a9a12"/>
<circle cx="208.15" cy="358.06" r="2.2" fill="#9a9a12"/>
<circle cx="218.9" cy="356.66" r="2.2" fill="#9a9a12"/>
<circle cx="229.65" cy="354.04" r="2.2" fill="#9a9a12"/>
<circle cx="240.4" cy="350.07" r="2.2" fill="#9a9a12"/>
<circle cx="245.78" cy="347.94" r="2.2" fill="#9a9a12"/>
<circle cx="251.15" cy="342.77" r="2.2" fill="#9a9a12"/>
<circle cx="259.96" cy="298.82" r="2.2" fill="#9a9a12"/>
<path d="M47.33 371.17 L48.8 370.66 L50.28 370.36 L51.75 370.11 L53.23 369.85 L54.7 369.59 L56.18 369.34 L57.65 369.08 L68.4 368.04 L79.15 367.51 L89.9 366.99 L100.65 366.17 L111.4 365.34 L122.15 364.52 L132.9 363.7 L143.65 362.29 L154.4 361.25 L165.15 360.2 L175.9 359.21 L186.65 358.23 L197.4 356.88 L208.15 355.52 L218.9 354.12 L229.65 351.5 L240.4 347.49 L245.78 344.82 L251.15 336.34 L259.96 298.82" fill="none" stroke="#9a9a12" stroke-width="1.3" stroke-linejoin="round" />
<circle cx="47.33" cy="371.17" r="2.2" fill="#9a9a12"/>
<circle cx="48.8" cy="370.66" r="2.2" fill="#9a9a12"/>
<circle cx="50.28" cy="370.36" r="2.2" fill="#9a9a12"/>
<circle cx="51.75" cy="370.11" r="2.2" fill="#9a9a12"/>
<circle cx="53.23" cy="369.85" r="2.2" fill="#9a9a12"/>
<circle cx="54.7" cy="369.59" r="2.2" fill="#9a9a12"/>
<circle cx="56.18" cy="369.34" r="2.2" fill="#9a9a12"/>
<circle cx="57.65" cy="369.08" r="2.2" fill="#9a9a12"/>
<circle cx="68.4" cy="368.04" r="2.2" fill="#9a9a12"/>
<circle cx="79.15" cy="367.51" r="2.2" fill="#9a9a12"/>
<circle cx="89.9" cy="366.99" r="2.2" fill="#9a9a12"/>
<circle cx="100.65" cy="366.17" r="2.2" fill="#9a9a12"/>
<circle cx="111.4" cy="365.34" r="2.2" fill="#9a9a12"/>
<circle cx="122.15" cy="364.52" r="2.2" fill="#9a9a12"/>
<circle cx="132.9" cy="363.7" r="2.2" fill="#9a9a12"/>
<circle cx="143.65" cy="362.29" r="2.2" fill="#9a9a12"/>
<circle cx="154.4" cy="361.25" r="2.2" fill="#9a9a12"/>
<circle cx="165.15" cy="360.2" r="2.2" fill="#9a9a12"/>
<circle cx="175.9" cy="359.21" r="2.2" fill="#9a9a12"/>
<circle cx="186.65" cy="358.23" r="2.2" fill="#9a9a12"/>
<circle cx="197.4" cy="356.88" r="2.2" fill="#9a9a12"/>
<circle cx="208.15" cy="355.52" r="2.2" fill="#9a9a12"/>
<circle cx="218.9" cy="354.12" r="2.2" fill="#9a9a12"/>
<circle cx="229.65" cy="351.5" r="2.2" fill="#9a9a12"/>
<circle cx="240.4" cy="347.49" r="2.2" fill="#9a9a12"/>
<circle cx="245.78" cy="344.82" r="2.2" fill="#9a9a12"/>
<circle cx="251.15" cy="336.34" r="2.2" fill="#9a9a12"/>
<circle cx="259.96" cy="298.82" r="2.2" fill="#9a9a12"/>
<rect x="46.7" y="221.9" width="215.3" height="156.7" fill="none" stroke="#000" stroke-width="2"/>
<line x1="46.7" y1="378.5" x2="43.2" y2="378.5" stroke="#000" stroke-width="1.5" />
<line x1="46.7" y1="363.55" x2="44.7" y2="363.55" stroke="#000" stroke-width="1.5" />
<line x1="46.7" y1="348.6" x2="43.2" y2="348.6" stroke="#000" stroke-width="1.5" />
<line x1="46.7" y1="333.65" x2="44.7" y2="333.65" stroke="#000" stroke-width="1.5" />
<line x1="46.7" y1="318.7" x2="43.2" y2="318.7" stroke="#000" stroke-width="1.5" />
<line x1="46.7" y1="303.75" x2="44.7" y2="303.75" stroke="#000" stroke-width="1.5" />
<line x1="46.7" y1="288.8" x2="43.2" y2="288.8" stroke="#000" stroke-width="1.5" />
<line x1="46.7" y1="273.85" x2="44.7" y2="273.85" stroke="#000" stroke-width="1.5" />
<line x1="46.7" y1="258.9" x2="43.2" y2="258.9" stroke="#000" stroke-width="1.5" />
<line x1="46.7" y1="243.95" x2="44.7" y2="243.95" stroke="#000" stroke-width="1.5" />
<line x1="46.7" y1="229" x2="43.2" y2="229" stroke="#000" stroke-width="1.5" />
<line x1="46.9" y1="378.6" x2="46.9" y2="382.1" stroke="#000" stroke-width="1.5" />
<line x1="68.4" y1="378.6" x2="68.4" y2="380.6" stroke="#000" stroke-width="1.5" />
<line x1="89.9" y1="378.6" x2="89.9" y2="382.1" stroke="#000" stroke-width="1.5" />
<line x1="111.4" y1="378.6" x2="111.4" y2="380.6" stroke="#000" stroke-width="1.5" />
<line x1="132.9" y1="378.6" x2="132.9" y2="382.1" stroke="#000" stroke-width="1.5" />
<line x1="154.4" y1="378.6" x2="154.4" y2="380.6" stroke="#000" stroke-width="1.5" />
<line x1="175.9" y1="378.6" x2="175.9" y2="382.1" stroke="#000" stroke-width="1.5" />
<line x1="197.4" y1="378.6" x2="197.4" y2="380.6" stroke="#000" stroke-width="1.5" />
<line x1="218.9" y1="378.6" x2="218.9" y2="382.1" stroke="#000" stroke-width="1.5" />
<line x1="240.4" y1="378.6" x2="240.4" y2="380.6" stroke="#000" stroke-width="1.5" />
<line x1="261.9" y1="378.6" x2="261.9" y2="382.1" stroke="#000" stroke-width="1.5" />
<text x="41.3" y="382.5" font-size="13" text-anchor="end" fill="#000" >0</text>
<text x="41.3" y="352.6" font-size="13" text-anchor="end" fill="#000" >20</text>
<text x="41.3" y="322.7" font-size="13" text-anchor="end" fill="#000" >40</text>
<text x="41.3" y="292.8" font-size="13" text-anchor="end" fill="#000" >60</text>
<text x="41.3" y="262.9" font-size="13" text-anchor="end" fill="#000" >80</text>
<text x="41.3" y="233" font-size="13" text-anchor="end" fill="#000" >100</text>
<text x="46.9" y="393.6" font-size="13" text-anchor="middle" fill="#000" >0.0</text>
<text x="89.9" y="393.6" font-size="13" text-anchor="middle" fill="#000" >0.2</text>
<text x="132.9" y="393.6" font-size="13" text-anchor="middle" fill="#000" >0.4</text>
<text x="175.9" y="393.6" font-size="13" text-anchor="middle" fill="#000" >0.6</text>
<text x="218.9" y="393.6" font-size="13" text-anchor="middle" fill="#000" >0.8</text>
<text x="261.9" y="393.6" font-size="13" text-anchor="middle" fill="#000" >1.0</text>
<text x="154" y="414.9" font-size="13.4" text-anchor="middle" fill="#000" >Relative pressure (P/P<tspan dy="2.8" font-size="9">0</tspan><tspan dy="-2.8">)</tspan></text>
<text transform="translate(15.9,298.5) rotate(-90)" font-size="12.2" text-anchor="middle">Adsorbed volume (cm<tspan dy="-5" font-size="7.5">3</tspan><tspan dy="5">/g STP)</tspan></text>
<text x="52" y="238.8" font-size="17.6" text-anchor="start" fill="#000" >(c)</text>
<text x="54.6" y="277.5" font-size="9.7" text-anchor="start" fill="#1a1a1a" stroke="#1a1a1a" stroke-width="0.2"><tspan>Ni/SiO</tspan><tspan dy="2.7" font-size="68%">2</tspan><tspan dy="-2.7">@N</tspan><tspan dy="2.7" font-size="68%">12</tspan><tspan dy="-2.7">C</tspan></text>
<text x="54.6" y="307.9" font-size="9.7" text-anchor="start" fill="#1a1a1a" stroke="#1a1a1a" stroke-width="0.2"><tspan>Ni/SiO</tspan><tspan dy="2.7" font-size="68%">2</tspan><tspan dy="-2.7">@N</tspan><tspan dy="2.7" font-size="68%">7</tspan><tspan dy="-2.7">C</tspan></text>
<text x="54.6" y="337.9" font-size="9.7" text-anchor="start" fill="#1a1a1a" stroke="#1a1a1a" stroke-width="0.2"><tspan>Ni/SiO</tspan><tspan dy="2.7" font-size="68%">2</tspan><tspan dy="-2.7">@N</tspan><tspan dy="2.7" font-size="68%">2</tspan><tspan dy="-2.7">C</tspan></text>
<text x="54.6" y="360" font-size="9.7" text-anchor="start" fill="#1a1a1a" stroke="#1a1a1a" stroke-width="0.2"><tspan>Ni/SiO</tspan><tspan dy="2.7" font-size="68%">2</tspan></text>
<path d="M328.8 363 L332.5 333 L334.5 349.5 L340.2 354.8 L344.7 350.9 L349.9 350.9 L357.5 350 L369.4 351.6 L390.6 340.4 L424.8 337.1 L466 325.6 L531 325.6" fill="none" stroke="#4d4d4d" stroke-width="1.4" stroke-linejoin="round" />
<rect x="327.09" y="361.29" width="3.42" height="3.42" fill="#4d4d4d"/>
<rect x="330.79" y="331.29" width="3.42" height="3.42" fill="#4d4d4d"/>
<rect x="332.79" y="347.79" width="3.42" height="3.42" fill="#4d4d4d"/>
<rect x="338.49" y="353.09" width="3.42" height="3.42" fill="#4d4d4d"/>
<rect x="342.99" y="349.19" width="3.42" height="3.42" fill="#4d4d4d"/>
<rect x="348.19" y="349.19" width="3.42" height="3.42" fill="#4d4d4d"/>
<rect x="355.79" y="348.29" width="3.42" height="3.42" fill="#4d4d4d"/>
<rect x="367.69" y="349.89" width="3.42" height="3.42" fill="#4d4d4d"/>
<rect x="388.89" y="338.69" width="3.42" height="3.42" fill="#4d4d4d"/>
<rect x="423.09" y="335.39" width="3.42" height="3.42" fill="#4d4d4d"/>
<rect x="464.29" y="323.89" width="3.42" height="3.42" fill="#4d4d4d"/>
<path d="M330.6 356 L332.5 309 L334.2 350.5 L336.9 351 L340.2 349.4 L344.7 347.8 L349.9 345.6 L357 339.7 L369.4 338.2 L391.8 344.2 L424.8 349 L462.4 354 L531 353" fill="none" stroke="#f03030" stroke-width="1.4" stroke-linejoin="round" />
<circle cx="330.6" cy="356" r="1.9" fill="#f03030"/>
<circle cx="332.5" cy="309" r="1.9" fill="#f03030"/>
<circle cx="334.2" cy="350.5" r="1.9" fill="#f03030"/>
<circle cx="336.9" cy="351" r="1.9" fill="#f03030"/>
<circle cx="340.2" cy="349.4" r="1.9" fill="#f03030"/>
<circle cx="344.7" cy="347.8" r="1.9" fill="#f03030"/>
<circle cx="349.9" cy="345.6" r="1.9" fill="#f03030"/>
<circle cx="357" cy="339.7" r="1.9" fill="#f03030"/>
<circle cx="369.4" cy="338.2" r="1.9" fill="#f03030"/>
<circle cx="391.8" cy="344.2" r="1.9" fill="#f03030"/>
<circle cx="424.8" cy="349" r="1.9" fill="#f03030"/>
<circle cx="462.4" cy="354" r="1.9" fill="#f03030"/>
<path d="M330 333 L332.6 255 L334.8 330 L336.9 339.3 L339.1 322.5 L344 320.2 L349.9 329.9 L357 315 L369.4 311.3 L394 337.5 L429 369.6 L468 356.5 L531 355.7" fill="none" stroke="#1060ee" stroke-width="1.4" stroke-linejoin="round" />
<path d="M330 330.72 L332.09 334.52 L327.91 334.52Z" fill="#1060ee"/>
<path d="M332.6 252.72 L334.69 256.52 L330.51 256.52Z" fill="#1060ee"/>
<path d="M334.8 327.72 L336.89 331.52 L332.71 331.52Z" fill="#1060ee"/>
<path d="M336.9 337.02 L338.99 340.82 L334.81 340.82Z" fill="#1060ee"/>
<path d="M339.1 320.22 L341.19 324.02 L337.01 324.02Z" fill="#1060ee"/>
<path d="M344 317.92 L346.09 321.72 L341.91 321.72Z" fill="#1060ee"/>
<path d="M349.9 327.62 L351.99 331.42 L347.81 331.42Z" fill="#1060ee"/>
<path d="M357 312.72 L359.09 316.52 L354.91 316.52Z" fill="#1060ee"/>
<path d="M369.4 309.02 L371.49 312.82 L367.31 312.82Z" fill="#1060ee"/>
<path d="M394 335.22 L396.09 339.02 L391.91 339.02Z" fill="#1060ee"/>
<path d="M429 367.32 L431.09 371.12 L426.91 371.12Z" fill="#1060ee"/>
<path d="M468 354.22 L470.09 358.02 L465.91 358.02Z" fill="#1060ee"/>
<path d="M329 347.8 L330.4 333.7 L332.6 270 L334.6 332.6 L339.1 334.8 L344 332.6 L349.9 331 L357 330.8 L369.4 331.4 L390.6 339.3 L424.8 345.6 L461 348.7 L531 347.5" fill="none" stroke="#12a860" stroke-width="1.4" stroke-linejoin="round" />
<path d="M326.91 346.28 L331.09 346.28 L329 350.08Z" fill="#12a860"/>
<path d="M328.31 332.18 L332.49 332.18 L330.4 335.98Z" fill="#12a860"/>
<path d="M330.51 268.48 L334.69 268.48 L332.6 272.28Z" fill="#12a860"/>
<path d="M332.51 331.08 L336.69 331.08 L334.6 334.88Z" fill="#12a860"/>
<path d="M337.01 333.28 L341.19 333.28 L339.1 337.08Z" fill="#12a860"/>
<path d="M341.91 331.08 L346.09 331.08 L344 334.88Z" fill="#12a860"/>
<path d="M347.81 329.48 L351.99 329.48 L349.9 333.28Z" fill="#12a860"/>
<path d="M354.91 329.28 L359.09 329.28 L357 333.08Z" fill="#12a860"/>
<path d="M367.31 329.88 L371.49 329.88 L369.4 333.68Z" fill="#12a860"/>
<path d="M388.51 337.78 L392.69 337.78 L390.6 341.58Z" fill="#12a860"/>
<path d="M422.71 344.08 L426.89 344.08 L424.8 347.88Z" fill="#12a860"/>
<path d="M458.91 347.18 L463.09 347.18 L461 350.98Z" fill="#12a860"/>
<rect x="316.3" y="222.4" width="215.5" height="156.5" fill="none" stroke="#000" stroke-width="2"/>
<line x1="316.3" y1="370" x2="312.8" y2="370" stroke="#000" stroke-width="1.5" />
<text x="311.2" y="374" font-size="13" text-anchor="end" fill="#000" >0.00</text>
<line x1="316.3" y1="342.2" x2="312.8" y2="342.2" stroke="#000" stroke-width="1.5" />
<text x="311.2" y="346.2" font-size="13" text-anchor="end" fill="#000" >0.03</text>
<line x1="316.3" y1="314.4" x2="312.8" y2="314.4" stroke="#000" stroke-width="1.5" />
<text x="311.2" y="318.4" font-size="13" text-anchor="end" fill="#000" >0.06</text>
<line x1="316.3" y1="286.6" x2="312.8" y2="286.6" stroke="#000" stroke-width="1.5" />
<text x="311.2" y="290.6" font-size="13" text-anchor="end" fill="#000" >0.09</text>
<line x1="316.3" y1="258.8" x2="312.8" y2="258.8" stroke="#000" stroke-width="1.5" />
<text x="311.2" y="262.8" font-size="13" text-anchor="end" fill="#000" >0.12</text>
<line x1="316.3" y1="231" x2="312.8" y2="231" stroke="#000" stroke-width="1.5" />
<text x="311.2" y="235" font-size="13" text-anchor="end" fill="#000" >0.15</text>
<line x1="316.5" y1="378.9" x2="316.5" y2="382.4" stroke="#000" stroke-width="1.5" />
<line x1="338.05" y1="378.9" x2="338.05" y2="380.9" stroke="#000" stroke-width="1.5" />
<line x1="359.6" y1="378.9" x2="359.6" y2="382.4" stroke="#000" stroke-width="1.5" />
<line x1="381.15" y1="378.9" x2="381.15" y2="380.9" stroke="#000" stroke-width="1.5" />
<line x1="402.7" y1="378.9" x2="402.7" y2="382.4" stroke="#000" stroke-width="1.5" />
<line x1="424.25" y1="378.9" x2="424.25" y2="380.9" stroke="#000" stroke-width="1.5" />
<line x1="445.8" y1="378.9" x2="445.8" y2="382.4" stroke="#000" stroke-width="1.5" />
<line x1="467.35" y1="378.9" x2="467.35" y2="380.9" stroke="#000" stroke-width="1.5" />
<line x1="488.9" y1="378.9" x2="488.9" y2="382.4" stroke="#000" stroke-width="1.5" />
<line x1="510.45" y1="378.9" x2="510.45" y2="380.9" stroke="#000" stroke-width="1.5" />
<line x1="532" y1="378.9" x2="532" y2="382.4" stroke="#000" stroke-width="1.5" />
<text x="316.5" y="394" font-size="13" text-anchor="middle" fill="#000" >0</text>
<text x="359.6" y="394" font-size="13" text-anchor="middle" fill="#000" >10</text>
<text x="402.7" y="394" font-size="13" text-anchor="middle" fill="#000" >20</text>
<text x="445.8" y="394" font-size="13" text-anchor="middle" fill="#000" >30</text>
<text x="488.9" y="394" font-size="13" text-anchor="middle" fill="#000" >40</text>
<text x="532" y="394" font-size="13" text-anchor="middle" fill="#000" >50</text>
<text x="424" y="413.7" font-size="13.2" text-anchor="middle" fill="#000" >Pore Diameter (nm)</text>
<text transform="translate(280,299.5) rotate(-90)" font-size="13.3" text-anchor="middle">dV/dlog (D) (cm<tspan dy="-5.5" font-size="8">3</tspan><tspan dy="5.5">/g)</tspan></text>
<text x="321.8" y="238.4" font-size="17.6" text-anchor="start" fill="#000" >(d)</text>
<line x1="439" y1="233" x2="456" y2="233" stroke="#4d4d4d" stroke-width="1.9" />
<rect x="445.8" y="231.2" width="3.6" height="3.6" fill="#4d4d4d"/>
<text x="460" y="236.3" font-size="9.9" text-anchor="start" fill="#111" stroke="#111" stroke-width="0.2"><tspan>Ni/SiO</tspan><tspan dy="2.8" font-size="62%">2</tspan></text>
<line x1="439" y1="246.8" x2="456" y2="246.8" stroke="#f03030" stroke-width="1.9" />
<circle cx="447.6" cy="246.8" r="2" fill="#f03030"/>
<text x="460" y="250.1" font-size="9.9" text-anchor="start" fill="#111" stroke="#111" stroke-width="0.2"><tspan>Ni/SiO</tspan><tspan dy="2.8" font-size="62%">2</tspan><tspan dy="-2.8">@N</tspan><tspan dy="2.8" font-size="62%">2</tspan><tspan dy="-2.8">C</tspan></text>
<line x1="439" y1="260.6" x2="456" y2="260.6" stroke="#1060ee" stroke-width="1.9" />
<path d="M447.6 258.2 L449.8 262.2 L445.4 262.2Z" fill="#1060ee"/>
<text x="460" y="263.9" font-size="9.9" text-anchor="start" fill="#111" stroke="#111" stroke-width="0.2"><tspan>Ni/SiO</tspan><tspan dy="2.8" font-size="62%">2</tspan><tspan dy="-2.8">@N</tspan><tspan dy="2.8" font-size="62%">7</tspan><tspan dy="-2.8">C</tspan></text>
<line x1="439" y1="274.4" x2="456" y2="274.4" stroke="#12a860" stroke-width="1.9" />
<path d="M445.4 272.8 L449.8 272.8 L447.6 276.8Z" fill="#12a860"/>
<text x="460" y="277.7" font-size="9.9" text-anchor="start" fill="#111" stroke="#111" stroke-width="0.2"><tspan>Ni/SiO</tspan><tspan dy="2.8" font-size="62%">2</tspan><tspan dy="-2.8">@N</tspan><tspan dy="2.8" font-size="62%">12</tspan><tspan dy="-2.8">C</tspan></text>
</svg>
</body></html>
